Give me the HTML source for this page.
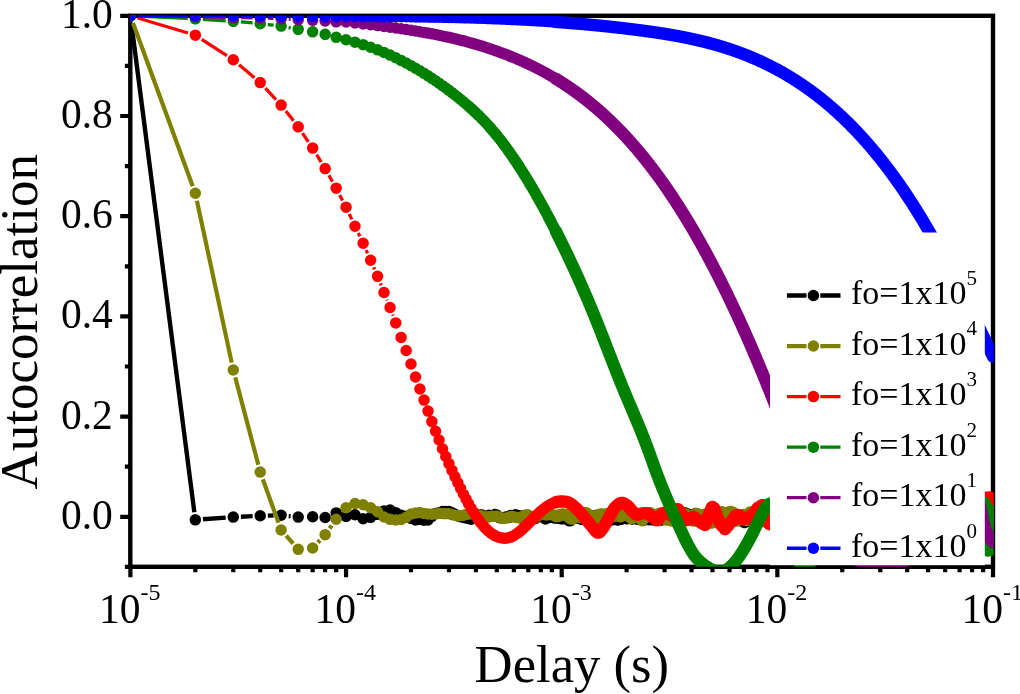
<!DOCTYPE html><html><head><meta charset="utf-8"><style>html,body{margin:0;padding:0;background:#fff;}svg{display:block;}text{font-family:"Liberation Serif","Times New Roman",serif;fill:#000;}</style></head><body>
<svg width="1020" height="694" viewBox="0 0 1020 694">
<rect width="1020" height="694" fill="#fff"/>
<defs><clipPath id="pc"><rect x="130.3" y="15.8" width="863.5" height="551"/></clipPath></defs>
<rect x="130.3" y="15.8" width="862.7" height="551" fill="none" stroke="#000" stroke-width="4.4"/>
<path d="M124.9 566.9H130.3M120.2 516.8H130.3M124.9 466.7H130.3M120.2 416.6H130.3M124.9 366.5H130.3M120.2 316.4H130.3M124.9 266.3H130.3M120.2 216.2H130.3M124.9 166.1H130.3M120.2 116H130.3M124.9 65.9H130.3M120.2 15.8H130.3M130.4 566.8V577.3M195.32 566.8V572.2M233.29 566.8V572.2M260.23 566.8V572.2M281.13 566.8V572.2M298.21 566.8V572.2M312.65 566.8V572.2M325.15 566.8V572.2M336.18 566.8V572.2M346.05 566.8V577.3M410.97 566.8V572.2M448.94 566.8V572.2M475.88 566.8V572.2M496.78 566.8V572.2M513.86 566.8V572.2M528.3 566.8V572.2M540.8 566.8V572.2M551.83 566.8V572.2M561.7 566.8V577.3M626.62 566.8V572.2M664.59 566.8V572.2M691.53 566.8V572.2M712.43 566.8V572.2M729.51 566.8V572.2M743.95 566.8V572.2M756.45 566.8V572.2M767.48 566.8V572.2M777.35 566.8V577.3M842.27 566.8V572.2M880.24 566.8V572.2M907.18 566.8V572.2M928.08 566.8V572.2M945.16 566.8V572.2M959.6 566.8V572.2M972.1 566.8V572.2M983.13 566.8V572.2M993 566.8V577.3" stroke="#000" stroke-width="4.2" fill="none"/>
<g clip-path="url(#pc)">
<path d="M131.37 23.34L194.35 512.27M202.9 519.27L225.71 517.64M240.88 516.73L252.64 516.17M267.83 515.62L273.54 515.48M288.69 516.1L290.65 516.3" stroke="#000000" stroke-width="4.4" fill="none"/>
<path d="M124.65 15.8a5.75 5.75 0 1 0 11.5 0a5.75 5.75 0 1 0 -11.5 0M189.57 519.81a5.75 5.75 0 1 0 11.5 0a5.75 5.75 0 1 0 -11.5 0M227.54 517.1a5.75 5.75 0 1 0 11.5 0a5.75 5.75 0 1 0 -11.5 0M254.48 515.8a5.75 5.75 0 1 0 11.5 0a5.75 5.75 0 1 0 -11.5 0M275.38 515.3a5.75 5.75 0 1 0 11.5 0a5.75 5.75 0 1 0 -11.5 0M292.46 517.1a5.75 5.75 0 1 0 11.5 0a5.75 5.75 0 1 0 -11.5 0M306.9 516.8a5.75 5.75 0 1 0 11.5 0a5.75 5.75 0 1 0 -11.5 0M319.4 517.5a5.75 5.75 0 1 0 11.5 0a5.75 5.75 0 1 0 -11.5 0M330.43 512.89a5.75 5.75 0 1 0 11.5 0a5.75 5.75 0 1 0 -11.5 0M340.3 516.5a5.75 5.75 0 1 0 11.5 0a5.75 5.75 0 1 0 -11.5 0M349.23 514.8a5.75 5.75 0 1 0 11.5 0a5.75 5.75 0 1 0 -11.5 0M357.38 518.8a5.75 5.75 0 1 0 11.5 0a5.75 5.75 0 1 0 -11.5 0M364.87 517.33a5.75 5.75 0 1 0 11.5 0a5.75 5.75 0 1 0 -11.5 0M371.81 514.33a5.75 5.75 0 1 0 11.5 0a5.75 5.75 0 1 0 -11.5 0M378.27 510.89a5.75 5.75 0 1 0 11.5 0a5.75 5.75 0 1 0 -11.5 0M384.32 510.08a5.75 5.75 0 1 0 11.5 0a5.75 5.75 0 1 0 -11.5 0M390 512.64a5.75 5.75 0 1 0 11.5 0a5.75 5.75 0 1 0 -11.5 0M395.35 515.13a5.75 5.75 0 1 0 11.5 0a5.75 5.75 0 1 0 -11.5 0M400.41 516.36a5.75 5.75 0 1 0 11.5 0a5.75 5.75 0 1 0 -11.5 0M405.22 518.33a5.75 5.75 0 1 0 11.5 0a5.75 5.75 0 1 0 -11.5 0M409.79 519.97a5.75 5.75 0 1 0 11.5 0a5.75 5.75 0 1 0 -11.5 0M414.14 519.17a5.75 5.75 0 1 0 11.5 0a5.75 5.75 0 1 0 -11.5 0M418.31 520.18a5.75 5.75 0 1 0 11.5 0a5.75 5.75 0 1 0 -11.5 0M422.29 519.88a5.75 5.75 0 1 0 11.5 0a5.75 5.75 0 1 0 -11.5 0M426.12 516.34a5.75 5.75 0 1 0 11.5 0a5.75 5.75 0 1 0 -11.5 0M429.79 513.38a5.75 5.75 0 1 0 11.5 0a5.75 5.75 0 1 0 -11.5 0M433.32 512.84a5.75 5.75 0 1 0 11.5 0a5.75 5.75 0 1 0 -11.5 0M436.73 511.49a5.75 5.75 0 1 0 11.5 0a5.75 5.75 0 1 0 -11.5 0M440.02 511.46a5.75 5.75 0 1 0 11.5 0a5.75 5.75 0 1 0 -11.5 0M443.19 511.38a5.75 5.75 0 1 0 11.5 0a5.75 5.75 0 1 0 -11.5 0M446.26 512.8a5.75 5.75 0 1 0 11.5 0a5.75 5.75 0 1 0 -11.5 0M449.24 514.35a5.75 5.75 0 1 0 11.5 0a5.75 5.75 0 1 0 -11.5 0M452.12 516.01a5.75 5.75 0 1 0 11.5 0a5.75 5.75 0 1 0 -11.5 0M454.91 516.67a5.75 5.75 0 1 0 11.5 0a5.75 5.75 0 1 0 -11.5 0M457.63 517.46a5.75 5.75 0 1 0 11.5 0a5.75 5.75 0 1 0 -11.5 0M460.27 517.88a5.75 5.75 0 1 0 11.5 0a5.75 5.75 0 1 0 -11.5 0M462.83 518.62a5.75 5.75 0 1 0 11.5 0a5.75 5.75 0 1 0 -11.5 0M465.33 519.2a5.75 5.75 0 1 0 11.5 0a5.75 5.75 0 1 0 -11.5 0M467.76 516.87a5.75 5.75 0 1 0 11.5 0a5.75 5.75 0 1 0 -11.5 0M470.13 518.4a5.75 5.75 0 1 0 11.5 0a5.75 5.75 0 1 0 -11.5 0M472.45 516.57a5.75 5.75 0 1 0 11.5 0a5.75 5.75 0 1 0 -11.5 0M474.7 514.74a5.75 5.75 0 1 0 11.5 0a5.75 5.75 0 1 0 -11.5 0M476.91 515.36a5.75 5.75 0 1 0 11.5 0a5.75 5.75 0 1 0 -11.5 0M479.06 516.16a5.75 5.75 0 1 0 11.5 0a5.75 5.75 0 1 0 -11.5 0M481.17 516.87a5.75 5.75 0 1 0 11.5 0a5.75 5.75 0 1 0 -11.5 0M483.22 515.3a5.75 5.75 0 1 0 11.5 0a5.75 5.75 0 1 0 -11.5 0M485.24 516.34a5.75 5.75 0 1 0 11.5 0a5.75 5.75 0 1 0 -11.5 0M487.21 516.27a5.75 5.75 0 1 0 11.5 0a5.75 5.75 0 1 0 -11.5 0M489.14 514.47a5.75 5.75 0 1 0 11.5 0a5.75 5.75 0 1 0 -11.5 0M491.03 515.05a5.75 5.75 0 1 0 11.5 0a5.75 5.75 0 1 0 -11.5 0M492.89 517.2a5.75 5.75 0 1 0 11.5 0a5.75 5.75 0 1 0 -11.5 0M494.71 517.85a5.75 5.75 0 1 0 11.5 0a5.75 5.75 0 1 0 -11.5 0M496.49 518.08a5.75 5.75 0 1 0 11.5 0a5.75 5.75 0 1 0 -11.5 0M498.24 517.43a5.75 5.75 0 1 0 11.5 0a5.75 5.75 0 1 0 -11.5 0M499.96 516.96a5.75 5.75 0 1 0 11.5 0a5.75 5.75 0 1 0 -11.5 0M501.65 516.85a5.75 5.75 0 1 0 11.5 0a5.75 5.75 0 1 0 -11.5 0M503.3 517.39a5.75 5.75 0 1 0 11.5 0a5.75 5.75 0 1 0 -11.5 0M504.93 515.53a5.75 5.75 0 1 0 11.5 0a5.75 5.75 0 1 0 -11.5 0M506.53 515.86a5.75 5.75 0 1 0 11.5 0a5.75 5.75 0 1 0 -11.5 0M508.11 516.08a5.75 5.75 0 1 0 11.5 0a5.75 5.75 0 1 0 -11.5 0M509.66 514.79a5.75 5.75 0 1 0 11.5 0a5.75 5.75 0 1 0 -11.5 0M511.18 516.91a5.75 5.75 0 1 0 11.5 0a5.75 5.75 0 1 0 -11.5 0M512.68 515.53a5.75 5.75 0 1 0 11.5 0a5.75 5.75 0 1 0 -11.5 0M514.15 516.38a5.75 5.75 0 1 0 11.5 0a5.75 5.75 0 1 0 -11.5 0M515.6 518.27a5.75 5.75 0 1 0 11.5 0a5.75 5.75 0 1 0 -11.5 0M517.03 515.63a5.75 5.75 0 1 0 11.5 0a5.75 5.75 0 1 0 -11.5 0M518.44 515.74a5.75 5.75 0 1 0 11.5 0a5.75 5.75 0 1 0 -11.5 0M519.83 517.48a5.75 5.75 0 1 0 11.5 0a5.75 5.75 0 1 0 -11.5 0M521.2 515.29a5.75 5.75 0 1 0 11.5 0a5.75 5.75 0 1 0 -11.5 0M522.55 515.6a5.75 5.75 0 1 0 11.5 0a5.75 5.75 0 1 0 -11.5 0M523.87 516.88a5.75 5.75 0 1 0 11.5 0a5.75 5.75 0 1 0 -11.5 0M525.18 517.16a5.75 5.75 0 1 0 11.5 0a5.75 5.75 0 1 0 -11.5 0M526.48 517.28a5.75 5.75 0 1 0 11.5 0a5.75 5.75 0 1 0 -11.5 0M527.75 517.39a5.75 5.75 0 1 0 11.5 0a5.75 5.75 0 1 0 -11.5 0M529.01 518.39a5.75 5.75 0 1 0 11.5 0a5.75 5.75 0 1 0 -11.5 0M530.25 518.22a5.75 5.75 0 1 0 11.5 0a5.75 5.75 0 1 0 -11.5 0M531.47 517.35a5.75 5.75 0 1 0 11.5 0a5.75 5.75 0 1 0 -11.5 0M532.68 515.82a5.75 5.75 0 1 0 11.5 0a5.75 5.75 0 1 0 -11.5 0M533.87 515.15a5.75 5.75 0 1 0 11.5 0a5.75 5.75 0 1 0 -11.5 0M535.05 514.55a5.75 5.75 0 1 0 11.5 0a5.75 5.75 0 1 0 -11.5 0M536.21 516.51a5.75 5.75 0 1 0 11.5 0a5.75 5.75 0 1 0 -11.5 0M537.36 515.19a5.75 5.75 0 1 0 11.5 0a5.75 5.75 0 1 0 -11.5 0M538.5 517.85a5.75 5.75 0 1 0 11.5 0a5.75 5.75 0 1 0 -11.5 0M539.62 518.9a5.75 5.75 0 1 0 11.5 0a5.75 5.75 0 1 0 -11.5 0M540.73 516a5.75 5.75 0 1 0 11.5 0a5.75 5.75 0 1 0 -11.5 0M541.82 515.69a5.75 5.75 0 1 0 11.5 0a5.75 5.75 0 1 0 -11.5 0M542.91 516.39a5.75 5.75 0 1 0 11.5 0a5.75 5.75 0 1 0 -11.5 0M543.98 517.47a5.75 5.75 0 1 0 11.5 0a5.75 5.75 0 1 0 -11.5 0M545.04 516.13a5.75 5.75 0 1 0 11.5 0a5.75 5.75 0 1 0 -11.5 0M546.08 516.39a5.75 5.75 0 1 0 11.5 0a5.75 5.75 0 1 0 -11.5 0M547.12 516.24a5.75 5.75 0 1 0 11.5 0a5.75 5.75 0 1 0 -11.5 0M548.14 516.88a5.75 5.75 0 1 0 11.5 0a5.75 5.75 0 1 0 -11.5 0M549.15 518.09a5.75 5.75 0 1 0 11.5 0a5.75 5.75 0 1 0 -11.5 0M550.16 516.28a5.75 5.75 0 1 0 11.5 0a5.75 5.75 0 1 0 -11.5 0" fill="#000000"/>
<path d="M549.96 514.54 550.46 513.32 550.96 512.55 551.46 511.96 551.96 511.5 552.46 511.13 552.96 510.83 553.46 510.58 553.96 510.39 554.46 510.25 554.96 510.15 555.46 510.1 555.96 510.08 556.46 510.1 556.96 510.17 557.46 510.28 557.96 510.33 558.46 510.2 558.96 510.11 559.46 510.06 559.96 510.05 560.46 510.08 560.96 510.16 561.46 509.9 561.96 509.65 562.46 509.46 562.96 509.31 563.46 509.21 563.96 509.14 564.46 509.12 564.96 509.14 565.46 509.2 565.96 509.3 566.46 509.45 566.96 509.64 567.46 509.89 567.96 510.2 568.46 510.16 568.96 509.8 569.46 509.51 569.96 509.28 570.46 509.05 570.96 508.83 571.46 508.67 571.96 508.55 572.46 508.47 572.96 508.44 573.46 508.44 573.96 508.49 574.46 508.57 574.96 508.7 575.46 508.88 575.96 509.11 576.46 509.39 576.96 509.74 577.46 509.59 577.96 509.43 578.46 509.32 578.96 509.25 579.46 509.23 579.96 509.24 580.46 509.29 580.96 509.39 581.46 509.52 581.96 509.71 582.46 509.95 582.96 510.2 583.46 510.25 583.96 510.34 584.46 510.48 584.96 510.62 585.46 510.71 585.96 510.85 586.46 511.01 586.96 510.95 587.46 510.78 587.96 510.67 588.46 510.59 588.96 510.56 589.46 510.57 589.96 510.62 590.46 510.71 590.96 510.75 591.46 510.51 591.96 510.33 592.46 510.19 592.96 510.09 593.46 510.03 593.96 510.02 594.46 509.91 594.96 509.76 595.46 509.65 595.96 509.59 596.46 509.56 596.96 509.58 597.46 509.64 597.96 509.74 598.46 509.88 598.96 509.72 599.46 509.45 599.96 509.24 600.46 509.07 600.96 508.95 601.46 508.88 601.96 508.84 602.46 508.85 602.96 508.89 603.46 508.96 603.96 508.85 604.46 508.77 604.96 508.74 605.46 508.74 605.96 508.79 606.46 508.83 606.96 508.91 607.46 509.03 607.96 509.2 608.46 509.42 608.96 509.7 609.46 510.04 609.96 510.46 610.46 510.67 610.96 510.91 611.46 511.21 611.96 511.4 612.46 511.28 612.96 511.21 613.46 511.18 613.96 511.19 614.46 511.24 614.96 511.16 615.46 511.07 615.96 510.76 616.46 510.4 616.96 510.11 617.46 509.87 617.96 509.69 618.46 509.56 618.96 509.46 619.46 509.41 619.96 509.11 620.46 508.82 620.96 508.56 621.46 508.33 621.96 508.16 622.46 508.03 622.96 507.94 623.46 507.89 623.96 507.89 624.46 507.92 624.96 508 625.46 508.12 625.96 508.29 626.46 508.46 626.96 508.35 627.46 508.29 627.96 508.19 628.46 508.01 628.96 507.88 629.46 507.79 629.96 507.74 630.46 507.7 630.96 507.7 631.46 507.74 631.96 507.82 632.46 507.94 632.96 508.11 633.46 508.25 633.96 508.28 634.46 508.34 634.96 508.45 635.46 508.61 635.96 508.77 636.46 508.76 636.96 508.78 637.46 508.85 637.96 508.96 638.46 509.11 638.96 509.31 639.46 509.46 639.96 509.57 640.46 509.71 640.96 509.9 641.46 510.15 641.96 510.42 642.46 510.46 642.96 510.51 643.46 510.3 643.96 510.13 644.46 510.02 644.96 509.91 645.46 509.85 645.96 509.82 646.46 509.84 646.96 509.89 647.46 509.99 647.96 510.14 648.46 510.33 648.96 510.47 649.46 510.39 649.96 510.35 650.46 510.33 650.96 510.35 651.46 510.41 651.96 510.51 652.46 510.48 652.96 510.16 653.46 509.89 653.96 509.68 654.46 509.52 654.96 509.4 655.46 509.33 655.96 509.3 656.46 509.31 656.96 509.22 657.46 509.14 657.96 509.11 658.46 509.11 658.96 509.16 659.46 509.25 659.96 509.38 660.46 509.39 660.96 509.12 661.46 508.91 661.96 508.74 662.46 508.62 662.96 508.54 663.46 508.51 663.96 508.51 664.46 508.56 664.96 508.64 665.46 508.77 665.96 508.95 666.46 508.92 666.96 508.74 667.46 508.6 667.96 508.5 668.46 508.45 668.96 508.44 669.46 508.47 669.96 508.2 670.46 507.84 670.96 507.55 671.46 507.32 671.96 507.14 672.46 507.01 672.96 506.92 673.46 506.87 673.96 506.86 674.46 506.89 674.96 506.97 675.46 507.08 675.96 507.25 676.46 507.46 676.96 507.72 677.46 508.05 677.96 508.37 678.46 508.39 678.96 508.46 679.46 508.56 679.96 508.71 680.46 508.7 680.96 508.62 681.46 508.24 681.96 507.92 682.46 507.67 682.96 507.47 683.46 507.32 683.96 507.22 684.46 507.15 684.96 507.13 685.46 507.15 685.96 507.21 686.46 507.31 686.96 507.45 687.46 507.64 687.96 507.89 688.46 508.19 688.96 508.43 689.46 508.55 689.96 508.72 690.46 508.94 690.96 509.22 691.46 509.44 691.96 509.03 692.46 508.69 692.96 508.42 693.46 508.2 693.96 508.04 694.46 507.92 694.96 507.84 695.46 507.8 695.96 507.81 696.46 507.85 696.96 507.94 697.46 508.07 697.96 508.24 698.46 508.47 698.96 508.7 699.46 508.72 699.96 508.78 700.46 508.88 700.96 509.03 701.46 509.22 701.96 509.45 702.46 509.73 702.96 510.07 703.46 510.03 703.96 510.04 704.46 510.09 704.96 510.18 705.46 510.32 705.96 510.5 706.46 510.7 706.96 510.66 707.46 510.64 707.96 510.67 708.46 510.73 708.96 510.81 709.46 510.87 709.96 510.98 710.46 511.13 710.96 511.23 711.46 510.97 711.96 510.76 712.46 510.6 712.96 510.38 713.46 510.21 713.96 510.09 714.46 510.01 714.96 509.97 715.46 509.97 715.96 509.88 716.46 509.77 716.96 509.7 717.46 509.67 717.96 509.69 718.46 509.73 718.96 509.69 719.46 509.68 719.96 509.71 720.46 509.63 720.96 509.59 721.46 509.52 721.96 509.5 722.46 509.18 722.96 508.89 723.46 508.65 723.96 508.47 724.46 508.33 724.96 508.24 725.46 508.18 725.96 508.17 726.46 508.2 726.96 508.27 727.46 508.38 727.96 508.54 728.46 508.75 728.96 509.01 729.46 509.33 729.96 509.73 730.46 509.68 730.96 509.59 731.46 509.54 731.96 509.47 732.46 509.21 732.96 509 733.46 508.83 733.96 508.72 734.46 508.64 734.96 508.61 735.46 508.62 735.96 508.67 736.46 508.76 736.96 508.89 737.46 509.07 737.96 509.3 738.46 509.59 738.96 509.78 739.46 509.77 739.96 509.79 740.46 509.85 740.96 509.93 741.46 509.8 741.96 509.71 742.46 509.67 742.96 509.67 743.46 509.71 743.96 509.79 744.46 509.8 744.96 509.85 745.46 509.94 745.96 510.08 746.46 510.07 746.96 510.05 747.46 510.07 747.96 510.13 748.46 509.89 748.96 509.48 749.46 509.14 749.96 508.88 750.46 508.66 750.96 508.5 751.46 508.38 751.96 508.31 752.46 508.27 752.96 508.28 753.46 508.33 753.96 508.41 754.46 508.55 754.96 508.72 755.46 508.95 755.96 509.24 756.46 509.59 756.96 509.89 757.46 509.96 757.96 510.06 758.46 510.21 758.96 510.08 759.46 509.96 759.96 509.88 760.46 509.84 760.96 509.84 761.46 509.88 761.96 509.84 762.46 509.54 762.96 509.11 763.46 508.76 763.96 508.47 764.46 508.25 764.96 508.07 765.46 507.95 765.96 507.86 766.46 507.82 766.96 507.81 767.46 507.85 767.96 507.93 768.46 508.05 768.96 508.21 769.46 508.26 769.96 508.12 770.46 508.03 770.96 507.98 771.46 507.96 771.96 507.99 772.46 508.06 772.96 508.17 773.46 508.02 773.96 507.83 774.46 507.68 774.96 507.58 775.46 507.52 775.96 507.5 776.46 507.52 776.96 507.46 777.46 507.27 777.96 507.13 778.46 507.03 778.96 506.97 779.46 506.96 779.96 506.99 780.46 507.05 780.96 507.16 781.46 507.31 781.96 507.52 782.46 507.77 782.96 508.03 783.46 508.04 783.96 507.98 784.46 507.96 784.96 507.98 785.46 507.88 785.96 507.71 786.46 507.6 786.96 507.52 787.46 507.49 787.96 507.49 788.46 507.54 788.96 507.5 789.46 507.36 789.96 507.26 790.46 507.2 790.96 507.18 791.46 507.07 791.96 506.88 792.46 506.74 792.96 506.64 793.46 506.59 793.96 506.57 794.46 506.6 794.96 506.67 795.46 506.78 795.96 506.55 796.46 506.37 796.96 506.23 797.46 506.14 797.96 506.09 798.46 506.08 798.96 506.11 799.46 506.18 799.96 506.3 800.46 506.46 800.96 506.67 801.46 506.93 801.96 507.25 802.46 507.66 802.96 508.16 803.46 508.41 803.96 508.41 804.46 508.45 804.96 508.53 805.46 508.65 805.96 508.82 806.46 509.05 806.96 509.32 807.46 509.63 807.96 509.51 808.46 509.36 808.96 509.25 809.46 509.19 809.96 509.17 810.46 509.16 810.96 509 811.46 508.88 811.96 508.8 812.46 508.76 812.96 508.6 813.46 508.49 813.96 508.42 814.46 508.39 814.96 508.4 815.46 508.45 815.96 508.54 816.46 508.48 816.96 508.25 817.46 508.06 817.96 507.92 818.46 507.83 818.96 507.71 819.46 507.6 819.96 507.53 820.46 507.5 820.96 507.52 821.46 507.34 821.96 507.2 822.46 507.09 822.96 507.03 823.46 507.01 823.96 507.03 824.46 507.1 824.96 506.94 825.46 506.69 825.96 506.5 826.46 506.36 826.96 506.26 827.46 506.2 827.96 506.18 828.46 506.2 828.96 506.27 829.46 506.37 829.96 506.52 830.46 506.72 830.96 506.97 831.46 507.28 831.96 507.67 832.46 507.76 832.96 507.79 833.46 507.86 833.96 507.97 834.46 508.13 834.96 508.33 835.46 508.59 835.96 508.88 836.46 508.99 836.96 509.13 837.46 509.19 837.96 509.2 838.46 509.12 838.96 509.04 839.46 508.99 839.96 508.99 840.46 509.02 840.96 509.1 841.46 509.22 841.96 509.39 842.46 509.61 842.96 509.88 843.46 510.21 843.96 510.4 844.46 510.35 844.96 510.27 845.46 510.23 845.96 510.16 846.46 510.13 846.96 510.09 847.46 509.88 847.96 509.67 848.46 509.49 848.96 509.37 849.46 509.29 849.96 509.25 850.46 509.25 850.96 509.29 851.46 509.33 851.96 509.27 852.46 509.13 852.96 509.04 853.46 508.99 853.96 508.98 854.46 509.01 854.96 508.97 855.46 508.82 855.96 508.71 856.46 508.64 856.96 508.62 857.46 508.63 857.96 508.69 858.46 508.79 858.96 508.93 859.46 509.12 859.96 509.22 860.46 509.11 860.96 509.04 861.46 509.02 861.96 509.03 862.46 509.08 862.96 509.18 863.46 509.14 863.96 509.1 864.46 509.09 864.96 509.02 865.46 508.8 865.96 508.63 866.46 508.5 866.96 508.42 867.46 508.38 867.96 508.38 868.46 508.42 868.96 508.51 869.46 508.63 869.96 508.8 870.46 509.02 870.96 509.16 871.46 509.07 871.96 509.02 872.46 509 872.96 509.03 873.46 508.73 873.96 508.48 874.46 508.28 874.96 508.13 875.46 508.02 875.96 507.96 876.46 507.82 876.96 507.61 877.46 507.44 877.96 507.32 878.46 507.25 878.96 507.21 879.46 507.22 879.96 507.26 880.46 507.34 880.96 507.26 881.46 507.22 881.96 507.22 882.46 507.27 882.96 507.35 883.46 507.48 883.96 507.65 884.46 507.64 884.96 507.55 885.46 507.5 885.96 507.5 886.46 507.53 886.96 507.6 887.46 507.71 887.96 507.87 888.46 508.08 888.96 508.35 889.46 508.51 889.96 508.63 890.46 508.8 890.96 509.01 891.46 509.14 891.96 509.18 892.46 509.16 892.96 509.16 893.46 509.09 893.96 508.92 894.46 508.79 894.96 508.71 895.46 508.68 895.96 508.57 896.46 508.44 896.96 508.36 897.46 508.32 897.96 508.32 898.46 508.36 898.96 508.44 899.46 508.57 899.96 508.74 900.46 508.96 900.96 509.01 901.46 509.02 901.96 509.07 902.46 509.16 902.96 509.3 903.46 509.42 903.96 509.44 904.46 509.41 904.96 509.16 905.46 508.96 905.96 508.81 906.46 508.71 906.96 508.64 907.46 508.41 907.96 508.2 908.46 508.03 908.96 507.91 909.46 507.83 909.96 507.59 910.46 507.38 910.96 507.22 911.46 507.11 911.96 507.04 912.46 507.01 912.96 507.02 913.46 507.02 913.96 506.89 914.46 506.8 914.96 506.75 915.46 506.75 915.96 506.68 916.46 506.55 916.96 506.47 917.46 506.43 917.96 506.43 918.46 506.47 918.96 506.56 919.46 506.64 919.96 506.76 920.46 506.92 920.96 507.03 921.46 506.98 921.96 506.96 922.46 506.83 922.96 506.71 923.46 506.63 923.96 506.59 924.46 506.59 924.96 506.63 925.46 506.71 925.96 506.84 926.46 507.01 926.96 507.23 927.46 507.51 927.96 507.85 928.46 508.27 928.96 508.8 929.46 509.02 929.96 509.27 930.46 509.24 930.96 509.19 931.46 509.17 931.96 509.2 932.46 509.26 932.96 509.37 933.46 509.52 933.96 509.72 934.46 509.8 934.96 509.68 935.46 509.47 935.96 509.32 936.46 509.21 936.96 509.14 937.46 509.12 937.96 509.03 938.46 508.91 938.96 508.84 939.46 508.81 939.96 508.81 940.46 508.86 940.96 508.95 941.46 509.08 941.96 509.26 942.46 509.35 942.96 509.45 943.46 509.32 943.96 509.24 944.46 509.14 944.96 508.97 945.46 508.84 945.96 508.76 946.46 508.72 946.96 508.63 947.46 508.58 947.96 508.56 948.46 508.59 948.96 508.66 949.46 508.77 949.96 508.93 950.46 509.04 950.96 508.84 951.46 508.66 951.96 508.52 952.46 508.36 952.96 508.21 953.46 508.1 953.96 508.03 954.46 508.01 954.96 508.02 955.46 508.08 955.96 508.04 956.46 507.77 956.96 507.56 957.46 507.39 957.96 507.27 958.46 507.19 958.96 507.15 959.46 507.15 959.96 507.2 960.46 507.28 960.96 507.41 961.46 507.59 961.96 507.44 962.46 507.31 962.96 507.21 963.46 507.16 963.96 507.15 964.46 507.17 964.96 507.13 965.46 507.12 965.96 507.15 966.46 507.22 966.96 507.34 967.46 507.5 967.96 507.56 968.46 507.55 968.96 507.57 969.46 507.64 969.96 507.75 970.46 507.9 970.96 508.1 971.46 508.22 971.96 508.29 972.46 508.41 972.96 508.52 973.46 508.54 973.96 508.59 974.46 508.69 974.96 508.83 975.46 508.98 975.96 508.88 976.46 508.83 976.96 508.76 977.46 508.53 977.96 508.36 978.46 508.23 978.96 508.14 979.46 508.1 979.96 508.1 980.46 508.13 980.96 508.2 981.46 508.13 981.96 508.11 982.46 508.12 982.96 508.06 983.46 507.91 983.96 507.8 984.46 507.62 984.96 507.39 985.46 507.21 985.96 507.07 986.46 506.99 986.96 506.94 987.46 506.93 987.96 506.96 988.46 506.82 988.96 506.64 989.46 506.26 989.96 505.95 990.46 505.71 990.96 505.51 991.46 505.37 991.96 505.27 992.46 505.21 992.96 505.19 993.46 505.21 993.96 505.27 994.46 505.38 L994.46 523.8 993.96 523.94 993.46 524.04 992.96 524.1 992.46 524.13 991.96 524.39 991.46 524.59 990.96 524.75 990.46 524.86 989.96 524.92 989.46 525.04 988.96 525.28 988.46 525.47 987.96 525.68 987.46 525.89 986.96 526.06 986.46 526.27 985.96 526.48 985.46 526.64 984.96 526.75 984.46 526.82 983.96 526.85 983.46 526.84 982.96 526.79 982.46 526.87 981.96 526.97 981.46 527.1 980.96 527.31 980.46 527.48 979.96 527.6 979.46 527.68 978.96 527.71 978.46 527.71 977.96 527.67 977.46 527.62 976.96 527.55 976.46 527.55 975.96 527.66 975.46 527.73 974.96 527.75 974.46 527.74 973.96 527.68 973.46 527.59 972.96 527.45 972.46 527.34 971.96 527.27 971.46 527.31 970.96 527.37 970.46 527.38 969.96 527.36 969.46 527.29 968.96 527.18 968.46 527.03 967.96 526.83 967.46 526.58 966.96 526.41 966.46 526.32 965.96 526.21 965.46 526.23 964.96 526.2 964.46 526.13 963.96 526.03 963.46 525.97 962.96 526.01 962.46 526 961.96 525.95 961.46 525.94 960.96 526 960.46 526.01 959.96 525.99 959.46 525.95 958.96 526.07 958.46 526.33 957.96 526.54 957.46 526.69 956.96 526.81 956.46 526.87 955.96 526.9 955.46 526.97 954.96 527.09 954.46 527.16 953.96 527.19 953.46 527.42 952.96 527.81 952.46 528.13 951.96 528.39 951.46 528.59 950.96 528.75 950.46 528.86 949.96 528.93 949.46 528.95 948.96 528.94 948.46 528.89 947.96 528.79 947.46 528.65 946.96 528.46 946.46 528.23 945.96 527.93 945.46 527.77 944.96 527.81 944.46 527.81 943.96 527.82 943.46 527.82 942.96 527.77 942.46 527.68 941.96 527.58 941.46 527.6 940.96 527.85 940.46 528.1 939.96 528.3 939.46 528.44 938.96 528.55 938.46 528.61 937.96 528.63 937.46 528.61 936.96 528.54 936.46 528.44 935.96 528.29 935.46 528.14 934.96 528.14 934.46 528.2 933.96 528.21 933.46 528.19 932.96 528.12 932.46 528.12 931.96 528.13 931.46 528.11 930.96 528.05 930.46 527.94 929.96 527.79 929.46 527.59 928.96 527.34 928.46 527.22 927.96 527.26 927.46 527.26 926.96 527.37 926.46 527.5 925.96 527.58 925.46 527.62 924.96 527.63 924.46 527.59 923.96 527.51 923.46 527.39 922.96 527.22 922.46 527 921.96 526.73 921.46 526.39 920.96 526.15 920.46 526.01 919.96 525.82 919.46 525.59 918.96 525.29 918.46 525.15 917.96 525.12 917.46 525.04 916.96 525.15 916.46 525.23 915.96 525.26 915.46 525.25 914.96 525.2 914.46 525.11 913.96 525.04 913.46 525.3 912.96 525.52 912.46 525.95 911.96 526.31 911.46 526.6 910.96 526.83 910.46 527.01 909.96 527.14 909.46 527.24 908.96 527.42 908.46 527.55 907.96 527.65 907.46 527.7 906.96 527.71 906.46 527.67 905.96 527.6 905.46 527.6 904.96 527.65 904.46 527.65 903.96 527.62 903.46 527.66 902.96 527.75 902.46 527.81 901.96 527.88 901.46 527.96 900.96 528 900.46 528 899.96 527.97 899.46 527.88 898.96 527.76 898.46 527.59 897.96 527.37 897.46 527.1 896.96 527.16 896.46 527.39 895.96 527.56 895.46 527.69 894.96 527.78 894.46 527.83 893.96 527.83 893.46 527.8 892.96 527.72 892.46 527.6 891.96 527.43 891.46 527.22 890.96 526.95 890.46 526.89 889.96 526.86 889.46 526.77 888.96 526.7 888.46 526.63 887.96 526.51 887.46 526.35 886.96 526.16 886.46 526.05 885.96 525.95 885.46 525.81 884.96 525.76 884.46 525.92 883.96 526.07 883.46 526.18 882.96 526.25 882.46 526.28 881.96 526.27 881.46 526.21 880.96 526.12 880.46 525.98 879.96 525.79 879.46 525.55 878.96 525.71 878.46 525.88 877.96 526.01 877.46 526.09 876.96 526.13 876.46 526.14 875.96 526.1 875.46 526.02 874.96 526.04 874.46 526.06 873.96 526.08 873.46 526.2 872.96 526.42 872.46 526.73 871.96 527.18 871.46 527.54 870.96 527.84 870.46 528.08 869.96 528.26 869.46 528.4 868.96 528.49 868.46 528.55 867.96 528.56 867.46 528.53 866.96 528.46 866.46 528.35 865.96 528.19 865.46 527.99 864.96 527.98 864.46 527.99 863.96 527.97 863.46 527.9 862.96 527.8 862.46 527.65 861.96 527.45 861.46 527.19 860.96 526.88 860.46 526.49 859.96 526.45 859.46 526.42 858.96 526.55 858.46 526.64 857.96 526.68 857.46 526.69 856.96 526.65 856.46 526.58 855.96 526.58 855.46 526.7 854.96 526.79 854.46 526.83 853.96 526.84 853.46 526.8 852.96 526.72 852.46 526.74 851.96 526.83 851.46 526.87 850.96 526.88 850.46 526.84 849.96 526.77 849.46 526.98 848.96 527.3 848.46 527.56 847.96 527.77 847.46 527.92 846.96 528.04 846.46 528.11 845.96 528.13 845.46 528.12 844.96 528.07 844.46 527.98 843.96 527.84 843.46 527.65 842.96 527.42 842.46 527.25 841.96 527.1 841.46 526.89 840.96 526.64 840.46 526.49 839.96 526.57 839.46 526.73 838.96 526.84 838.46 526.91 837.96 526.94 837.46 526.93 836.96 526.87 836.46 526.84 835.96 526.9 835.46 526.91 834.96 526.89 834.46 526.82 833.96 526.71 833.46 526.56 832.96 526.51 832.46 526.43 831.96 526.31 831.46 526.14 830.96 525.92 830.46 525.64 829.96 525.59 829.46 525.66 828.96 525.68 828.46 525.67 827.96 525.62 827.46 525.53 826.96 525.42 826.46 525.27 825.96 525.08 825.46 524.84 824.96 524.58 824.46 524.55 823.96 524.65 823.46 524.71 822.96 524.74 822.46 524.84 821.96 524.95 821.46 525.01 820.96 525.03 820.46 525.01 819.96 524.94 819.46 524.84 818.96 525 818.46 525.21 817.96 525.37 817.46 525.48 816.96 525.55 816.46 525.59 815.96 525.64 815.46 525.8 814.96 526.09 814.46 526.31 813.96 526.49 813.46 526.62 812.96 526.71 812.46 526.75 811.96 526.76 811.46 526.72 810.96 526.73 810.46 526.71 809.96 526.84 809.46 527.16 808.96 527.42 808.46 527.62 807.96 527.78 807.46 527.89 806.96 527.96 806.46 527.99 805.96 527.98 805.46 527.92 804.96 527.83 804.46 527.69 803.96 527.51 803.46 527.27 802.96 526.97 802.46 526.61 801.96 526.33 801.46 526.25 800.96 526.37 800.46 526.45 799.96 526.49 799.46 526.48 798.96 526.44 798.46 526.36 797.96 526.23 797.46 526.06 796.96 525.83 796.46 525.55 795.96 525.2 795.46 524.78 794.96 524.53 794.46 524.39 793.96 524.61 793.46 524.78 792.96 524.9 792.46 524.98 791.96 525.02 791.46 525.02 790.96 524.97 790.46 524.89 789.96 524.76 789.46 524.59 788.96 524.36 788.46 524.1 787.96 524.21 787.46 524.27 786.96 524.31 786.46 524.38 785.96 524.41 785.46 524.4 784.96 524.34 784.46 524.25 783.96 524.11 783.46 524.1 782.96 524.11 782.46 524.11 781.96 524.11 781.46 524.06 780.96 524.2 780.46 524.33 779.96 524.48 779.46 524.59 778.96 524.66 778.46 524.69 777.96 524.67 777.46 524.62 776.96 524.52 776.46 524.38 775.96 524.21 775.46 524.17 774.96 524.31 774.46 524.41 773.96 524.47 773.46 524.48 772.96 524.46 772.46 524.52 771.96 524.67 771.46 524.79 770.96 524.86 770.46 524.88 769.96 524.87 769.46 524.89 768.96 524.95 768.46 524.98 767.96 524.98 767.46 525.1 766.96 525.17 766.46 525.2 765.96 525.22 765.46 525.52 764.96 525.75 764.46 525.94 763.96 526.07 763.46 526.41 762.96 526.81 762.46 527.14 761.96 527.4 761.46 527.61 760.96 527.77 760.46 527.88 759.96 527.95 759.46 527.98 758.96 527.97 758.46 527.92 757.96 527.83 757.46 527.69 756.96 527.51 756.46 527.43 755.96 527.31 755.46 527.16 754.96 527.28 754.46 527.35 753.96 527.38 753.46 527.37 752.96 527.36 752.46 527.46 751.96 527.53 751.46 527.55 750.96 527.54 750.46 527.48 749.96 527.38 749.46 527.24 748.96 527.05 748.46 526.81 747.96 527.15 747.46 527.45 746.96 527.7 746.46 527.89 745.96 528.03 745.46 528.14 744.96 528.19 744.46 528.21 743.96 528.19 743.46 528.13 742.96 528.02 742.46 527.87 741.96 527.68 741.46 527.43 740.96 527.11 740.46 526.73 739.96 526.26 739.46 526.31 738.96 526.32 738.46 526.28 737.96 526.2 737.46 526.08 736.96 526.08 736.46 526.25 735.96 526.38 735.46 526.47 734.96 526.51 734.46 526.51 733.96 526.47 733.46 526.4 732.96 526.27 732.46 526.11 731.96 525.89 731.46 525.62 730.96 525.58 730.46 525.74 729.96 525.85 729.46 525.91 728.96 525.94 728.46 525.92 727.96 525.87 727.46 525.77 726.96 525.63 726.46 525.44 725.96 525.33 725.46 525.39 724.96 525.41 724.46 525.51 723.96 525.56 723.46 525.58 722.96 525.59 722.46 525.78 721.96 525.92 721.46 526.02 720.96 526.08 720.46 526.1 719.96 526.07 719.46 526.01 718.96 525.9 718.46 525.75 717.96 525.58 717.46 525.37 716.96 525.46 716.46 525.54 715.96 525.58 715.46 525.64 714.96 525.78 714.46 525.87 713.96 525.92 713.46 525.97 712.96 526.15 712.46 526.28 711.96 526.37 711.46 526.42 710.96 526.42 710.46 526.39 709.96 526.32 709.46 526.42 708.96 526.7 708.46 526.91 707.96 527.08 707.46 527.2 706.96 527.28 706.46 527.32 705.96 527.32 705.46 527.27 704.96 527.19 704.46 527.06 703.96 526.89 703.46 526.69 702.96 526.62 702.46 526.51 701.96 526.36 701.46 526.33 700.96 526.28 700.46 526.2 699.96 526.07 699.46 525.9 698.96 525.74 698.46 525.83 697.96 525.87 697.46 525.87 696.96 525.84 696.46 525.76 695.96 525.64 695.46 525.48 694.96 525.26 694.46 524.99 693.96 524.65 693.46 524.39 692.96 524.49 692.46 524.57 691.96 524.6 691.46 524.6 690.96 524.55 690.46 524.47 689.96 524.39 689.46 524.3 688.96 524.22 688.46 524.22 687.96 524.32 687.46 524.38 686.96 524.44 686.46 524.49 685.96 524.51 685.46 524.49 684.96 524.42 684.46 524.32 683.96 524.26 683.46 524.34 682.96 524.39 682.46 524.39 681.96 524.35 681.46 524.26 680.96 524.14 680.46 523.99 679.96 524.02 679.46 524.01 678.96 523.96 678.46 523.86 677.96 523.88 677.46 523.88 676.96 523.84 676.46 523.87 675.96 523.92 675.46 523.96 674.96 523.96 674.46 523.92 673.96 524.13 673.46 524.41 672.96 524.64 672.46 524.82 671.96 524.95 671.46 525.04 670.96 525.08 670.46 525.09 669.96 525.05 669.46 524.98 668.96 524.86 668.46 524.79 667.96 524.83 667.46 524.84 666.96 524.8 666.46 524.72 665.96 524.6 665.46 524.44 664.96 524.61 664.46 524.92 663.96 525.17 663.46 525.37 662.96 525.52 662.46 525.63 661.96 525.69 661.46 525.71 660.96 525.7 660.46 525.64 659.96 525.54 659.46 525.4 658.96 525.21 658.46 524.96 657.96 524.66 657.46 524.62 656.96 524.81 656.46 524.94 655.96 525.04 655.46 525.11 654.96 525.15 654.46 525.14 653.96 525.27 653.46 525.39 652.96 525.47 652.46 525.5 651.96 525.5 651.46 525.45 650.96 525.37 650.46 525.27 649.96 525.34 649.46 525.4 648.96 525.41 648.46 525.39 647.96 525.32 647.46 525.22 646.96 525.06 646.46 525.22 645.96 525.4 645.46 525.54 644.96 525.63 644.46 525.68 643.96 525.69 643.46 525.66 642.96 525.59 642.46 525.47 641.96 525.31 641.46 525.11 640.96 524.84 640.46 524.66 639.96 524.8 639.46 524.94 638.96 525.03 638.46 525.08 637.96 525.1 637.46 525.07 636.96 525 636.46 524.88 635.96 524.73 635.46 524.52 634.96 524.29 634.46 524.48 633.96 524.62 633.46 524.72 632.96 524.77 632.46 524.79 631.96 524.76 631.46 524.7 630.96 524.59 630.46 524.44 629.96 524.24 629.46 524.05 628.96 524.23 628.46 524.37 627.96 524.46 627.46 524.51 626.96 524.52 626.46 524.49 625.96 524.42 625.46 524.3 624.96 524.14 624.46 524.09 623.96 524.35 623.46 524.56 622.96 524.72 622.46 524.83 621.96 524.91 621.46 524.94 620.96 524.93 620.46 525.11 619.96 525.32 619.46 525.49 618.96 525.6 618.46 525.68 617.96 525.71 617.46 525.71 616.96 525.66 616.46 525.57 615.96 525.44 615.46 525.26 614.96 525.24 614.46 525.25 613.96 525.21 613.46 525.14 612.96 525.39 612.46 525.65 611.96 525.87 611.46 526.04 610.96 526.16 610.46 526.24 609.96 526.28 609.46 526.28 608.96 526.24 608.46 526.15 607.96 526.02 607.46 525.85 606.96 525.68 606.46 525.46 605.96 525.19 605.46 524.86 604.96 524.44 604.46 523.92 603.96 523.51 603.46 523.49 602.96 523.43 602.46 523.57 601.96 523.73 601.46 523.85 600.96 523.92 600.46 523.95 599.96 523.95 599.46 523.9 598.96 523.81 598.46 523.78 597.96 523.84 597.46 524.06 596.96 524.23 596.46 524.36 595.96 524.45 595.46 524.55 594.96 524.6 594.46 524.62 593.96 524.88 593.46 525.19 592.96 525.43 592.46 525.62 591.96 525.76 591.46 525.86 590.96 525.92 590.46 525.94 589.96 525.91 589.46 525.85 588.96 525.74 588.46 525.59 587.96 525.39 587.46 525.26 586.96 525.4 586.46 525.5 585.96 525.55 585.46 525.56 584.96 525.54 584.46 525.47 583.96 525.36 583.46 525.2 582.96 525.03 582.46 525.1 581.96 525.13 581.46 525.11 580.96 525.06 580.46 524.97 579.96 524.83 579.46 524.65 578.96 524.41 578.46 524.12 577.96 524.07 577.46 524.05 576.96 524.04 576.46 524.06 575.96 524.09 575.46 524.1 574.96 524.1 574.46 524.47 573.96 524.98 573.46 525.39 572.96 525.72 572.46 525.99 571.96 526.21 571.46 526.37 570.96 526.49 570.46 526.57 569.96 526.6 569.46 526.6 568.96 526.55 568.46 526.46 567.96 526.33 567.46 526.16 566.96 525.94 566.46 525.75 565.96 525.51 565.46 525.21 564.96 524.83 564.46 524.37 563.96 524.45 563.46 524.54 562.96 524.59 562.46 524.59 561.96 524.56 561.46 524.48 560.96 524.43 560.46 524.4 559.96 524.36 559.46 524.27 558.96 524.14 558.46 523.97 557.96 523.92 557.46 523.82 556.96 523.74 556.46 523.64 555.96 523.5 555.46 523.31 554.96 523.07 554.46 522.78 553.96 522.41 553.46 522.06 552.96 521.73 552.46 521.43 551.96 521.06 551.46 520.6 550.96 520.01 550.46 519.23 549.96 518.02Z" fill="#000000"/>
<path d="M133.01 22.94L192.71 186.17M196.91 200.73L231.69 362.58M235.23 377.36L258.3 464.76M262.82 479.26L278.55 522.83M286.16 535.67L293.18 543.62M317.85 542.47L319.95 540.23M329.58 528.51L331.75 525.48" stroke="#808000" stroke-width="4.2" fill="none"/>
<path d="M124.65 15.8a5.75 5.75 0 1 0 11.5 0a5.75 5.75 0 1 0 -11.5 0M189.57 193.3a5.75 5.75 0 1 0 11.5 0a5.75 5.75 0 1 0 -11.5 0M227.54 370.01a5.75 5.75 0 1 0 11.5 0a5.75 5.75 0 1 0 -11.5 0M254.48 472.11a5.75 5.75 0 1 0 11.5 0a5.75 5.75 0 1 0 -11.5 0M275.38 529.98a5.75 5.75 0 1 0 11.5 0a5.75 5.75 0 1 0 -11.5 0M292.46 549.31a5.75 5.75 0 1 0 11.5 0a5.75 5.75 0 1 0 -11.5 0M306.9 548.01a5.75 5.75 0 1 0 11.5 0a5.75 5.75 0 1 0 -11.5 0M319.4 534.69a5.75 5.75 0 1 0 11.5 0a5.75 5.75 0 1 0 -11.5 0M330.43 519.3a5.75 5.75 0 1 0 11.5 0a5.75 5.75 0 1 0 -11.5 0M340.3 507.78a5.75 5.75 0 1 0 11.5 0a5.75 5.75 0 1 0 -11.5 0M349.23 503.52a5.75 5.75 0 1 0 11.5 0a5.75 5.75 0 1 0 -11.5 0M357.38 504.78a5.75 5.75 0 1 0 11.5 0a5.75 5.75 0 1 0 -11.5 0M364.87 507.78a5.75 5.75 0 1 0 11.5 0a5.75 5.75 0 1 0 -11.5 0M371.81 511.79a5.75 5.75 0 1 0 11.5 0a5.75 5.75 0 1 0 -11.5 0M378.27 517.01a5.75 5.75 0 1 0 11.5 0a5.75 5.75 0 1 0 -11.5 0M384.32 519.31a5.75 5.75 0 1 0 11.5 0a5.75 5.75 0 1 0 -11.5 0M390 520.02a5.75 5.75 0 1 0 11.5 0a5.75 5.75 0 1 0 -11.5 0M395.35 519.52a5.75 5.75 0 1 0 11.5 0a5.75 5.75 0 1 0 -11.5 0M400.41 517.31a5.75 5.75 0 1 0 11.5 0a5.75 5.75 0 1 0 -11.5 0M405.22 514.08a5.75 5.75 0 1 0 11.5 0a5.75 5.75 0 1 0 -11.5 0M409.79 513a5.75 5.75 0 1 0 11.5 0a5.75 5.75 0 1 0 -11.5 0M414.14 512.58a5.75 5.75 0 1 0 11.5 0a5.75 5.75 0 1 0 -11.5 0M418.31 513.42a5.75 5.75 0 1 0 11.5 0a5.75 5.75 0 1 0 -11.5 0M422.29 514.05a5.75 5.75 0 1 0 11.5 0a5.75 5.75 0 1 0 -11.5 0M426.12 514.17a5.75 5.75 0 1 0 11.5 0a5.75 5.75 0 1 0 -11.5 0M429.79 513.89a5.75 5.75 0 1 0 11.5 0a5.75 5.75 0 1 0 -11.5 0M433.32 513.36a5.75 5.75 0 1 0 11.5 0a5.75 5.75 0 1 0 -11.5 0M436.73 513.46a5.75 5.75 0 1 0 11.5 0a5.75 5.75 0 1 0 -11.5 0M440.02 513.62a5.75 5.75 0 1 0 11.5 0a5.75 5.75 0 1 0 -11.5 0M443.19 513.77a5.75 5.75 0 1 0 11.5 0a5.75 5.75 0 1 0 -11.5 0M446.26 514.58a5.75 5.75 0 1 0 11.5 0a5.75 5.75 0 1 0 -11.5 0M449.24 515.31a5.75 5.75 0 1 0 11.5 0a5.75 5.75 0 1 0 -11.5 0M452.12 515.65a5.75 5.75 0 1 0 11.5 0a5.75 5.75 0 1 0 -11.5 0M454.91 515.56a5.75 5.75 0 1 0 11.5 0a5.75 5.75 0 1 0 -11.5 0M457.63 515.14a5.75 5.75 0 1 0 11.5 0a5.75 5.75 0 1 0 -11.5 0M460.27 514.55a5.75 5.75 0 1 0 11.5 0a5.75 5.75 0 1 0 -11.5 0M462.83 514a5.75 5.75 0 1 0 11.5 0a5.75 5.75 0 1 0 -11.5 0M465.33 513.66a5.75 5.75 0 1 0 11.5 0a5.75 5.75 0 1 0 -11.5 0M467.76 513.63a5.75 5.75 0 1 0 11.5 0a5.75 5.75 0 1 0 -11.5 0M470.13 513.96a5.75 5.75 0 1 0 11.5 0a5.75 5.75 0 1 0 -11.5 0M472.45 514.67a5.75 5.75 0 1 0 11.5 0a5.75 5.75 0 1 0 -11.5 0M474.7 515.59a5.75 5.75 0 1 0 11.5 0a5.75 5.75 0 1 0 -11.5 0M476.91 516.37a5.75 5.75 0 1 0 11.5 0a5.75 5.75 0 1 0 -11.5 0M479.06 516.77a5.75 5.75 0 1 0 11.5 0a5.75 5.75 0 1 0 -11.5 0M481.17 516.84a5.75 5.75 0 1 0 11.5 0a5.75 5.75 0 1 0 -11.5 0M483.22 516.74a5.75 5.75 0 1 0 11.5 0a5.75 5.75 0 1 0 -11.5 0M485.24 516.54a5.75 5.75 0 1 0 11.5 0a5.75 5.75 0 1 0 -11.5 0M487.21 516.3a5.75 5.75 0 1 0 11.5 0a5.75 5.75 0 1 0 -11.5 0M489.14 516.18a5.75 5.75 0 1 0 11.5 0a5.75 5.75 0 1 0 -11.5 0M491.03 516.34a5.75 5.75 0 1 0 11.5 0a5.75 5.75 0 1 0 -11.5 0M492.89 516.83a5.75 5.75 0 1 0 11.5 0a5.75 5.75 0 1 0 -11.5 0M494.71 517.48a5.75 5.75 0 1 0 11.5 0a5.75 5.75 0 1 0 -11.5 0M496.49 518.07a5.75 5.75 0 1 0 11.5 0a5.75 5.75 0 1 0 -11.5 0M498.24 518.39a5.75 5.75 0 1 0 11.5 0a5.75 5.75 0 1 0 -11.5 0M499.96 518.25a5.75 5.75 0 1 0 11.5 0a5.75 5.75 0 1 0 -11.5 0M501.65 517.69a5.75 5.75 0 1 0 11.5 0a5.75 5.75 0 1 0 -11.5 0M503.3 517.02a5.75 5.75 0 1 0 11.5 0a5.75 5.75 0 1 0 -11.5 0M504.93 516.61a5.75 5.75 0 1 0 11.5 0a5.75 5.75 0 1 0 -11.5 0M506.53 516.62a5.75 5.75 0 1 0 11.5 0a5.75 5.75 0 1 0 -11.5 0M508.11 516.95a5.75 5.75 0 1 0 11.5 0a5.75 5.75 0 1 0 -11.5 0M509.66 517.34a5.75 5.75 0 1 0 11.5 0a5.75 5.75 0 1 0 -11.5 0M511.18 517.59a5.75 5.75 0 1 0 11.5 0a5.75 5.75 0 1 0 -11.5 0M512.68 517.61a5.75 5.75 0 1 0 11.5 0a5.75 5.75 0 1 0 -11.5 0M514.15 517.39a5.75 5.75 0 1 0 11.5 0a5.75 5.75 0 1 0 -11.5 0M515.6 516.92a5.75 5.75 0 1 0 11.5 0a5.75 5.75 0 1 0 -11.5 0M517.03 516.26a5.75 5.75 0 1 0 11.5 0a5.75 5.75 0 1 0 -11.5 0M518.44 515.58a5.75 5.75 0 1 0 11.5 0a5.75 5.75 0 1 0 -11.5 0M519.83 515.07a5.75 5.75 0 1 0 11.5 0a5.75 5.75 0 1 0 -11.5 0M521.2 514.88a5.75 5.75 0 1 0 11.5 0a5.75 5.75 0 1 0 -11.5 0M522.55 515.12a5.75 5.75 0 1 0 11.5 0a5.75 5.75 0 1 0 -11.5 0M523.87 515.72a5.75 5.75 0 1 0 11.5 0a5.75 5.75 0 1 0 -11.5 0M525.18 516.43a5.75 5.75 0 1 0 11.5 0a5.75 5.75 0 1 0 -11.5 0M526.48 517.04a5.75 5.75 0 1 0 11.5 0a5.75 5.75 0 1 0 -11.5 0M527.75 517.44a5.75 5.75 0 1 0 11.5 0a5.75 5.75 0 1 0 -11.5 0M529.01 517.54a5.75 5.75 0 1 0 11.5 0a5.75 5.75 0 1 0 -11.5 0M530.25 517.21a5.75 5.75 0 1 0 11.5 0a5.75 5.75 0 1 0 -11.5 0M531.47 516.37a5.75 5.75 0 1 0 11.5 0a5.75 5.75 0 1 0 -11.5 0M532.68 515.21a5.75 5.75 0 1 0 11.5 0a5.75 5.75 0 1 0 -11.5 0M533.87 514.04a5.75 5.75 0 1 0 11.5 0a5.75 5.75 0 1 0 -11.5 0M535.05 513.18a5.75 5.75 0 1 0 11.5 0a5.75 5.75 0 1 0 -11.5 0M536.21 512.88a5.75 5.75 0 1 0 11.5 0a5.75 5.75 0 1 0 -11.5 0M537.36 513.26a5.75 5.75 0 1 0 11.5 0a5.75 5.75 0 1 0 -11.5 0M538.5 514.08a5.75 5.75 0 1 0 11.5 0a5.75 5.75 0 1 0 -11.5 0M539.62 514.79a5.75 5.75 0 1 0 11.5 0a5.75 5.75 0 1 0 -11.5 0M540.73 514.93a5.75 5.75 0 1 0 11.5 0a5.75 5.75 0 1 0 -11.5 0M541.82 514.57a5.75 5.75 0 1 0 11.5 0a5.75 5.75 0 1 0 -11.5 0M542.91 514.19a5.75 5.75 0 1 0 11.5 0a5.75 5.75 0 1 0 -11.5 0M543.98 514.15a5.75 5.75 0 1 0 11.5 0a5.75 5.75 0 1 0 -11.5 0M545.04 514.39a5.75 5.75 0 1 0 11.5 0a5.75 5.75 0 1 0 -11.5 0M546.08 514.64a5.75 5.75 0 1 0 11.5 0a5.75 5.75 0 1 0 -11.5 0M547.12 514.8a5.75 5.75 0 1 0 11.5 0a5.75 5.75 0 1 0 -11.5 0M548.14 515.04a5.75 5.75 0 1 0 11.5 0a5.75 5.75 0 1 0 -11.5 0M549.15 515.46a5.75 5.75 0 1 0 11.5 0a5.75 5.75 0 1 0 -11.5 0M550.16 515.93a5.75 5.75 0 1 0 11.5 0a5.75 5.75 0 1 0 -11.5 0" fill="#808000"/>
<path d="M549.96 514.19 550.46 512.98 550.96 512.2 551.46 511.62 551.96 511.15 552.46 510.78 552.96 510.48 553.46 510.24 553.96 510.05 554.46 509.9 554.96 509.81 555.46 509.75 555.96 509.73 556.46 509.76 556.96 509.79 557.46 509.56 557.96 509.35 558.46 509.12 558.96 508.95 559.46 508.79 559.96 508.62 560.46 508.49 560.96 508.41 561.46 508.34 561.96 508.27 562.46 508.23 562.96 508.24 563.46 508.29 563.96 508.33 564.46 508.38 564.96 508.48 565.46 508.62 565.96 508.73 566.46 508.84 566.96 508.88 567.46 508.96 567.96 509.08 568.46 509.19 568.96 509.32 569.46 509.5 569.96 509.72 570.46 510.01 570.96 510.36 571.46 510.67 571.96 510.72 572.46 510.26 572.96 509.88 573.46 509.58 573.96 509.34 574.46 509.15 574.96 508.99 575.46 508.82 575.96 508.7 576.46 508.62 576.96 508.58 577.46 508.58 577.96 508.62 578.46 508.7 578.96 508.82 579.46 509 579.96 509.2 580.46 508.84 580.96 508.52 581.46 508.21 581.96 507.92 582.46 507.69 582.96 507.51 583.46 507.37 583.96 507.23 584.46 507.12 584.96 507.05 585.46 507.03 585.96 507.04 586.46 507.09 586.96 507.18 587.46 507.25 587.96 507.37 588.46 507.54 588.96 507.75 589.46 508.02 589.96 508.35 590.46 508.69 590.96 509.07 591.46 509.53 591.96 510.12 592.46 510.56 592.96 510.41 593.46 510.3 593.96 510.23 594.46 510.15 594.96 510.11 595.46 510.11 595.96 510.15 596.46 509.84 596.96 509.48 597.46 509.19 597.96 508.96 598.46 508.73 598.96 508.54 599.46 508.39 599.96 508.29 600.46 508.23 600.96 508.22 601.46 508.24 601.96 508.31 602.46 508.41 602.96 508.53 603.46 508.67 603.96 508.86 604.46 508.81 604.96 508.57 605.46 508.37 605.96 508.22 606.46 508.12 606.96 508.06 607.46 508.04 607.96 508.06 608.46 508.12 608.96 508.22 609.46 508.37 609.96 508.51 610.46 508.7 610.96 508.94 611.46 509.11 611.96 509.13 612.46 508.97 612.96 508.62 613.46 508.34 613.96 508.12 614.46 507.95 614.96 507.82 615.46 507.74 615.96 507.7 616.46 507.69 616.96 507.73 617.46 507.79 617.96 507.87 618.46 507.99 618.96 507.83 619.46 507.47 619.96 507.19 620.46 506.93 620.96 506.7 621.46 506.53 621.96 506.39 622.46 506.31 622.96 506.26 623.46 506.25 623.96 506.29 624.46 506.36 624.96 506.48 625.46 506.65 625.96 506.86 626.46 507.13 626.96 507.4 627.46 507.66 627.96 507.79 628.46 507.94 628.96 508.12 629.46 508.35 629.96 507.92 630.46 507.56 630.96 507.27 631.46 507.04 631.96 506.85 632.46 506.72 632.96 506.63 633.46 506.58 633.96 506.57 634.46 506.6 634.96 506.67 635.46 506.78 635.96 506.94 636.46 507.15 636.96 507.41 637.46 507.74 637.96 508.1 638.46 508.04 638.96 507.99 639.46 507.99 639.96 508.02 640.46 508.09 640.96 508.21 641.46 508.14 641.96 507.89 642.46 507.69 642.96 507.54 643.46 507.44 643.96 507.38 644.46 507.35 644.96 507.37 645.46 507.43 645.96 507.54 646.46 507.65 646.96 507.54 647.46 507.32 647.96 507.14 648.46 507.02 648.96 506.93 649.46 506.89 649.96 506.89 650.46 506.92 650.96 507 651.46 507.13 651.96 507.29 652.46 507.51 652.96 507.78 653.46 508.08 653.96 508.44 654.46 508.77 654.96 508.77 655.46 508.8 655.96 508.85 656.46 508.67 656.96 508.34 657.46 508.07 657.96 507.86 658.46 507.66 658.96 507.52 659.46 507.42 659.96 507.36 660.46 507.34 660.96 507.36 661.46 507.42 661.96 507.52 662.46 507.67 662.96 507.87 663.46 508.11 663.96 508.37 664.46 508.71 664.96 509.11 665.46 509.56 665.96 510.1 666.46 510.61 666.96 510.82 667.46 510.86 667.96 510.79 668.46 510.76 668.96 510.77 669.46 510.73 669.96 510.65 670.46 510.6 670.96 510.58 671.46 510.6 671.96 510.66 672.46 510.77 672.96 510.92 673.46 510.97 673.96 510.96 674.46 511 674.96 511.07 675.46 511.17 675.96 511.31 676.46 511.49 676.96 511.73 677.46 512.02 677.96 512.18 678.46 512.09 678.96 511.86 679.46 511.64 679.96 511.47 680.46 511.18 680.96 510.63 681.46 510.09 681.96 509.66 682.46 509.31 682.96 509.03 683.46 508.78 683.96 508.58 684.46 508.43 684.96 508.33 685.46 508.26 685.96 508.24 686.46 508.26 686.96 508.31 687.46 508.41 687.96 508.56 688.46 508.75 688.96 508.99 689.46 509.3 689.96 509.67 690.46 510.14 690.96 510.46 691.46 509.88 691.96 509.42 692.46 509.06 692.96 508.76 693.46 508.52 693.96 508.33 694.46 508.19 694.96 508.09 695.46 508.04 695.96 508.02 696.46 508.05 696.96 508.12 697.46 508.23 697.96 508.38 698.46 508.49 698.96 508.57 699.46 508.7 699.96 508.88 700.46 509.06 700.96 509.06 701.46 509.11 701.96 509.11 702.46 508.88 702.96 508.7 703.46 508.56 703.96 508.47 704.46 508.42 704.96 508.39 705.46 508.41 705.96 508.46 706.46 508.56 706.96 508.7 707.46 508.89 707.96 509.13 708.46 509.42 708.96 509.79 709.46 510.05 709.96 510.06 710.46 510.09 710.96 510.15 711.46 510.25 711.96 510.4 712.46 510.57 712.96 510.56 713.46 510.59 713.96 510.67 714.46 510.76 714.96 510.72 715.46 510.71 715.96 509.9 716.46 508.95 716.96 508.26 717.46 507.74 717.96 507.31 718.46 506.97 718.96 506.7 719.46 506.48 719.96 506.31 720.46 506.18 720.96 506.1 721.46 506.06 721.96 506.06 722.46 506.1 722.96 506.18 723.46 506.31 723.96 506.48 724.46 506.7 724.96 506.98 725.46 507.32 725.96 507.06 726.46 506.75 726.96 506.49 727.46 506.29 727.96 506.14 728.46 506.03 728.96 505.96 729.46 505.85 729.96 505.77 730.46 505.74 730.96 505.75 731.46 505.8 731.96 505.89 732.46 506.03 732.96 506.21 733.46 506.44 733.96 506.61 734.46 506.72 734.96 506.87 735.46 507.08 735.96 507.33 736.46 507.65 736.96 508.03 737.46 508.49 737.96 508.87 738.46 509.01 738.96 509.19 739.46 509.34 739.96 509.37 740.46 509.43 740.96 509.39 741.46 509.18 741.96 509.03 742.46 508.92 742.96 508.85 743.46 508.82 743.96 508.84 744.46 508.89 744.96 508.98 745.46 508.48 745.96 507.96 746.46 507.54 746.96 507.21 747.46 506.94 747.96 506.72 748.46 506.56 748.96 506.43 749.46 506.34 749.96 506.29 750.46 506.29 750.96 506.32 751.46 506.4 751.96 506.51 752.46 506.68 752.96 506.89 753.46 507.16 753.96 507.49 754.46 507.9 754.96 508.41 755.46 508.82 755.96 508.69 756.46 508.58 756.96 508.42 757.46 508.3 757.96 508.22 758.46 508.18 758.96 508.19 759.46 508.23 759.96 508.16 760.46 508.02 760.96 507.93 761.46 507.89 761.96 507.88 762.46 507.91 762.96 507.99 763.46 508.1 763.96 508.26 764.46 508.37 764.96 507.98 765.46 507.66 765.96 507.4 766.46 507.2 766.96 507.05 767.46 506.94 767.96 506.88 768.46 506.85 768.96 506.87 769.46 506.92 769.96 507.02 770.46 507.16 770.96 507.35 771.46 507.52 771.96 507.32 772.46 507.17 772.96 507.06 773.46 507 773.96 506.88 774.46 506.72 774.96 506.61 775.46 506.54 775.96 506.52 776.46 506.31 776.96 506.03 777.46 505.82 777.96 505.65 778.46 505.53 778.96 505.45 779.46 505.42 779.96 505.42 780.46 505.46 780.96 505.55 781.46 505.68 781.96 505.85 782.46 506.08 782.96 506.36 783.46 506.71 783.96 507.14 784.46 507.45 784.96 507.11 785.46 506.85 785.96 506.63 786.46 506.47 786.96 506.35 787.46 506.28 787.96 506.24 788.46 506.25 788.96 506.28 789.46 506.04 789.96 505.85 790.46 505.71 790.96 505.61 791.46 505.56 791.96 505.54 792.46 505.57 792.96 505.63 793.46 505.36 793.96 505.13 794.46 504.95 794.96 504.82 795.46 504.73 795.96 504.69 796.46 504.68 796.96 504.72 797.46 504.79 797.96 504.91 798.46 505.07 798.96 505.29 799.46 505.55 799.96 505.89 800.46 506.3 800.96 506.81 801.46 507.09 801.96 507.27 802.46 507.5 802.96 507.79 803.46 507.99 803.96 507.83 804.46 507.72 804.96 507.64 805.46 507.61 805.96 507.62 806.46 507.67 806.96 507.76 807.46 507.9 807.96 508.08 808.46 508.31 808.96 508.6 809.46 508.6 809.96 508.46 810.46 508.37 810.96 508.32 811.46 508.32 811.96 508.35 812.46 508.32 812.96 508.24 813.46 508.19 813.96 508.19 814.46 508.23 814.96 508.31 815.46 508.43 815.96 508.59 816.46 508.67 816.96 508.62 817.46 508.32 817.96 508.07 818.46 507.88 818.96 507.73 819.46 507.63 819.96 507.57 820.46 507.56 820.96 507.58 821.46 507.39 821.96 507.12 822.46 506.91 822.96 506.74 823.46 506.62 823.96 506.52 824.46 506.39 824.96 506.3 825.46 506.25 825.96 506.24 826.46 506.27 826.96 506.34 827.46 506.46 827.96 506.61 828.46 506.7 828.96 506.73 829.46 506.69 829.96 506.59 830.46 506.54 830.96 506.52 831.46 506.55 831.96 506.62 832.46 506.73 832.96 506.75 833.46 506.69 833.96 506.67 834.46 506.69 834.96 506.54 835.46 506.41 835.96 506.32 836.46 506.28 836.96 506.27 837.46 506.31 837.96 506.38 838.46 506.5 838.96 506.67 839.46 506.88 839.96 507.15 840.46 507.2 840.96 507.08 841.46 506.8 841.96 506.48 842.46 506.23 842.96 506.03 843.46 505.88 843.96 505.78 844.46 505.71 844.96 505.69 845.46 505.71 845.96 505.77 846.46 505.87 846.96 506.01 847.46 506.2 847.96 506.45 848.46 506.75 848.96 507.12 849.46 507.19 849.96 507.17 850.46 507.19 850.96 507.26 851.46 507.37 851.96 507.52 852.46 507.72 852.96 507.53 853.46 507.29 853.96 507.11 854.46 506.94 854.96 506.67 855.46 506.46 855.96 506.29 856.46 506.17 856.96 506.1 857.46 506.06 857.96 506.06 858.46 506.11 858.96 506.2 859.46 506.32 859.96 506.34 860.46 506.02 860.96 505.76 861.46 505.56 861.96 505.4 862.46 505.29 862.96 505.23 863.46 505.2 863.96 505.21 864.46 505.26 864.96 505.35 865.46 505.49 865.96 505.67 866.46 505.91 866.96 506.2 867.46 506.56 867.96 506.98 868.46 507.09 868.96 507.14 869.46 507.24 869.96 507.37 870.46 507.56 870.96 507.54 871.46 507.24 871.96 507 872.46 506.81 872.96 506.67 873.46 506.58 873.96 506.52 874.46 506.51 874.96 506.53 875.46 506.6 875.96 506.71 876.46 506.87 876.96 507.07 877.46 507.32 877.96 507.64 878.46 507.71 878.96 507.45 879.46 507.25 879.96 507.1 880.46 506.99 880.96 506.93 881.46 506.88 881.96 506.74 882.46 506.66 882.96 506.61 883.46 506.6 883.96 506.64 884.46 506.71 884.96 506.83 885.46 506.99 885.96 507.03 886.46 507 886.96 507.01 887.46 507.06 887.96 507.15 888.46 507.29 888.96 507.47 889.46 507.45 889.96 507.35 890.46 507.29 890.96 507.27 891.46 507.29 891.96 507.19 892.46 507.13 892.96 507.12 893.46 507.14 893.96 507.18 894.46 507.11 894.96 506.7 895.46 506.24 895.96 505.87 896.46 505.57 896.96 505.33 897.46 505.14 897.96 505 898.46 504.9 898.96 504.84 899.46 504.82 899.96 504.85 900.46 504.91 900.96 505.02 901.46 505.17 901.96 505.38 902.46 505.63 902.96 505.94 903.46 506.33 903.96 506.76 904.46 506.62 904.96 506.52 905.46 506.47 905.96 506.45 906.46 506.48 906.96 506.54 907.46 506.65 907.96 506.78 908.46 506.88 908.96 507.02 909.46 507.22 909.96 507.42 910.46 507.5 910.96 507.62 911.46 507.79 911.96 507.77 912.46 507.73 912.96 507.74 913.46 507.62 913.96 507.52 914.46 507.47 914.96 507.46 915.46 507.49 915.96 507.56 916.46 507.6 916.96 507.4 917.46 507.26 917.96 507.15 918.46 507.09 918.96 507.07 919.46 507.09 919.96 507.15 920.46 507.17 920.96 507.15 921.46 507.18 921.96 507.25 922.46 507.29 922.96 507.23 923.46 507.22 923.96 507.15 924.46 507.11 924.96 507.11 925.46 507.16 925.96 507.24 926.46 507.37 926.96 507.54 927.46 507.77 927.96 507.9 928.46 507.81 928.96 507.5 929.46 507.26 929.96 507.07 930.46 506.92 930.96 506.82 931.46 506.77 931.96 506.75 932.46 506.77 932.96 506.84 933.46 506.94 933.96 507.09 934.46 507.29 934.96 507.31 935.46 507.03 935.96 506.81 936.46 506.64 936.96 506.51 937.46 506.43 937.96 506.39 938.46 506.39 938.96 506.43 939.46 506.51 939.96 506.63 940.46 506.7 940.96 506.4 941.46 506.15 941.96 505.96 942.46 505.82 942.96 505.71 943.46 505.65 943.96 505.64 944.46 505.66 944.96 505.72 945.46 505.83 945.96 505.98 946.46 506.17 946.96 506.42 947.46 506.73 947.96 506.89 948.46 506.89 948.96 506.72 949.46 506.54 949.96 506.4 950.46 506.31 950.96 506.26 951.46 506.25 951.96 506.28 952.46 506.27 952.96 506.26 953.46 506.29 953.96 506.36 954.46 506.47 954.96 506.63 955.46 506.76 955.96 506.84 956.46 506.97 956.96 507.14 957.46 507.15 957.96 507.12 958.46 507.14 958.96 507.2 959.46 507.22 959.96 507.16 960.46 507.1 960.96 507.08 961.46 507.1 961.96 507.16 962.46 507.26 962.96 507.41 963.46 507.43 963.96 507.43 964.46 507.47 964.96 507.55 965.46 507.67 965.96 507.84 966.46 508.06 966.96 508.24 967.46 508.25 967.96 508.3 968.46 508.39 968.96 508.43 969.46 508.45 969.96 508.49 970.46 508.42 970.96 508.36 971.46 508.32 971.96 508.22 972.46 508.11 972.96 508.03 973.46 508 973.96 508.01 974.46 508.06 974.96 507.78 975.46 507.53 975.96 507.34 976.46 507.2 976.96 507.03 977.46 506.78 977.96 506.58 978.46 506.42 978.96 506.32 979.46 506.25 979.96 506.22 980.46 506.24 980.96 506.26 981.46 506.11 981.96 506.01 982.46 505.94 982.96 505.92 983.46 505.94 983.96 506 984.46 506.1 984.96 506.25 985.46 506.44 985.96 506.58 986.46 506.52 986.96 506.37 987.46 506.26 987.96 506.2 988.46 506.17 988.96 506.06 989.46 505.84 989.96 505.67 990.46 505.54 990.96 505.46 991.46 505.42 991.96 505.42 992.46 505.46 992.96 505.52 993.46 505.56 993.96 505.64 994.46 505.77 L994.46 523.89 993.96 524.27 993.46 524.58 992.96 524.83 992.46 525.15 991.96 525.54 991.46 525.85 990.96 526.11 990.46 526.31 989.96 526.46 989.46 526.57 988.96 526.64 988.46 526.66 987.96 526.65 987.46 526.78 986.96 526.99 986.46 527.15 985.96 527.27 985.46 527.34 984.96 527.51 984.46 527.63 983.96 527.71 983.46 527.75 982.96 527.74 982.46 527.7 981.96 527.62 981.46 527.49 980.96 527.31 980.46 527.09 979.96 527.32 979.46 527.59 978.96 527.8 978.46 527.97 977.96 528.08 977.46 528.16 976.96 528.19 976.46 528.19 975.96 528.3 975.46 528.45 974.96 528.55 974.46 528.6 973.96 528.62 973.46 528.6 972.96 528.54 972.46 528.43 971.96 528.28 971.46 528.08 970.96 527.83 970.46 527.52 969.96 527.31 969.46 527.43 968.96 527.5 968.46 527.53 967.96 527.53 967.46 527.48 966.96 527.39 966.46 527.26 965.96 527.08 965.46 527.05 964.96 527.03 964.46 526.97 963.96 526.86 963.46 526.72 962.96 526.7 962.46 526.78 961.96 526.81 961.46 526.81 960.96 526.76 960.46 526.73 959.96 526.76 959.46 526.75 958.96 526.7 958.46 526.61 957.96 526.54 957.46 526.58 956.96 526.61 956.46 526.59 955.96 526.53 955.46 526.43 954.96 526.28 954.46 526.09 953.96 526.07 953.46 526.04 952.96 525.97 952.46 525.85 951.96 525.95 951.46 526.01 950.96 526.04 950.46 526.02 949.96 525.96 949.46 525.86 948.96 525.71 948.46 525.54 947.96 525.55 947.46 525.53 946.96 525.78 946.46 525.99 945.96 526.16 945.46 526.28 944.96 526.36 944.46 526.39 943.96 526.39 943.46 526.34 942.96 526.25 942.46 526.12 941.96 525.95 941.46 525.72 940.96 525.82 940.46 525.9 939.96 525.93 939.46 525.93 938.96 525.9 938.46 525.84 937.96 525.74 937.46 525.68 936.96 525.64 936.46 525.89 935.96 526.15 935.46 526.35 934.96 526.5 934.46 526.61 933.96 526.67 933.46 526.7 932.96 526.7 932.46 526.66 931.96 526.58 931.46 526.46 930.96 526.29 930.46 526.07 929.96 526.06 929.46 526.03 928.96 525.95 928.46 525.83 927.96 525.67 927.46 525.46 926.96 525.19 926.46 524.9 925.96 525.1 925.46 525.26 924.96 525.37 924.46 525.44 923.96 525.46 923.46 525.45 922.96 525.4 922.46 525.31 921.96 525.38 921.46 525.41 920.96 525.4 920.46 525.35 919.96 525.46 919.46 525.64 918.96 526.07 918.46 526.55 917.96 526.93 917.46 527.25 916.96 527.5 916.46 527.69 915.96 527.84 915.46 527.95 914.96 528.01 914.46 528.03 913.96 528.01 913.46 527.95 912.96 527.85 912.46 527.71 911.96 527.51 911.46 527.29 910.96 527.2 910.46 527.07 909.96 526.89 909.46 526.65 908.96 526.36 908.46 526.01 907.96 525.56 907.46 525.33 906.96 525.4 906.46 525.43 905.96 525.42 905.46 525.36 904.96 525.27 904.46 525.14 903.96 525.28 903.46 525.59 902.96 525.83 902.46 526.03 901.96 526.17 901.46 526.28 900.96 526.34 900.46 526.36 899.96 526.33 899.46 526.27 898.96 526.17 898.46 526.03 897.96 525.83 897.46 525.59 896.96 525.28 896.46 524.9 895.96 524.5 895.46 524.39 894.96 524.26 894.46 524.38 893.96 524.56 893.46 524.7 892.96 525.03 892.46 525.37 891.96 525.65 891.46 525.86 890.96 526.03 890.46 526.16 889.96 526.24 889.46 526.27 888.96 526.27 888.46 526.23 887.96 526.15 887.46 526.02 886.96 525.85 886.46 525.63 885.96 525.6 885.46 525.68 884.96 525.71 884.46 525.71 883.96 525.67 883.46 525.58 882.96 525.45 882.46 525.33 881.96 525.34 881.46 525.34 880.96 525.3 880.46 525.42 879.96 525.51 879.46 525.57 878.96 525.58 878.46 525.55 877.96 525.48 877.46 525.37 876.96 525.22 876.46 525.01 875.96 524.94 875.46 524.92 874.96 525.04 874.46 525.33 873.96 525.57 873.46 525.75 872.96 525.89 872.46 525.98 871.96 526.03 871.46 526.04 870.96 526.01 870.46 525.94 869.96 525.82 869.46 525.72 868.96 525.59 868.46 525.42 867.96 525.2 867.46 524.92 866.96 524.63 866.46 524.49 865.96 524.32 865.46 524.25 864.96 524.31 864.46 524.5 863.96 524.65 863.46 524.85 862.96 525.04 862.46 525.19 861.96 525.29 861.46 525.35 860.96 525.37 860.46 525.35 859.96 525.29 859.46 525.18 858.96 525.08 858.46 525.07 857.96 525.03 857.46 524.94 856.96 524.8 856.46 524.63 855.96 524.4 855.46 524.11 854.96 523.87 854.46 523.88 853.96 524.19 853.46 524.44 852.96 524.64 852.46 524.79 851.96 524.89 851.46 524.95 850.96 524.97 850.46 524.96 849.96 524.9 849.46 524.79 848.96 524.65 848.46 524.46 847.96 524.37 847.46 524.38 846.96 524.36 846.46 524.3 845.96 524.19 845.46 524.04 844.96 523.84 844.46 523.75 843.96 523.82 843.46 523.85 842.96 523.83 842.46 523.85 841.96 524.05 841.46 524.19 840.96 524.29 840.46 524.35 839.96 524.36 839.46 524.34 838.96 524.28 838.46 524.17 837.96 524.02 837.46 523.93 836.96 524.26 836.46 524.61 835.96 524.9 835.46 525.13 834.96 525.3 834.46 525.44 833.96 525.52 833.46 525.57 832.96 525.58 832.46 525.54 831.96 525.47 831.46 525.35 830.96 525.19 830.46 524.98 829.96 524.71 829.46 524.54 828.96 524.54 828.46 524.54 827.96 524.5 827.46 524.41 826.96 524.28 826.46 524.11 825.96 524.26 825.46 524.45 824.96 524.58 824.46 524.68 823.96 524.73 823.46 524.74 822.96 524.71 822.46 524.64 821.96 524.85 821.46 525.16 820.96 525.4 820.46 525.6 819.96 525.75 819.46 525.85 818.96 525.91 818.46 525.93 817.96 525.91 817.46 525.85 816.96 525.75 816.46 525.6 815.96 525.4 815.46 525.16 814.96 524.94 814.46 525.13 813.96 525.28 813.46 525.38 812.96 525.44 812.46 525.51 811.96 525.55 811.46 525.54 810.96 525.5 810.46 525.41 809.96 525.28 809.46 525.11 808.96 524.88 808.46 524.6 807.96 524.38 807.46 524.42 806.96 524.41 806.46 524.57 805.96 524.73 805.46 524.85 804.96 524.93 804.46 524.96 803.96 524.96 803.46 524.91 802.96 524.82 802.46 524.69 801.96 524.52 801.46 524.29 800.96 524 800.46 523.65 799.96 523.23 799.46 523.41 798.96 523.55 798.46 523.64 797.96 523.69 797.46 523.7 796.96 523.67 796.46 523.61 795.96 523.77 795.46 523.89 794.96 523.96 794.46 524 793.96 523.99 793.46 523.95 792.96 523.86 792.46 523.73 791.96 523.55 791.46 523.32 790.96 523.04 790.46 522.77 789.96 522.85 789.46 522.89 788.96 522.89 788.46 522.91 787.96 523.15 787.46 523.34 786.96 523.48 786.46 523.58 785.96 523.64 785.46 523.65 784.96 523.8 784.46 524.11 783.96 524.35 783.46 524.55 782.96 524.69 782.46 524.79 781.96 524.85 781.46 524.87 780.96 524.85 780.46 524.79 779.96 524.68 779.46 524.53 778.96 524.63 778.46 524.73 777.96 524.8 777.46 524.82 776.96 524.8 776.46 524.74 775.96 524.64 775.46 524.68 774.96 524.73 774.46 524.75 773.96 524.73 773.46 524.66 772.96 524.56 772.46 524.41 771.96 524.21 771.46 523.95 770.96 523.94 770.46 524.21 769.96 524.42 769.46 524.58 768.96 524.7 768.46 524.92 767.96 525.15 767.46 525.33 766.96 525.47 766.46 525.56 765.96 525.61 765.46 525.62 764.96 525.59 764.46 525.51 763.96 525.4 763.46 525.24 762.96 525.03 762.46 524.84 761.96 524.8 761.46 524.72 760.96 524.7 760.46 524.78 759.96 524.81 759.46 524.81 758.96 524.76 758.46 524.86 757.96 525.04 757.46 525.17 756.96 525.26 756.46 525.31 755.96 525.32 755.46 525.29 754.96 525.22 754.46 525.1 753.96 524.94 753.46 524.73 752.96 524.47 752.46 524.15 751.96 523.76 751.46 524.17 750.96 524.67 750.46 525.06 749.96 525.39 749.46 525.65 748.96 525.85 748.46 526.01 747.96 526.12 747.46 526.19 746.96 526.22 746.46 526.21 745.96 526.16 745.46 526.07 744.96 525.93 744.46 525.75 743.96 525.51 743.46 525.22 742.96 524.85 742.46 524.5 741.96 524.85 741.46 525.27 740.96 525.62 740.46 525.92 739.96 526.15 739.46 526.33 738.96 526.47 738.46 526.56 737.96 526.61 737.46 526.62 736.96 526.59 736.46 526.52 735.96 526.41 735.46 526.25 734.96 526.04 734.46 525.78 733.96 525.45 733.46 525.05 732.96 524.55 732.46 524.03 731.96 523.8 731.46 523.51 730.96 523.2 730.46 523.13 729.96 523.02 729.46 522.87 728.96 522.86 728.46 522.98 727.96 523.18 727.46 523.34 726.96 523.45 726.46 523.52 725.96 523.55 725.46 523.57 724.96 523.55 724.46 523.5 723.96 523.41 723.46 523.27 722.96 523.41 722.46 523.69 721.96 523.97 721.46 524.43 720.96 524.8 720.46 525.1 719.96 525.33 719.46 525.52 718.96 525.66 718.46 525.76 717.96 525.81 717.46 525.82 716.96 526.05 716.46 526.67 715.96 527.16 715.46 527.56 714.96 527.89 714.46 528.17 713.96 528.39 713.46 528.57 712.96 528.69 712.46 528.78 711.96 528.82 711.46 528.82 710.96 528.78 710.46 528.7 709.96 528.58 709.46 528.41 708.96 528.2 708.46 527.92 707.96 527.58 707.46 527.16 706.96 526.64 706.46 525.96 705.96 525.01 705.46 523.91 704.96 523.73 704.46 523.51 703.96 523.62 703.46 523.79 702.96 523.91 702.46 523.99 701.96 524.03 701.46 524.03 700.96 524.03 700.46 524.14 699.96 524.21 699.46 524.23 698.96 524.22 698.46 524.68 697.96 525.17 697.46 525.57 696.96 525.89 696.46 526.18 695.96 526.41 695.46 526.59 694.96 526.72 694.46 526.81 693.96 526.86 693.46 526.86 692.96 526.83 692.46 526.75 691.96 526.64 691.46 526.48 690.96 526.26 690.46 526 689.96 525.67 689.46 525.26 688.96 524.75 688.46 524.57 687.96 524.36 687.46 524.1 686.96 523.77 686.46 523.44 685.96 523.22 685.46 523.25 684.96 523.42 684.46 523.55 683.96 523.9 683.46 524.19 682.96 524.42 682.46 524.61 681.96 525.03 681.46 525.41 680.96 525.72 680.46 525.97 679.96 526.16 679.46 526.31 678.96 526.41 678.46 526.47 677.96 526.49 677.46 526.47 676.96 526.41 676.46 526.31 675.96 526.16 675.46 525.97 674.96 526.05 674.46 526.29 673.96 526.47 673.46 526.6 672.96 526.7 672.46 526.75 671.96 526.76 671.46 526.72 670.96 526.65 670.46 526.54 669.96 526.38 669.46 526.17 668.96 525.91 668.46 525.7 667.96 525.79 667.46 525.84 666.96 525.86 666.46 525.86 665.96 525.82 665.46 525.73 664.96 525.6 664.46 525.43 663.96 525.22 663.46 524.97 662.96 524.69 662.46 524.36 661.96 523.99 661.46 523.54 660.96 522.98 660.46 522.81 659.96 523.1 659.46 523.33 658.96 523.51 658.46 523.64 657.96 523.73 657.46 523.78 656.96 523.81 656.46 523.8 655.96 523.76 655.46 523.67 654.96 523.54 654.46 523.36 653.96 523.13 653.46 522.84 652.96 522.49 652.46 522.05 651.96 521.8 651.46 521.66 650.96 521.48 650.46 521.4 649.96 521.65 649.46 521.9 648.96 522.12 648.46 522.28 647.96 522.73 647.46 523.51 646.96 524.15 646.46 524.7 645.96 525.14 645.46 525.5 644.96 525.78 644.46 526.01 643.96 526.19 643.46 526.33 642.96 526.41 642.46 526.46 641.96 526.47 641.46 526.44 640.96 526.36 640.46 526.24 639.96 526.08 639.46 525.87 638.96 525.6 638.46 525.28 637.96 524.93 637.46 524.5 636.96 523.97 636.46 523.28 635.96 522.67 635.46 523.11 634.96 523.46 634.46 523.75 633.96 523.98 633.46 524.15 632.96 524.29 632.46 524.37 631.96 524.42 631.46 524.43 630.96 524.39 630.46 524.32 629.96 524.2 629.46 524.03 628.96 523.82 628.46 523.58 627.96 523.31 627.46 522.97 626.96 522.55 626.46 522.02 625.96 521.34 625.46 520.77 624.96 520.79 624.46 521.19 623.96 521.52 623.46 521.78 622.96 521.99 622.46 522.15 621.96 522.27 621.46 522.36 620.96 522.43 620.46 522.46 619.96 522.45 619.46 522.4 618.96 522.31 618.46 522.18 617.96 521.99 617.46 521.85 616.96 521.72 616.46 521.71 615.96 521.94 615.46 522.12 614.96 522.26 614.46 522.35 613.96 522.4 613.46 522.41 612.96 522.38 612.46 522.31 611.96 522.22 611.46 522.11 610.96 522.13 610.46 522.21 609.96 522.25 609.46 522.25 608.96 522.21 608.46 522.13 607.96 522.27 607.46 522.5 606.96 522.73 606.46 522.92 605.96 523.06 605.46 523.16 604.96 523.21 604.46 523.22 603.96 523.2 603.46 523.13 602.96 523.02 602.46 522.91 601.96 522.76 601.46 523.13 600.96 523.46 600.46 523.72 599.96 523.94 599.46 524.1 598.96 524.22 598.46 524.29 597.96 524.33 597.46 524.32 596.96 524.27 596.46 524.19 595.96 524.05 595.46 523.92 594.96 523.75 594.46 523.54 593.96 523.27 593.46 523.09 592.96 523.31 592.46 523.5 591.96 523.65 591.46 523.75 590.96 523.8 590.46 523.82 589.96 523.8 589.46 523.75 588.96 523.7 588.46 523.61 587.96 523.48 587.46 523.3 586.96 523.07 586.46 522.78 585.96 522.42 585.46 521.98 584.96 521.61 584.46 521.97 583.96 522.26 583.46 522.49 582.96 522.67 582.46 522.84 581.96 523 581.46 523.12 580.96 523.19 580.46 523.22 579.96 523.21 579.46 523.16 578.96 523.07 578.46 522.93 577.96 522.75 577.46 522.92 576.96 523.25 576.46 523.6 575.96 523.88 575.46 524.11 574.96 524.28 574.46 524.41 573.96 524.55 573.46 524.67 572.96 524.74 572.46 524.77 571.96 524.77 571.46 524.78 570.96 524.76 570.46 524.7 569.96 524.6 569.46 524.45 568.96 524.32 568.46 524.16 567.96 523.95 567.46 523.68 566.96 523.35 566.46 522.97 565.96 522.62 565.46 522.19 564.96 521.64 564.46 521.09 563.96 520.98 563.46 520.86 562.96 520.76 562.46 520.9 561.96 521.11 561.46 521.37 560.96 521.57 560.46 521.73 559.96 521.94 559.46 522.09 558.96 522.2 558.46 522.27 557.96 522.3 557.46 522.36 556.96 522.39 556.46 522.37 555.96 522.31 555.46 522.22 554.96 522.07 554.46 521.96 553.96 521.82 553.46 521.63 552.96 521.39 552.46 521.08 551.96 520.71 551.46 520.25 550.96 519.67 550.46 518.89 549.96 517.68Z" fill="#808000"/>
<path d="M137.68 17.97L188.03 33.01M201.7 39.32L226.91 55.66M239.09 64.7L254.43 77.67M265.41 88.15L275.96 99.51M285.83 111.06L293.51 120.84M302.47 133.11L308.38 141.82M316.6 154.6L321.19 162.12M328.88 175.23L332.45 181.57M339.69 194.94L342.55 200.44M349.28 214.06L351.75 219.34M358.26 233.08L359.85 236.4M366.19 250.21L367.56 253.33M373.64 267.26L374.54 269.35M380.38 283.38L381.21 285.44M386.87 299.55L387.22 300.43M392.69 314.61L393.12 315.78" stroke="#ff0000" stroke-width="3.3" fill="none"/>
<path d="M124.65 15.8a5.75 5.75 0 1 0 11.5 0a5.75 5.75 0 1 0 -11.5 0M189.57 35.19a5.75 5.75 0 1 0 11.5 0a5.75 5.75 0 1 0 -11.5 0M227.54 59.79a5.75 5.75 0 1 0 11.5 0a5.75 5.75 0 1 0 -11.5 0M254.48 82.58a5.75 5.75 0 1 0 11.5 0a5.75 5.75 0 1 0 -11.5 0M275.38 105.08a5.75 5.75 0 1 0 11.5 0a5.75 5.75 0 1 0 -11.5 0M292.46 126.82a5.75 5.75 0 1 0 11.5 0a5.75 5.75 0 1 0 -11.5 0M306.9 148.11a5.75 5.75 0 1 0 11.5 0a5.75 5.75 0 1 0 -11.5 0M319.4 168.6a5.75 5.75 0 1 0 11.5 0a5.75 5.75 0 1 0 -11.5 0M330.43 188.19a5.75 5.75 0 1 0 11.5 0a5.75 5.75 0 1 0 -11.5 0M340.3 207.18a5.75 5.75 0 1 0 11.5 0a5.75 5.75 0 1 0 -11.5 0M349.23 226.22a5.75 5.75 0 1 0 11.5 0a5.75 5.75 0 1 0 -11.5 0M357.38 243.25a5.75 5.75 0 1 0 11.5 0a5.75 5.75 0 1 0 -11.5 0M364.87 260.29a5.75 5.75 0 1 0 11.5 0a5.75 5.75 0 1 0 -11.5 0M371.81 276.32a5.75 5.75 0 1 0 11.5 0a5.75 5.75 0 1 0 -11.5 0M378.27 292.5a5.75 5.75 0 1 0 11.5 0a5.75 5.75 0 1 0 -11.5 0M384.32 307.48a5.75 5.75 0 1 0 11.5 0a5.75 5.75 0 1 0 -11.5 0M390 322.91a5.75 5.75 0 1 0 11.5 0a5.75 5.75 0 1 0 -11.5 0M395.35 337.44a5.75 5.75 0 1 0 11.5 0a5.75 5.75 0 1 0 -11.5 0M400.41 350.47a5.75 5.75 0 1 0 11.5 0a5.75 5.75 0 1 0 -11.5 0M405.22 363.99a5.75 5.75 0 1 0 11.5 0a5.75 5.75 0 1 0 -11.5 0M409.79 377.02a5.75 5.75 0 1 0 11.5 0a5.75 5.75 0 1 0 -11.5 0M414.14 389.04a5.75 5.75 0 1 0 11.5 0a5.75 5.75 0 1 0 -11.5 0M418.31 400.07a5.75 5.75 0 1 0 11.5 0a5.75 5.75 0 1 0 -11.5 0M422.29 411.09a5.75 5.75 0 1 0 11.5 0a5.75 5.75 0 1 0 -11.5 0M426.12 421.61a5.75 5.75 0 1 0 11.5 0a5.75 5.75 0 1 0 -11.5 0M429.79 431.28a5.75 5.75 0 1 0 11.5 0a5.75 5.75 0 1 0 -11.5 0M433.32 440a5.75 5.75 0 1 0 11.5 0a5.75 5.75 0 1 0 -11.5 0M436.73 448.78a5.75 5.75 0 1 0 11.5 0a5.75 5.75 0 1 0 -11.5 0M440.02 456.53a5.75 5.75 0 1 0 11.5 0a5.75 5.75 0 1 0 -11.5 0M443.19 463.69a5.75 5.75 0 1 0 11.5 0a5.75 5.75 0 1 0 -11.5 0M446.26 470.39a5.75 5.75 0 1 0 11.5 0a5.75 5.75 0 1 0 -11.5 0M449.24 476.75a5.75 5.75 0 1 0 11.5 0a5.75 5.75 0 1 0 -11.5 0M452.12 482.8a5.75 5.75 0 1 0 11.5 0a5.75 5.75 0 1 0 -11.5 0M454.91 488.55a5.75 5.75 0 1 0 11.5 0a5.75 5.75 0 1 0 -11.5 0M457.63 493.98a5.75 5.75 0 1 0 11.5 0a5.75 5.75 0 1 0 -11.5 0M460.27 499.07a5.75 5.75 0 1 0 11.5 0a5.75 5.75 0 1 0 -11.5 0M462.83 503.82a5.75 5.75 0 1 0 11.5 0a5.75 5.75 0 1 0 -11.5 0M465.33 508.23a5.75 5.75 0 1 0 11.5 0a5.75 5.75 0 1 0 -11.5 0M467.76 512.29a5.75 5.75 0 1 0 11.5 0a5.75 5.75 0 1 0 -11.5 0M470.13 516.01a5.75 5.75 0 1 0 11.5 0a5.75 5.75 0 1 0 -11.5 0M472.45 519.39a5.75 5.75 0 1 0 11.5 0a5.75 5.75 0 1 0 -11.5 0M474.7 522.42a5.75 5.75 0 1 0 11.5 0a5.75 5.75 0 1 0 -11.5 0M476.91 525.14a5.75 5.75 0 1 0 11.5 0a5.75 5.75 0 1 0 -11.5 0M479.06 527.55a5.75 5.75 0 1 0 11.5 0a5.75 5.75 0 1 0 -11.5 0M481.17 529.68a5.75 5.75 0 1 0 11.5 0a5.75 5.75 0 1 0 -11.5 0M483.22 531.53a5.75 5.75 0 1 0 11.5 0a5.75 5.75 0 1 0 -11.5 0M485.24 533.13a5.75 5.75 0 1 0 11.5 0a5.75 5.75 0 1 0 -11.5 0M487.21 534.49a5.75 5.75 0 1 0 11.5 0a5.75 5.75 0 1 0 -11.5 0M489.14 535.62a5.75 5.75 0 1 0 11.5 0a5.75 5.75 0 1 0 -11.5 0M491.03 536.52a5.75 5.75 0 1 0 11.5 0a5.75 5.75 0 1 0 -11.5 0M492.89 537.23a5.75 5.75 0 1 0 11.5 0a5.75 5.75 0 1 0 -11.5 0M494.71 537.74a5.75 5.75 0 1 0 11.5 0a5.75 5.75 0 1 0 -11.5 0M496.49 538.03a5.75 5.75 0 1 0 11.5 0a5.75 5.75 0 1 0 -11.5 0M498.24 538.15a5.75 5.75 0 1 0 11.5 0a5.75 5.75 0 1 0 -11.5 0M499.96 538.15a5.75 5.75 0 1 0 11.5 0a5.75 5.75 0 1 0 -11.5 0M501.65 537.93a5.75 5.75 0 1 0 11.5 0a5.75 5.75 0 1 0 -11.5 0M503.3 537.59a5.75 5.75 0 1 0 11.5 0a5.75 5.75 0 1 0 -11.5 0M504.93 537.07a5.75 5.75 0 1 0 11.5 0a5.75 5.75 0 1 0 -11.5 0M506.53 536.42a5.75 5.75 0 1 0 11.5 0a5.75 5.75 0 1 0 -11.5 0M508.11 535.63a5.75 5.75 0 1 0 11.5 0a5.75 5.75 0 1 0 -11.5 0M509.66 534.72a5.75 5.75 0 1 0 11.5 0a5.75 5.75 0 1 0 -11.5 0M511.18 533.69a5.75 5.75 0 1 0 11.5 0a5.75 5.75 0 1 0 -11.5 0M512.68 532.58a5.75 5.75 0 1 0 11.5 0a5.75 5.75 0 1 0 -11.5 0M514.15 531.39a5.75 5.75 0 1 0 11.5 0a5.75 5.75 0 1 0 -11.5 0M515.6 530.15a5.75 5.75 0 1 0 11.5 0a5.75 5.75 0 1 0 -11.5 0M517.03 528.86a5.75 5.75 0 1 0 11.5 0a5.75 5.75 0 1 0 -11.5 0M518.44 527.55a5.75 5.75 0 1 0 11.5 0a5.75 5.75 0 1 0 -11.5 0M519.83 526.21a5.75 5.75 0 1 0 11.5 0a5.75 5.75 0 1 0 -11.5 0M521.2 524.86a5.75 5.75 0 1 0 11.5 0a5.75 5.75 0 1 0 -11.5 0M522.55 523.52a5.75 5.75 0 1 0 11.5 0a5.75 5.75 0 1 0 -11.5 0M523.87 522.18a5.75 5.75 0 1 0 11.5 0a5.75 5.75 0 1 0 -11.5 0M525.18 520.87a5.75 5.75 0 1 0 11.5 0a5.75 5.75 0 1 0 -11.5 0M526.48 519.57a5.75 5.75 0 1 0 11.5 0a5.75 5.75 0 1 0 -11.5 0M527.75 518.3a5.75 5.75 0 1 0 11.5 0a5.75 5.75 0 1 0 -11.5 0M529.01 517.06a5.75 5.75 0 1 0 11.5 0a5.75 5.75 0 1 0 -11.5 0M530.25 515.86a5.75 5.75 0 1 0 11.5 0a5.75 5.75 0 1 0 -11.5 0M531.47 514.68a5.75 5.75 0 1 0 11.5 0a5.75 5.75 0 1 0 -11.5 0M532.68 513.55a5.75 5.75 0 1 0 11.5 0a5.75 5.75 0 1 0 -11.5 0M533.87 512.46a5.75 5.75 0 1 0 11.5 0a5.75 5.75 0 1 0 -11.5 0M535.05 511.41a5.75 5.75 0 1 0 11.5 0a5.75 5.75 0 1 0 -11.5 0M536.21 510.42a5.75 5.75 0 1 0 11.5 0a5.75 5.75 0 1 0 -11.5 0M537.36 509.46a5.75 5.75 0 1 0 11.5 0a5.75 5.75 0 1 0 -11.5 0M538.5 508.56a5.75 5.75 0 1 0 11.5 0a5.75 5.75 0 1 0 -11.5 0M539.62 507.7a5.75 5.75 0 1 0 11.5 0a5.75 5.75 0 1 0 -11.5 0M540.73 506.9a5.75 5.75 0 1 0 11.5 0a5.75 5.75 0 1 0 -11.5 0M541.82 506.16a5.75 5.75 0 1 0 11.5 0a5.75 5.75 0 1 0 -11.5 0M542.91 505.46a5.75 5.75 0 1 0 11.5 0a5.75 5.75 0 1 0 -11.5 0M543.98 504.83a5.75 5.75 0 1 0 11.5 0a5.75 5.75 0 1 0 -11.5 0M545.04 504.25a5.75 5.75 0 1 0 11.5 0a5.75 5.75 0 1 0 -11.5 0M546.08 503.73a5.75 5.75 0 1 0 11.5 0a5.75 5.75 0 1 0 -11.5 0M547.12 503.26a5.75 5.75 0 1 0 11.5 0a5.75 5.75 0 1 0 -11.5 0M548.14 502.86a5.75 5.75 0 1 0 11.5 0a5.75 5.75 0 1 0 -11.5 0M549.15 502.51a5.75 5.75 0 1 0 11.5 0a5.75 5.75 0 1 0 -11.5 0M550.16 502.21a5.75 5.75 0 1 0 11.5 0a5.75 5.75 0 1 0 -11.5 0" fill="#ff0000"/>
<path d="M549.96 500.47 550.46 499.26 550.96 498.48 551.46 497.9 551.96 497.43 552.46 497.06 552.96 496.76 553.46 496.52 553.96 496.33 554.46 496.18 554.96 496.08 555.46 495.94 555.96 495.84 556.46 495.73 556.96 495.63 557.46 495.58 557.96 495.48 558.46 495.43 558.96 495.4 559.46 495.35 559.96 495.33 560.46 495.28 560.96 495.28 561.46 495.25 561.96 495.25 562.46 495.26 562.96 495.26 563.46 495.31 563.96 495.33 564.46 495.39 564.96 495.44 565.46 495.5 565.96 495.55 566.46 495.62 566.96 495.72 567.46 495.79 567.96 495.91 568.46 496.01 568.96 496.14 569.46 496.29 569.96 496.43 570.46 496.62 570.96 496.82 571.46 497.02 571.96 497.27 572.46 497.53 572.96 497.8 573.46 498.13 573.96 498.42 574.46 498.78 574.96 499.12 575.46 499.5 575.96 499.89 576.46 500.3 576.96 500.71 577.46 501.15 577.96 501.57 578.46 502.04 578.96 502.46 579.46 502.92 579.96 503.37 580.46 503.8 580.96 504.28 581.46 504.73 581.96 505.26 582.46 505.73 582.96 506.29 583.46 506.8 583.96 507.37 584.46 507.94 584.96 508.51 585.46 509.13 585.96 509.69 586.46 510.29 586.96 510.92 587.46 511.48 587.96 512.07 588.46 512.68 588.96 513.25 589.46 513.82 589.96 514.45 590.46 515.02 590.96 515.62 591.46 516.26 591.96 516.85 592.46 517.46 592.96 518.09 593.46 518.7 593.96 519.29 594.46 519.89 594.96 520.5 595.46 521.09 595.96 521.64 596.46 522.19 596.96 522.77 597.46 523.34 597.96 523.97 598.46 523.74 598.96 523 599.46 522.17 599.96 521.28 600.46 520.34 600.96 519.37 601.46 518.39 601.96 517.42 602.46 516.48 602.96 515.58 603.46 514.69 603.96 513.8 604.46 512.93 604.96 512.02 605.46 511.09 605.96 510.16 606.46 509.24 606.96 508.35 607.46 507.5 607.96 506.65 608.46 505.84 608.96 505.09 609.46 504.43 609.96 503.77 610.46 503.2 610.96 502.68 611.46 502.2 611.96 501.74 612.46 501.29 612.96 500.84 613.46 500.41 613.96 499.98 614.46 499.58 614.96 499.21 615.46 498.85 615.96 498.52 616.46 498.23 616.96 497.95 617.46 497.72 617.96 497.48 618.46 497.3 618.96 497.13 619.46 496.99 619.96 496.89 620.46 496.8 620.96 496.75 621.46 496.71 621.96 496.7 622.46 496.73 622.96 496.77 623.46 496.84 623.96 496.93 624.46 497.05 624.96 497.19 625.46 497.36 625.96 497.55 626.46 497.76 626.96 498 627.46 498.27 627.96 498.54 628.46 498.84 628.96 499.16 629.46 499.51 629.96 499.86 630.46 500.22 630.96 500.58 631.46 500.95 631.96 501.32 632.46 501.75 632.96 502.22 633.46 502.74 633.96 503.32 634.46 503.95 634.96 504.6 635.46 505.28 635.96 505.96 636.46 506.59 636.96 507.08 637.46 507.51 637.96 507.96 638.46 507.9 638.96 507.79 639.46 507.69 639.96 507.6 640.46 507.51 640.96 507.42 641.46 507.33 641.96 507.26 642.46 507.18 642.96 507.12 643.46 507.06 643.96 507.01 644.46 506.97 644.96 506.94 645.46 506.92 645.96 506.9 646.46 506.9 646.96 506.93 647.46 506.98 647.96 507.06 648.46 507.18 648.96 507.31 649.46 507.49 649.96 507.68 650.46 507.91 650.96 508.17 651.46 508.46 651.96 508.78 652.46 509.14 652.96 509.51 653.46 509.91 653.96 510.33 654.46 510.75 654.96 511.18 655.46 511.59 655.96 511.35 656.46 510.68 656.96 510.09 657.46 509.59 657.96 509.16 658.46 508.82 658.96 508.5 659.46 508.24 659.96 507.99 660.46 507.75 660.96 507.53 661.46 507.32 661.96 507.12 662.46 506.95 662.96 506.79 663.46 506.65 663.96 506.53 664.46 506.43 664.96 506.34 665.46 506.28 665.96 506.23 666.46 506.21 666.96 506.21 667.46 506.24 667.96 506.32 668.46 506.41 668.96 506.55 669.46 506.74 669.96 506.94 670.46 507.2 670.96 506.73 671.46 506.17 671.96 505.65 672.46 505.16 672.96 504.72 673.46 504.34 673.96 504.01 674.46 503.74 674.96 503.5 675.46 503.31 675.96 503.17 676.46 503.07 676.96 503.01 677.46 502.97 677.96 502.97 678.46 503.02 678.96 503.1 679.46 503.23 679.96 503.38 680.46 503.58 680.96 503.83 681.46 504.13 681.96 504.47 682.46 504.86 682.96 505.29 683.46 505.77 683.96 506.31 684.46 506.95 684.96 507.7 685.46 508.61 685.96 509.69 686.46 510.44 686.96 511.12 687.46 511.89 687.96 512.51 688.46 512.61 688.96 512.28 689.46 511.91 689.96 511.6 690.46 511.36 690.96 511.16 691.46 511.02 691.96 510.91 692.46 510.83 692.96 510.79 693.46 510.8 693.96 510.84 694.46 510.93 694.96 511.06 695.46 511.23 695.96 511.37 696.46 511.51 696.96 511.7 697.46 511.93 697.96 512.2 698.46 512.53 698.96 512.94 699.46 513.4 699.96 513.99 700.46 514.39 700.96 514.63 701.46 514.82 701.96 515.07 702.46 513.79 702.96 512.56 703.46 511.19 703.96 510.02 704.46 508.96 704.96 507.89 705.46 506.4 705.96 505.23 706.46 504.3 706.96 503.54 707.46 502.92 707.96 502.43 708.46 502.03 708.96 501.7 709.46 501.42 709.96 501.2 710.46 501.02 710.96 500.89 711.46 500.81 711.96 500.76 712.46 500.76 712.96 500.79 713.46 500.85 713.96 500.95 714.46 501.1 714.96 501.3 715.46 501.55 715.96 501.84 716.46 502.19 716.96 502.52 717.46 502.86 717.96 503.28 718.46 503.76 718.96 504.37 719.46 505.1 719.96 506.03 720.46 507.16 720.96 508.66 721.46 510.25 721.96 511.36 722.46 513.02 722.96 515.01 723.46 515.87 723.96 516.7 724.46 517.83 724.96 519.12 725.46 518.57 725.96 518.05 726.46 517.59 726.96 516.91 727.46 516.26 727.96 515.75 728.46 514.72 728.96 513.93 729.46 513.31 729.96 512.81 730.46 512.2 730.96 511.52 731.46 510.99 731.96 510.57 732.46 510.23 732.96 509.93 733.46 509.7 733.96 509.51 734.46 509.38 734.96 509.28 735.46 509.23 735.96 509.22 736.46 509.24 736.96 509.08 737.46 508.96 737.96 508.89 738.46 508.86 738.96 508.87 739.46 508.92 739.96 509.01 740.46 509.13 740.96 509.3 741.46 509.52 741.96 509.8 742.46 510.14 742.96 510.56 743.46 511.04 743.96 511.28 744.46 511.57 744.96 511.64 745.46 511.66 745.96 511.6 746.46 511.17 746.96 510.75 747.46 510.42 747.96 510.15 748.46 509.93 748.96 509.62 749.46 509.11 749.96 508.36 750.46 507.44 750.96 506.66 751.46 506.01 751.96 505.47 752.46 504.61 752.96 503.91 753.46 503.38 753.96 502.95 754.46 502.6 754.96 502.32 755.46 502.09 755.96 501.9 756.46 501.77 756.96 501.24 757.46 500.79 757.96 500.42 758.46 500.13 758.96 499.89 759.46 499.7 759.96 499.47 760.46 499.27 760.96 499.11 761.46 499 761.96 498.92 762.46 498.9 762.96 498.91 763.46 498.96 763.96 499.05 764.46 499.19 764.96 499.37 765.46 499.59 765.96 499.87 766.46 500.22 766.96 500.65 767.46 501.18 767.96 501.88 768.46 502.83 768.96 504.28 769.46 505.55 769.96 506.45 770.46 507.34 770.96 508.39 771.46 510.09 771.96 510.23 772.46 509.94 772.96 509.63 773.46 509.39 773.96 509.19 774.46 508.99 774.96 508.76 775.46 508.57 775.96 508.42 776.46 508.32 776.96 508.26 777.46 508.24 777.96 508.26 778.46 508.32 778.96 508.42 779.46 508.56 779.96 508.74 780.46 508.98 780.96 509.28 781.46 509.36 781.96 509.45 782.46 509.59 782.96 509.77 783.46 510.01 783.96 509.33 784.46 508.75 784.96 508.29 785.46 507.92 785.96 507.63 786.46 507.39 786.96 507.2 787.46 507.06 787.96 506.96 788.46 506.91 788.96 506.89 789.46 506.65 789.96 506.4 790.46 506.21 790.96 506.06 791.46 505.96 791.96 505.9 792.46 505.88 792.96 505.9 793.46 505.96 793.96 506.03 794.46 506.05 794.96 506.11 795.46 506.21 795.96 506.36 796.46 506.55 796.96 506.8 797.46 507.11 797.96 507.47 798.46 507.49 798.96 507.5 799.46 507.53 799.96 507.6 800.46 507.71 800.96 507.87 801.46 508.07 801.96 508.33 802.46 508.65 802.96 509 803.46 509.16 803.96 509.37 804.46 509.63 804.96 509.94 805.46 510.33 805.96 510.81 806.46 511.42 806.96 511.74 807.46 512 807.96 512.32 808.46 512.72 808.96 512.87 809.46 512.86 809.96 512.88 810.46 512.95 810.96 512.82 811.46 512.69 811.96 512.6 812.46 512.55 812.96 512.55 813.46 512.31 813.96 511.73 814.46 511.27 814.96 510.9 815.46 509.76 815.96 508.92 816.46 508.3 816.96 507.81 817.46 507.41 817.96 506.68 818.46 506.12 818.96 505.68 819.46 505.32 819.96 505.02 820.46 504.77 820.96 504.49 821.46 504.28 821.96 504.11 822.46 503.98 822.96 503.86 823.46 503.7 823.96 503.59 824.46 503.53 824.96 503.5 825.46 503.51 825.96 503.56 826.46 503.66 826.96 503.8 827.46 503.99 827.96 504.08 828.46 504.07 828.96 504.11 829.46 504.19 829.96 504.14 830.46 504.06 830.96 504.03 831.46 504.03 831.96 504.08 832.46 504.17 832.96 504.3 833.46 504.24 833.96 504.01 834.46 503.79 834.96 503.62 835.46 503.49 835.96 503.31 836.46 503.18 836.96 503.09 837.46 503.04 837.96 503.03 838.46 502.92 838.96 502.81 839.46 502.75 839.96 502.73 840.46 502.74 840.96 502.8 841.46 502.81 841.96 502.82 842.46 502.86 842.96 502.95 843.46 503.08 843.96 503.25 844.46 503.48 844.96 503.76 845.46 504.11 845.96 504.54 846.46 505.08 846.96 505.63 847.46 506.04 847.96 506.53 848.46 506.15 848.96 505.83 849.46 505.58 849.96 504.73 850.46 504.01 850.96 503.45 851.46 503 851.96 502.65 852.46 502.35 852.96 502.12 853.46 501.94 853.96 501.81 854.46 501.72 854.96 501.67 855.46 501.66 855.96 501.69 856.46 501.76 856.96 501.88 857.46 502.04 857.96 502.25 858.46 502.51 858.96 502.67 859.46 502.84 859.96 503.07 860.46 503.36 860.96 503.71 861.46 504.15 861.96 504.38 862.46 504.66 862.96 505 863.46 505.36 863.96 505.81 864.46 506.37 864.96 506.96 865.46 507.39 865.96 507.89 866.46 508.22 866.96 508.55 867.46 508.73 867.96 508.88 868.46 508.94 868.96 508.99 869.46 509.08 869.96 509.21 870.46 509.32 870.96 509.42 871.46 509.52 871.96 509.12 872.46 508.79 872.96 508.42 873.46 507.74 873.96 507.15 874.46 506.65 874.96 506.26 875.46 505.93 875.96 505.67 876.46 505.46 876.96 505.31 877.46 505.19 877.96 505.12 878.46 505.09 878.96 505.1 879.46 505.15 879.96 505.25 880.46 505.3 880.96 505.38 881.46 505.51 881.96 505.65 882.46 505.82 882.96 506.03 883.46 506.29 883.96 506.6 884.46 506.8 884.96 507.02 885.46 507.3 885.96 507.58 886.46 507.87 886.96 508.22 887.46 508.66 887.96 509.2 888.46 509.67 888.96 509.88 889.46 509.94 889.96 510.04 890.46 509.98 890.96 509.9 891.46 509.79 891.96 509.67 892.46 509.59 892.96 509.56 893.46 509.52 893.96 508.95 894.46 508.29 894.96 507.78 895.46 507.36 895.96 507.03 896.46 506.13 896.96 505.44 897.46 504.91 897.96 504.49 898.46 504.14 898.96 503.86 899.46 503.64 899.96 503.29 900.46 502.99 900.96 502.75 901.46 502.56 901.96 502.4 902.46 502.24 902.96 502.13 903.46 502.05 903.96 502.02 904.46 502.03 904.96 502.08 905.46 502.17 905.96 502.31 906.46 502.45 906.96 502.56 907.46 502.71 907.96 502.91 908.46 503.17 908.96 503.48 909.46 503.88 909.96 504.36 910.46 504.98 910.96 505.83 911.46 506.45 911.96 506.79 912.46 507.23 912.96 507.61 913.46 507.41 913.96 507.12 914.46 506.82 914.96 506.35 915.46 505.95 915.96 505.63 916.46 505.37 916.96 505.17 917.46 505.01 917.96 504.9 918.46 504.83 918.96 504.81 919.46 504.81 919.96 504.83 920.46 504.88 920.96 504.98 921.46 505.12 921.96 505.3 922.46 505.54 922.96 505.67 923.46 505.81 923.96 505.9 924.46 505.85 924.96 505.83 925.46 505.86 925.96 505.93 926.46 506.04 926.96 506.19 927.46 506.39 927.96 506.65 928.46 506.74 928.96 506.67 929.46 506.63 929.96 506.47 930.46 506.26 930.96 506.11 931.46 505.93 931.96 505.76 932.46 505.58 932.96 505.42 933.46 505.31 933.96 505.23 934.46 505.2 934.96 505.21 935.46 505.26 935.96 505.33 936.46 505.33 936.96 505.37 937.46 505.45 937.96 505.57 938.46 505.74 938.96 505.86 939.46 506.01 939.96 506.2 940.46 506.45 940.96 506.76 941.46 507.14 941.96 507.61 942.46 508.19 942.96 508.38 943.46 508.62 943.96 508.92 944.46 509.29 944.96 509.52 945.46 509.15 945.96 508.83 946.46 508.57 946.96 508.36 947.46 508.2 947.96 508.09 948.46 508.02 948.96 507.99 949.46 507.95 949.96 507.7 950.46 507.39 950.96 507.14 951.46 506.88 951.96 506.55 952.46 506.27 952.96 505.93 953.46 505.62 953.96 505.37 954.46 505 954.96 504.62 955.46 504.31 955.96 504.06 956.46 503.86 956.96 503.71 957.46 503.6 957.96 503.54 958.46 503.52 958.96 503.54 959.46 503.49 959.96 503.46 960.46 503.48 960.96 503.53 961.46 503.63 961.96 503.77 962.46 503.94 962.96 504.01 963.46 504.13 963.96 504.29 964.46 504.5 964.96 504.77 965.46 505.1 965.96 505.51 966.46 505.92 966.96 506.3 967.46 506.7 967.96 506.93 968.46 507.21 968.96 507.57 969.46 508 969.96 508.46 970.46 508.83 970.96 508.97 971.46 509.15 971.96 509.39 972.46 509.68 972.96 510.05 973.46 510.44 973.96 509.05 974.46 507.97 974.96 506.58 975.46 504.75 975.96 503.02 976.46 501.73 976.96 499.96 977.46 498.93 977.96 498.04 978.46 497.02 978.96 495.87 979.46 495.09 979.96 494.45 980.46 493.78 980.96 493.25 981.46 492.83 981.96 492.49 982.46 492.22 982.96 492 983.46 491.83 983.96 491.71 984.46 491.63 984.96 491.58 985.46 491.52 985.96 491.51 986.46 491.54 986.96 491.53 987.46 491.44 987.96 491.4 988.46 491.35 988.96 491.28 989.46 491.25 989.96 491.27 990.46 491.32 990.96 491.42 991.46 491.56 991.96 491.72 992.46 491.86 992.96 492.05 993.46 492.29 993.96 492.57 994.46 492.75 L994.46 507.37 993.96 507.47 993.46 507.53 992.96 507.54 992.46 507.52 991.96 507.45 991.46 507.35 990.96 507.2 990.46 507 989.96 506.74 989.46 506.43 988.96 506.04 988.46 506.7 987.96 508 987.46 509.36 986.96 511.42 986.46 513.43 985.96 514.49 985.46 515.39 984.96 516.83 984.46 518.18 983.96 519 983.46 519.75 982.96 520.5 982.46 521.82 981.96 522.73 981.46 523.39 980.96 523.9 980.46 524.31 979.96 524.64 979.46 524.91 978.96 525.12 978.46 525.28 977.96 525.4 977.46 525.49 976.96 525.55 976.46 525.56 975.96 525.53 975.46 525.49 974.96 525.46 974.46 525.39 973.96 525.28 973.46 525.13 972.96 524.92 972.46 524.78 971.96 524.75 971.46 524.72 970.96 524.65 970.46 524.53 969.96 524.37 969.46 524.16 968.96 523.89 968.46 523.71 967.96 523.53 967.46 523.29 966.96 522.99 966.46 522.78 965.96 522.58 965.46 522.32 964.96 522 964.46 521.65 963.96 521.5 963.46 521.3 962.96 521.05 962.46 520.74 961.96 520.35 961.46 519.88 960.96 519.37 960.46 519.02 959.96 518.83 959.46 519.05 958.96 519.21 958.46 519.34 957.96 519.45 957.46 519.76 956.96 520.01 956.46 520.21 955.96 520.57 955.46 520.94 954.96 521.24 954.46 521.48 953.96 521.66 953.46 521.8 952.96 521.9 952.46 522.04 951.96 522.25 951.46 522.41 950.96 522.69 950.46 523.04 949.96 523.4 949.46 523.69 948.96 523.92 948.46 524.1 947.96 524.23 947.46 524.34 946.96 524.56 946.46 524.72 945.96 524.84 945.46 524.91 944.96 524.95 944.46 524.94 943.96 524.89 943.46 524.8 942.96 524.67 942.46 524.57 941.96 524.47 941.46 524.31 940.96 524.11 940.46 523.86 939.96 523.61 939.46 523.39 938.96 523.11 938.46 522.76 937.96 522.34 937.46 521.84 936.96 521.42 936.46 521.05 935.96 520.68 935.46 520.27 934.96 520.31 934.46 520.3 933.96 520.26 933.46 520.2 932.96 520.33 932.46 520.42 931.96 520.6 931.46 520.73 930.96 520.99 930.46 521.2 929.96 521.36 929.46 521.48 928.96 521.56 928.46 521.59 927.96 521.58 927.46 521.54 926.96 521.45 926.46 521.31 925.96 521.21 925.46 521.14 924.96 521.02 924.46 520.86 923.96 520.65 923.46 520.39 922.96 520.06 922.46 519.83 921.96 519.7 921.46 519.52 920.96 519.55 920.46 519.6 919.96 519.81 919.46 520.08 918.96 520.3 918.46 520.47 917.96 520.72 917.46 521.11 916.96 521.42 916.46 521.67 915.96 521.87 915.46 522.03 914.96 522.24 914.46 522.4 913.96 522.51 913.46 522.58 912.96 522.61 912.46 522.61 911.96 522.57 911.46 522.49 910.96 522.45 910.46 522.41 909.96 522.32 909.46 522.19 908.96 522.01 908.46 521.79 907.96 521.5 907.46 521.2 906.96 520.9 906.46 520.54 905.96 520.09 905.46 519.57 904.96 519.22 904.46 518.78 903.96 518.23 903.46 519.07 902.96 519.76 902.46 520.29 901.96 520.71 901.46 521.06 900.96 521.33 900.46 521.55 899.96 521.73 899.46 521.97 898.96 522.22 898.46 522.48 897.96 522.76 897.46 522.98 896.96 523.16 896.46 523.33 895.96 523.5 895.46 523.64 894.96 523.74 894.46 523.79 893.96 523.96 893.46 524.1 892.96 524.19 892.46 524.24 891.96 524.26 891.46 524.23 890.96 524.16 890.46 524.09 889.96 524.08 889.46 524.25 888.96 524.4 888.46 524.51 887.96 524.58 887.46 524.6 886.96 524.59 886.46 524.53 885.96 524.44 885.46 524.29 884.96 524.11 884.46 523.86 883.96 523.56 883.46 523.19 882.96 522.74 882.46 522.41 881.96 522.1 881.46 521.81 880.96 521.49 880.46 521.09 879.96 520.59 879.46 520.78 878.96 521.11 878.46 521.47 877.96 521.79 877.46 522.04 876.96 522.24 876.46 522.39 875.96 522.52 875.46 522.88 874.96 523.17 874.46 523.39 873.96 523.57 873.46 523.7 872.96 523.79 872.46 523.84 871.96 523.85 871.46 523.82 870.96 523.77 870.46 523.68 869.96 523.55 869.46 523.37 868.96 523.27 868.46 523.26 867.96 523.22 867.46 523.19 866.96 523.14 866.46 523.05 865.96 522.92 865.46 522.75 864.96 522.52 864.46 522.23 863.96 522.15 863.46 522.11 862.96 522.02 862.46 521.89 861.96 521.72 861.46 521.49 860.96 521.21 860.46 520.86 859.96 520.45 859.46 520.21 858.96 519.91 858.46 519.55 857.96 519.09 857.46 518.51 856.96 517.84 856.46 517.53 855.96 517.18 855.46 517.34 854.96 517.76 854.46 518.31 853.96 519 853.46 519.68 852.96 520.2 852.46 520.62 851.96 520.96 851.46 521.23 850.96 521.45 850.46 521.62 849.96 521.74 849.46 521.82 848.96 521.86 848.46 521.85 847.96 521.81 847.46 521.73 846.96 521.6 846.46 521.43 845.96 521.2 845.46 520.94 844.96 520.8 844.46 520.61 843.96 520.37 843.46 520.07 842.96 519.7 842.46 519.25 841.96 519.03 841.46 518.86 840.96 518.65 840.46 518.39 839.96 518.06 839.46 517.65 838.96 517.14 838.46 516.79 837.96 517.02 837.46 517.22 836.96 517.38 836.46 517.61 835.96 517.83 835.46 518 834.96 518.13 834.46 518.21 833.96 518.25 833.46 518.25 832.96 518.21 832.46 518.23 831.96 518.26 831.46 518.25 830.96 518.2 830.46 518.11 829.96 518.09 829.46 518.11 828.96 518.1 828.46 518.05 827.96 517.95 827.46 517.88 826.96 517.88 826.46 517.84 825.96 517.76 825.46 518.45 824.96 519.61 824.46 520.87 823.96 521.68 823.46 522.3 822.96 522.79 822.46 523.33 821.96 523.98 821.46 524.49 820.96 524.89 820.46 525.22 819.96 525.49 819.46 525.7 818.96 525.91 818.46 526.14 817.96 526.33 817.46 526.46 816.96 526.7 816.46 526.9 815.96 527.05 815.46 527.15 814.96 527.21 814.46 527.23 813.96 527.22 813.46 527.16 812.96 527.05 812.46 526.91 811.96 526.72 811.46 526.68 810.96 526.9 810.46 527.07 809.96 527.19 809.46 527.27 808.96 527.31 808.46 527.3 807.96 527.26 807.46 527.18 806.96 527.05 806.46 526.88 805.96 526.66 805.46 526.38 804.96 526.26 804.46 526.1 803.96 525.89 803.46 525.63 802.96 525.31 802.46 524.91 801.96 524.61 801.46 524.33 800.96 523.98 800.46 523.74 799.96 523.5 799.46 523.21 798.96 522.84 798.46 522.39 797.96 521.82 797.46 521.41 796.96 521.23 796.46 521.06 795.96 520.96 795.46 520.82 794.96 520.64 794.46 520.4 793.96 520.11 793.46 519.88 792.96 519.97 792.46 520.29 791.96 520.55 791.46 520.75 790.96 521 790.46 521.28 789.96 521.66 789.46 522.08 788.96 522.41 788.46 522.69 787.96 523.01 787.46 523.35 786.96 523.63 786.46 523.86 785.96 524.04 785.46 524.17 784.96 524.27 784.46 524.36 783.96 524.41 783.46 524.42 782.96 524.39 782.46 524.32 781.96 524.21 781.46 524.08 780.96 524 780.46 523.88 779.96 523.71 779.46 523.49 778.96 523.25 778.46 523.15 777.96 523.2 777.46 523.75 776.96 524.21 776.46 525.16 775.96 525.87 775.46 526.41 774.96 526.84 774.46 527.41 773.96 528.09 773.46 528.61 772.96 529.03 772.46 529.36 771.96 529.64 771.46 529.85 770.96 530.02 770.46 530.14 769.96 530.22 769.46 530.26 768.96 530.26 768.46 530.22 767.96 530.13 767.46 530.01 766.96 529.83 766.46 529.61 765.96 529.33 765.46 528.98 764.96 528.56 764.46 528.04 763.96 527.39 763.46 526.76 762.96 526.08 762.46 525.44 761.96 524.55 761.46 523.07 760.96 519.5 760.46 517.27 759.96 516.51 759.46 517.26 758.96 517.83 758.46 518.29 757.96 518.67 757.46 519.08 756.96 520.01 756.46 520.72 755.96 521.26 755.46 521.7 754.96 522.05 754.46 522.33 753.96 522.71 753.46 523.12 752.96 523.46 752.46 523.73 751.96 523.96 751.46 524.13 750.96 524.3 750.46 524.48 749.96 524.61 749.46 524.69 748.96 524.74 748.46 524.74 747.96 524.71 747.46 524.63 746.96 524.51 746.46 524.53 745.96 524.85 745.46 525.11 744.96 525.31 744.46 525.47 743.96 525.59 743.46 525.67 742.96 525.71 742.46 525.71 741.96 525.67 741.46 525.58 740.96 525.45 740.46 525.28 739.96 525.06 739.46 524.78 738.96 524.44 738.46 524.03 737.96 524.31 737.46 524.93 736.96 525.42 736.46 525.81 735.96 526.13 735.46 526.4 734.96 526.79 734.46 527.5 733.96 528.13 733.46 528.89 732.96 529.7 732.46 530.31 731.96 530.82 731.46 531.23 730.96 531.77 730.46 532.41 729.96 532.98 729.46 533.51 728.96 533.94 728.46 534.29 727.96 534.59 727.46 534.82 726.96 535.01 726.46 535.15 725.96 535.25 725.46 535.3 724.96 535.32 724.46 535.29 723.96 535.22 723.46 535.11 722.96 534.96 722.46 534.76 721.96 534.51 721.46 534.21 720.96 533.84 720.46 533.39 719.96 532.82 719.46 532.25 718.96 531.58 718.46 531.23 717.96 530.81 717.46 530.28 716.96 529.62 716.46 528.84 715.96 528.32 715.46 527.66 714.96 526.83 714.46 525.76 713.96 524.97 713.46 523.94 712.96 522.65 712.46 522.73 711.96 524.36 711.46 525.89 710.96 527.15 710.46 528.1 709.96 528.78 709.46 529.3 708.96 529.75 708.46 530.12 707.96 530.42 707.46 530.66 706.96 530.85 706.46 530.99 705.96 531.08 705.46 531.14 704.96 531.15 704.46 531.13 703.96 531.06 703.46 530.96 702.96 530.82 702.46 530.64 701.96 530.41 701.46 530.12 700.96 529.76 700.46 529.52 699.96 529.24 699.46 528.93 698.96 528.68 698.46 528.4 697.96 528.13 697.46 527.83 696.96 527.48 696.46 527.07 695.96 526.59 695.46 526.34 694.96 526.08 694.46 525.77 693.96 525.4 693.46 524.95 692.96 524.56 692.46 524.75 691.96 524.97 691.46 525.14 690.96 525.32 690.46 525.53 689.96 525.72 689.46 525.87 688.96 526 688.46 526.1 687.96 526.18 687.46 526.22 686.96 526.24 686.46 526.22 685.96 526.15 685.46 526.05 684.96 525.93 684.46 525.75 683.96 525.53 683.46 525.26 682.96 524.95 682.46 524.56 681.96 524.16 681.46 523.81 680.96 523.41 680.46 522.93 679.96 522.39 679.46 521.75 678.96 521.07 678.46 520.48 677.96 519.89 677.46 519.24 676.96 519.34 676.46 519.83 675.96 520.24 675.46 520.6 674.96 520.9 674.46 521.16 673.96 521.37 673.46 521.53 672.96 521.66 672.46 521.76 671.96 521.81 671.46 521.83 670.96 521.8 670.46 521.75 669.96 521.67 669.46 521.55 668.96 521.37 668.46 521.17 667.96 520.93 667.46 520.63 666.96 520.3 666.46 519.93 665.96 519.52 665.46 519.63 664.96 520.58 664.46 521.48 663.96 522.3 663.46 523.02 662.96 523.64 662.46 524.18 661.96 524.63 661.46 525.03 660.96 525.36 660.46 525.63 659.96 525.86 659.46 526.05 658.96 526.2 658.46 526.3 657.96 526.36 657.46 526.38 656.96 526.39 656.46 526.36 655.96 526.28 655.46 526.19 654.96 526.06 654.46 525.89 653.96 525.7 653.46 525.47 652.96 525.2 652.46 524.91 651.96 524.58 651.46 524.21 650.96 523.82 650.46 523.4 649.96 522.98 649.46 522.55 648.96 522.19 648.46 521.83 647.96 521.46 647.46 521.06 646.96 520.65 646.46 520.23 645.96 519.79 645.46 519.38 644.96 519.37 644.46 519.43 643.96 519.49 643.46 519.57 642.96 519.65 642.46 519.74 641.96 519.84 641.46 519.94 640.96 520.16 640.46 520.35 639.96 520.52 639.46 520.66 638.96 520.75 638.46 520.84 637.96 520.89 637.46 520.89 636.96 520.88 636.46 520.83 635.96 520.75 635.46 520.65 634.96 520.51 634.46 520.33 633.96 520.15 633.46 519.9 632.96 519.65 632.46 519.34 631.96 519.02 631.46 518.67 630.96 518.27 630.46 517.86 629.96 517.42 629.46 516.99 628.96 516.55 628.46 516.12 627.96 515.64 627.46 515.13 626.96 514.55 626.46 513.92 625.96 513.26 625.46 512.59 624.96 511.92 624.46 511.27 623.96 510.82 623.46 510.45 622.96 510.09 622.46 509.73 621.96 509.45 621.46 509.87 620.96 510.31 620.46 510.77 619.96 511.23 619.46 511.74 618.96 512.41 618.46 513.22 617.96 514.07 617.46 514.96 616.96 515.88 616.46 516.79 615.96 517.69 615.46 518.61 614.96 519.52 614.46 520.39 613.96 521.27 613.46 522.2 612.96 523.15 612.46 524.11 611.96 525.05 611.46 525.97 610.96 526.93 610.46 527.87 609.96 528.74 609.46 529.52 608.96 530.33 608.46 531.06 607.96 531.7 607.46 532.35 606.96 533.02 606.46 533.7 605.96 534.33 605.46 534.94 604.96 535.53 604.46 536.03 603.96 536.52 603.46 536.95 602.96 537.29 602.46 537.64 601.96 537.94 601.46 538.18 600.96 538.36 600.46 538.54 599.96 538.69 599.46 538.8 598.96 538.86 598.46 538.88 597.96 538.87 597.46 538.84 596.96 538.79 596.46 538.7 595.96 538.57 595.46 538.39 594.96 538.18 594.46 537.97 593.96 537.7 593.46 537.37 592.96 537.01 592.46 536.62 591.96 536.14 591.46 535.68 590.96 535.11 590.46 534.55 589.96 533.9 589.46 533.27 588.96 532.62 588.46 531.94 587.96 531.29 587.46 530.71 586.96 530.14 586.46 529.61 585.96 529.03 585.46 528.42 584.96 527.86 584.46 527.26 583.96 526.62 583.46 526.04 582.96 525.43 582.46 524.79 581.96 524.18 581.46 523.59 580.96 522.97 580.46 522.34 579.96 521.78 579.46 521.21 578.96 520.6 578.46 520.03 577.96 519.44 577.46 518.81 576.96 518.25 576.46 517.65 575.96 517.03 575.46 516.47 574.96 515.9 574.46 515.32 573.96 514.77 573.46 514.26 572.96 513.75 572.46 513.27 571.96 512.81 571.46 512.39 570.96 511.92 570.46 511.48 569.96 511.05 569.46 510.59 568.96 510.17 568.46 509.76 567.96 509.36 567.46 508.98 566.96 508.65 566.46 508.36 565.96 508.16 565.46 508.04 564.96 507.94 564.46 507.86 563.96 507.8 563.46 507.73 562.96 507.69 562.46 507.65 561.96 507.64 561.46 507.64 560.96 507.67 560.46 507.7 559.96 507.74 559.46 507.79 558.96 507.87 558.46 507.97 557.96 508.08 557.46 508.22 556.96 508.32 556.46 508.39 555.96 508.41 555.46 508.4 554.96 508.34 554.46 508.24 553.96 508.1 553.46 507.91 552.96 507.67 552.46 507.36 551.96 506.99 551.46 506.53 550.96 505.95 550.46 505.17 549.96 503.96Z" fill="#ff0000"/>
<path d="M137.99 16.15L187.73 18.45M202.9 19.31L225.71 20.81M240.86 21.96L252.66 22.97M267.78 24.52L273.59 25.22M288.6 27.52L290.74 27.92" stroke="#008000" stroke-width="3.3" fill="none"/>
<path d="M124.65 15.8a5.75 5.75 0 1 0 11.5 0a5.75 5.75 0 1 0 -11.5 0M189.57 18.81a5.75 5.75 0 1 0 11.5 0a5.75 5.75 0 1 0 -11.5 0M227.54 21.31a5.75 5.75 0 1 0 11.5 0a5.75 5.75 0 1 0 -11.5 0M254.48 23.62a5.75 5.75 0 1 0 11.5 0a5.75 5.75 0 1 0 -11.5 0M275.38 26.12a5.75 5.75 0 1 0 11.5 0a5.75 5.75 0 1 0 -11.5 0M292.46 29.33a5.75 5.75 0 1 0 11.5 0a5.75 5.75 0 1 0 -11.5 0M306.9 31.83a5.75 5.75 0 1 0 11.5 0a5.75 5.75 0 1 0 -11.5 0M319.4 34.34a5.75 5.75 0 1 0 11.5 0a5.75 5.75 0 1 0 -11.5 0M330.43 37.34a5.75 5.75 0 1 0 11.5 0a5.75 5.75 0 1 0 -11.5 0M340.3 39.79a5.75 5.75 0 1 0 11.5 0a5.75 5.75 0 1 0 -11.5 0M349.23 42.16a5.75 5.75 0 1 0 11.5 0a5.75 5.75 0 1 0 -11.5 0M357.38 44.66a5.75 5.75 0 1 0 11.5 0a5.75 5.75 0 1 0 -11.5 0M364.87 47.22a5.75 5.75 0 1 0 11.5 0a5.75 5.75 0 1 0 -11.5 0M371.81 49.84a5.75 5.75 0 1 0 11.5 0a5.75 5.75 0 1 0 -11.5 0M378.27 52.47a5.75 5.75 0 1 0 11.5 0a5.75 5.75 0 1 0 -11.5 0M384.32 55.12a5.75 5.75 0 1 0 11.5 0a5.75 5.75 0 1 0 -11.5 0M390 57.77a5.75 5.75 0 1 0 11.5 0a5.75 5.75 0 1 0 -11.5 0M395.35 60.41a5.75 5.75 0 1 0 11.5 0a5.75 5.75 0 1 0 -11.5 0M400.41 63.04a5.75 5.75 0 1 0 11.5 0a5.75 5.75 0 1 0 -11.5 0M405.22 65.65a5.75 5.75 0 1 0 11.5 0a5.75 5.75 0 1 0 -11.5 0M409.79 68.24a5.75 5.75 0 1 0 11.5 0a5.75 5.75 0 1 0 -11.5 0M414.14 70.8a5.75 5.75 0 1 0 11.5 0a5.75 5.75 0 1 0 -11.5 0M418.31 73.34a5.75 5.75 0 1 0 11.5 0a5.75 5.75 0 1 0 -11.5 0M422.29 75.86a5.75 5.75 0 1 0 11.5 0a5.75 5.75 0 1 0 -11.5 0M426.12 78.34a5.75 5.75 0 1 0 11.5 0a5.75 5.75 0 1 0 -11.5 0M429.79 80.8a5.75 5.75 0 1 0 11.5 0a5.75 5.75 0 1 0 -11.5 0M433.32 83.23a5.75 5.75 0 1 0 11.5 0a5.75 5.75 0 1 0 -11.5 0M436.73 85.63a5.75 5.75 0 1 0 11.5 0a5.75 5.75 0 1 0 -11.5 0M440.02 88.01a5.75 5.75 0 1 0 11.5 0a5.75 5.75 0 1 0 -11.5 0M443.19 90.35a5.75 5.75 0 1 0 11.5 0a5.75 5.75 0 1 0 -11.5 0M446.26 92.67a5.75 5.75 0 1 0 11.5 0a5.75 5.75 0 1 0 -11.5 0M449.24 94.97a5.75 5.75 0 1 0 11.5 0a5.75 5.75 0 1 0 -11.5 0M452.12 97.24a5.75 5.75 0 1 0 11.5 0a5.75 5.75 0 1 0 -11.5 0M454.91 99.49a5.75 5.75 0 1 0 11.5 0a5.75 5.75 0 1 0 -11.5 0M457.63 101.73a5.75 5.75 0 1 0 11.5 0a5.75 5.75 0 1 0 -11.5 0M460.27 103.96a5.75 5.75 0 1 0 11.5 0a5.75 5.75 0 1 0 -11.5 0M462.83 106.18a5.75 5.75 0 1 0 11.5 0a5.75 5.75 0 1 0 -11.5 0M465.33 108.4a5.75 5.75 0 1 0 11.5 0a5.75 5.75 0 1 0 -11.5 0M467.76 110.62a5.75 5.75 0 1 0 11.5 0a5.75 5.75 0 1 0 -11.5 0M470.13 112.85a5.75 5.75 0 1 0 11.5 0a5.75 5.75 0 1 0 -11.5 0M472.45 115.07a5.75 5.75 0 1 0 11.5 0a5.75 5.75 0 1 0 -11.5 0M474.7 117.3a5.75 5.75 0 1 0 11.5 0a5.75 5.75 0 1 0 -11.5 0M476.91 119.54a5.75 5.75 0 1 0 11.5 0a5.75 5.75 0 1 0 -11.5 0M479.06 121.78a5.75 5.75 0 1 0 11.5 0a5.75 5.75 0 1 0 -11.5 0M481.17 124.03a5.75 5.75 0 1 0 11.5 0a5.75 5.75 0 1 0 -11.5 0M483.22 126.29a5.75 5.75 0 1 0 11.5 0a5.75 5.75 0 1 0 -11.5 0M485.24 128.56a5.75 5.75 0 1 0 11.5 0a5.75 5.75 0 1 0 -11.5 0M487.21 130.84a5.75 5.75 0 1 0 11.5 0a5.75 5.75 0 1 0 -11.5 0M489.14 133.13a5.75 5.75 0 1 0 11.5 0a5.75 5.75 0 1 0 -11.5 0M491.03 135.42a5.75 5.75 0 1 0 11.5 0a5.75 5.75 0 1 0 -11.5 0M492.89 137.73a5.75 5.75 0 1 0 11.5 0a5.75 5.75 0 1 0 -11.5 0M494.71 140.04a5.75 5.75 0 1 0 11.5 0a5.75 5.75 0 1 0 -11.5 0M496.49 142.36a5.75 5.75 0 1 0 11.5 0a5.75 5.75 0 1 0 -11.5 0M498.24 144.68a5.75 5.75 0 1 0 11.5 0a5.75 5.75 0 1 0 -11.5 0M499.96 147a5.75 5.75 0 1 0 11.5 0a5.75 5.75 0 1 0 -11.5 0M501.65 149.32a5.75 5.75 0 1 0 11.5 0a5.75 5.75 0 1 0 -11.5 0M503.3 151.64a5.75 5.75 0 1 0 11.5 0a5.75 5.75 0 1 0 -11.5 0M504.93 153.95a5.75 5.75 0 1 0 11.5 0a5.75 5.75 0 1 0 -11.5 0M506.53 156.26a5.75 5.75 0 1 0 11.5 0a5.75 5.75 0 1 0 -11.5 0M508.11 158.57a5.75 5.75 0 1 0 11.5 0a5.75 5.75 0 1 0 -11.5 0M509.66 160.87a5.75 5.75 0 1 0 11.5 0a5.75 5.75 0 1 0 -11.5 0M511.18 163.16a5.75 5.75 0 1 0 11.5 0a5.75 5.75 0 1 0 -11.5 0M512.68 165.44a5.75 5.75 0 1 0 11.5 0a5.75 5.75 0 1 0 -11.5 0M514.15 167.72a5.75 5.75 0 1 0 11.5 0a5.75 5.75 0 1 0 -11.5 0M515.6 169.99a5.75 5.75 0 1 0 11.5 0a5.75 5.75 0 1 0 -11.5 0M517.03 172.25a5.75 5.75 0 1 0 11.5 0a5.75 5.75 0 1 0 -11.5 0M518.44 174.5a5.75 5.75 0 1 0 11.5 0a5.75 5.75 0 1 0 -11.5 0M519.83 176.74a5.75 5.75 0 1 0 11.5 0a5.75 5.75 0 1 0 -11.5 0M521.2 178.97a5.75 5.75 0 1 0 11.5 0a5.75 5.75 0 1 0 -11.5 0M522.55 181.19a5.75 5.75 0 1 0 11.5 0a5.75 5.75 0 1 0 -11.5 0M523.87 183.41a5.75 5.75 0 1 0 11.5 0a5.75 5.75 0 1 0 -11.5 0M525.18 185.61a5.75 5.75 0 1 0 11.5 0a5.75 5.75 0 1 0 -11.5 0M526.48 187.8a5.75 5.75 0 1 0 11.5 0a5.75 5.75 0 1 0 -11.5 0M527.75 189.98a5.75 5.75 0 1 0 11.5 0a5.75 5.75 0 1 0 -11.5 0M529.01 192.15a5.75 5.75 0 1 0 11.5 0a5.75 5.75 0 1 0 -11.5 0M530.25 194.31a5.75 5.75 0 1 0 11.5 0a5.75 5.75 0 1 0 -11.5 0M531.47 196.46a5.75 5.75 0 1 0 11.5 0a5.75 5.75 0 1 0 -11.5 0M532.68 198.6a5.75 5.75 0 1 0 11.5 0a5.75 5.75 0 1 0 -11.5 0M533.87 200.73a5.75 5.75 0 1 0 11.5 0a5.75 5.75 0 1 0 -11.5 0M535.05 202.85a5.75 5.75 0 1 0 11.5 0a5.75 5.75 0 1 0 -11.5 0M536.21 204.96a5.75 5.75 0 1 0 11.5 0a5.75 5.75 0 1 0 -11.5 0M537.36 207.06a5.75 5.75 0 1 0 11.5 0a5.75 5.75 0 1 0 -11.5 0M538.5 209.14a5.75 5.75 0 1 0 11.5 0a5.75 5.75 0 1 0 -11.5 0M539.62 211.22a5.75 5.75 0 1 0 11.5 0a5.75 5.75 0 1 0 -11.5 0M540.73 213.28a5.75 5.75 0 1 0 11.5 0a5.75 5.75 0 1 0 -11.5 0M541.82 215.34a5.75 5.75 0 1 0 11.5 0a5.75 5.75 0 1 0 -11.5 0M542.91 217.38a5.75 5.75 0 1 0 11.5 0a5.75 5.75 0 1 0 -11.5 0M543.98 219.41a5.75 5.75 0 1 0 11.5 0a5.75 5.75 0 1 0 -11.5 0M545.04 221.44a5.75 5.75 0 1 0 11.5 0a5.75 5.75 0 1 0 -11.5 0M546.08 223.45a5.75 5.75 0 1 0 11.5 0a5.75 5.75 0 1 0 -11.5 0M547.12 225.45a5.75 5.75 0 1 0 11.5 0a5.75 5.75 0 1 0 -11.5 0M548.14 227.44a5.75 5.75 0 1 0 11.5 0a5.75 5.75 0 1 0 -11.5 0M549.15 229.42a5.75 5.75 0 1 0 11.5 0a5.75 5.75 0 1 0 -11.5 0M550.16 231.39a5.75 5.75 0 1 0 11.5 0a5.75 5.75 0 1 0 -11.5 0" fill="#008000"/>
<path d="M549.96 229.65 550.46 228.43 550.96 227.65 551.46 227.07 551.96 226.61 552.46 226.24 552.96 225.93 553.46 225.69 553.96 225.5 554.46 225.36 554.96 225.26 555.46 225.2 555.96 225.19 556.46 225.21 556.96 225.28 557.46 225.38 557.96 225.54 558.46 225.74 558.96 225.99 559.46 226.3 559.96 226.69 560.46 227.18 560.96 227.79 561.46 228.62 561.96 229.76 562.46 230.6 562.96 231.74 563.46 232.59 563.96 233.72 564.46 234.59 564.96 235.71 565.46 236.6 565.96 237.7 566.46 238.63 566.96 239.7 567.46 240.68 567.96 241.71 568.46 242.76 568.96 243.73 569.46 244.87 569.96 245.77 570.46 246.97 570.96 247.82 571.46 248.98 571.96 249.91 572.46 251.01 572.96 252.04 573.46 253.06 573.96 254.23 574.46 255.14 574.96 256.33 575.46 257.25 575.96 258.38 576.46 259.43 576.96 260.45 577.46 261.69 577.96 262.58 578.46 263.74 578.96 264.77 579.46 265.83 579.96 267.07 580.46 267.98 580.96 269.15 581.46 270.23 581.96 271.27 582.46 272.5 582.96 273.48 583.46 274.61 583.96 275.84 584.46 276.79 584.96 277.97 585.46 279.12 585.96 280.15 586.46 281.36 586.96 282.46 587.46 283.54 587.96 284.77 588.46 285.86 588.96 286.96 589.46 288.19 589.96 289.3 590.46 290.4 590.96 291.64 591.46 292.79 591.96 293.88 592.46 295.1 592.96 296.34 593.46 297.39 593.96 298.6 594.46 299.89 594.96 300.96 595.46 302.13 595.96 303.39 596.46 304.62 596.96 305.72 597.46 306.94 597.96 308.24 598.46 309.4 598.96 310.55 599.46 311.81 599.96 313.12 600.46 314.28 600.96 315.46 601.46 316.72 601.96 318.04 602.46 319.26 602.96 320.43 603.46 321.69 603.96 322.99 604.46 324.34 604.96 325.49 605.46 326.71 605.96 328 606.46 329.32 606.96 330.67 607.46 331.85 607.96 333.08 608.46 334.36 608.96 335.68 609.46 337.01 609.96 338.33 610.46 339.53 610.96 340.78 611.46 342.07 611.96 343.38 612.46 344.7 612.96 346.04 613.46 347.33 613.96 348.55 614.46 349.81 614.96 351.09 615.46 352.38 615.96 353.69 616.46 355 616.96 356.31 617.46 357.62 617.96 358.94 618.46 360.17 618.96 361.42 619.46 362.68 619.96 363.95 620.46 365.22 620.96 366.49 621.46 367.76 621.96 369.03 622.46 370.3 622.96 371.57 623.46 372.83 623.96 374.09 624.46 375.34 624.96 376.59 625.46 377.84 625.96 379.08 626.46 380.32 626.96 381.55 627.46 382.77 627.96 383.99 628.46 385.21 628.96 386.42 629.46 387.63 629.96 388.83 630.46 390.03 630.96 391.23 631.46 392.42 631.96 393.62 632.46 394.82 632.96 396.02 633.46 397.23 633.96 398.4 634.46 399.56 634.96 400.72 635.46 401.88 635.96 403.05 636.46 404.22 636.96 405.4 637.46 406.59 637.96 407.79 638.46 408.97 638.96 410.12 639.46 411.28 639.96 412.45 640.46 413.64 640.96 414.84 641.46 416.07 641.96 417.23 642.46 418.4 642.96 419.59 643.46 420.8 643.96 422.04 644.46 423.24 644.96 424.43 645.46 425.64 645.96 426.88 646.46 428.15 646.96 429.35 647.46 430.57 647.96 431.83 648.46 433.14 648.96 434.36 649.46 435.61 649.96 436.91 650.46 438.23 650.96 439.49 651.46 440.79 651.96 442.15 652.46 443.44 652.96 444.75 653.46 446.13 653.96 447.48 654.46 448.82 654.96 450.23 655.46 451.6 655.96 452.97 656.46 454.42 656.96 455.77 657.46 457.17 657.96 458.62 658.46 459.99 658.96 461.44 659.46 462.79 659.96 464.19 660.46 465.56 660.96 466.93 661.46 468.32 661.96 469.65 662.46 471.02 662.96 472.32 663.46 473.67 663.96 474.95 664.46 476.28 664.96 477.55 665.46 478.85 665.96 480.11 666.46 481.38 666.96 482.64 667.46 483.88 667.96 485.15 668.46 486.35 668.96 487.59 669.46 488.8 669.96 490 670.46 491.24 670.96 492.4 671.46 493.6 671.96 494.79 672.46 495.95 672.96 497.14 673.46 498.3 673.96 499.45 674.46 500.62 674.96 501.78 675.46 502.91 675.96 504.05 676.46 505.21 676.96 506.32 677.46 507.45 677.96 508.58 678.46 509.72 678.96 510.82 679.46 511.94 679.96 513.06 680.46 514.18 680.96 515.29 681.46 516.38 681.96 517.49 682.46 518.59 682.96 519.71 683.46 520.82 683.96 521.91 684.46 523.01 684.96 524.11 685.46 525.2 685.96 526.3 686.46 527.39 686.96 528.49 687.46 529.58 687.96 530.66 688.46 531.74 688.96 532.81 689.46 533.86 689.96 534.91 690.46 535.96 690.96 536.99 691.46 538 691.96 539 692.46 539.98 692.96 540.96 693.46 541.92 693.96 542.87 694.46 543.8 694.96 544.7 695.46 545.58 695.96 546.45 696.46 547.3 696.96 548.12 697.46 548.91 697.96 549.67 698.46 550.4 698.96 551.12 699.46 551.8 699.96 552.46 700.46 553.08 700.96 553.67 701.46 554.24 701.96 554.79 702.46 555.31 702.96 555.81 703.46 556.29 703.96 556.75 704.46 557.19 704.96 557.61 705.46 558.03 705.96 558.43 706.46 558.82 706.96 559.19 707.46 559.56 707.96 559.93 708.46 560.28 708.96 560.64 709.46 560.99 709.96 561.33 710.46 561.66 710.96 561.99 711.46 562.31 711.96 562.62 712.46 562.93 712.96 563.22 713.46 563.5 713.96 563.77 714.46 564.03 714.96 564.27 715.46 564.5 715.96 564.7 716.46 564.89 716.96 565.07 717.46 565.23 717.96 565.31 718.46 565.4 718.96 565.46 719.46 565.5 719.96 565.47 720.46 565.39 720.96 565.3 721.46 565.18 721.96 564.98 722.46 564.75 722.96 564.51 723.46 564.22 723.96 563.9 724.46 563.56 724.96 563.2 725.46 562.82 725.96 562.41 726.46 561.97 726.96 561.51 727.46 561.04 727.96 560.55 728.46 560.03 728.96 559.49 729.46 558.94 729.96 558.37 730.46 557.78 730.96 557.18 731.46 556.55 731.96 555.91 732.46 555.25 732.96 554.59 733.46 553.9 733.96 553.2 734.46 552.48 734.96 551.75 735.46 551.01 735.96 550.25 736.46 549.48 736.96 548.69 737.46 547.89 737.96 547.08 738.46 546.26 738.96 545.43 739.46 544.59 739.96 543.73 740.46 542.86 740.96 541.98 741.46 541.09 741.96 540.19 742.46 539.28 742.96 538.36 743.46 537.43 743.96 536.49 744.46 535.55 744.96 534.59 745.46 533.63 745.96 532.65 746.46 531.67 746.96 530.68 747.46 529.69 747.96 528.68 748.46 527.67 748.96 526.66 749.46 525.63 749.96 524.6 750.46 523.57 750.96 522.52 751.46 521.47 751.96 520.42 752.46 519.38 752.96 518.34 753.46 517.31 753.96 516.28 754.46 515.25 754.96 514.24 755.46 513.25 755.96 512.28 756.46 511.34 756.96 510.4 757.46 509.48 757.96 508.59 758.46 507.73 758.96 506.91 759.46 506.14 759.96 505.38 760.46 504.63 760.96 503.92 761.46 503.25 761.96 502.62 762.46 502.04 762.96 501.51 763.46 501.03 763.96 500.53 764.46 500.05 764.96 499.6 765.46 499.2 765.96 498.84 766.46 498.52 766.96 498.24 767.46 498.01 767.96 497.81 768.46 497.66 768.96 497.53 769.46 497.45 769.96 497.39 770.46 497.37 770.96 497.37 771.46 497.38 771.96 497.4 772.46 497.42 772.96 497.45 773.46 497.49 773.96 497.53 774.46 497.58 774.96 497.67 775.46 497.8 775.96 497.96 776.46 498.16 776.96 498.41 777.46 498.69 777.96 499.02 778.46 499.41 778.96 499.84 779.46 500.33 779.96 500.87 780.46 501.45 780.96 502.05 781.46 502.65 781.96 503.35 782.46 504.16 782.96 505.01 783.46 505.58 783.96 506.06 784.46 506.49 784.96 506.91 785.46 507.35 785.96 507.79 786.46 508.27 786.96 508.77 787.46 509.32 787.96 509.91 788.46 510.55 788.96 511.25 789.46 512.03 789.96 512.95 790.46 514.02 790.96 515.25 791.46 516.64 791.96 518.2 792.46 519.9 792.96 521.71 793.46 523.64 793.96 525.64 794.46 527.7 794.96 529.79 795.46 531.88 795.96 533.94 796.46 535.95 796.96 537.9 797.46 539.72 797.96 541.4 798.46 542.9 798.96 544.19 799.46 545.46 799.96 546.75 800.46 548.05 800.96 549.37 801.46 550.68 801.96 551.98 802.46 553.27 802.96 554.52 803.46 555.74 803.96 556.92 804.46 558.03 804.96 559.08 805.46 558.51 805.96 557.9 806.46 557.28 806.96 556.65 807.46 556.01 807.96 555.38 808.46 554.73 808.96 553.95 809.46 553.07 809.96 552.11 810.46 551.1 810.96 550.03 811.46 548.91 811.96 547.77 812.46 546.6 812.96 545.41 813.46 544.21 813.96 543.01 814.46 541.82 814.96 540.63 815.46 539.47 815.96 538.33 816.46 537.21 816.96 536.04 817.46 534.77 817.96 533.43 818.46 532.02 818.96 530.56 819.46 529.07 819.96 527.55 820.46 526.02 820.96 524.48 821.46 522.95 821.96 521.43 822.46 519.94 822.96 518.49 823.46 517.09 823.96 515.74 824.46 514.46 824.96 513.25 825.46 512.11 825.96 511.06 826.46 510.1 826.96 509.23 827.46 508.44 827.96 507.73 828.46 507.1 828.96 506.55 829.46 506.06 829.96 505.63 830.46 505.26 830.96 504.94 831.46 504.66 831.96 504.43 832.46 504.24 832.96 504.08 833.46 503.96 833.96 503.87 834.46 503.82 834.96 503.8 835.46 503.8 835.96 503.8 836.46 503.81 836.96 503.81 837.46 503.82 837.96 503.83 838.46 503.84 838.96 503.86 839.46 503.87 839.96 503.89 840.46 503.91 840.96 503.93 841.46 503.95 841.96 503.97 842.46 504 842.96 504.02 843.46 504.05 843.96 504.08 844.46 504.11 844.96 504.15 845.46 504.18 845.96 504.22 846.46 504.25 846.96 504.29 847.46 504.33 847.96 504.37 848.46 504.42 848.96 504.46 849.46 504.51 849.96 504.55 850.46 504.6 850.96 504.65 851.46 504.7 851.96 504.75 852.46 504.81 852.96 504.86 853.46 504.92 853.96 504.97 854.46 505.03 854.96 505.09 855.46 505.15 855.96 505.21 856.46 505.27 856.96 505.33 857.46 505.4 857.96 505.46 858.46 505.53 858.96 505.6 859.46 505.66 859.96 505.73 860.46 505.8 860.96 505.87 861.46 505.96 861.96 506.06 862.46 506.17 862.96 506.31 863.46 506.46 863.96 506.62 864.46 506.81 864.96 507.01 865.46 507.22 865.96 507.45 866.46 507.69 866.96 507.95 867.46 508.22 867.96 508.51 868.46 508.8 868.96 509.11 869.46 509.43 869.96 509.75 870.46 510.09 870.96 510.43 871.46 510.78 871.96 511.13 872.46 511.49 872.96 511.84 873.46 512.2 873.96 512.56 874.46 512.91 874.96 513.26 875.46 513.6 875.96 513.94 876.46 514.26 876.96 514.56 877.46 514.85 877.96 515.12 878.46 515.36 878.96 515.56 879.46 515.72 879.96 515.8 880.46 515.71 880.96 515.53 881.46 515.3 881.96 515.04 882.46 514.74 882.96 514.43 883.46 514.1 883.96 513.75 884.46 513.39 884.96 513.03 885.46 512.66 885.96 512.28 886.46 511.91 886.96 511.53 887.46 511.16 887.96 510.79 888.46 510.43 888.96 510.08 889.46 509.73 889.96 509.39 890.46 509.07 890.96 508.75 891.46 508.45 891.96 508.16 892.46 507.89 892.96 507.63 893.46 507.38 893.96 507.16 894.46 506.95 894.96 506.75 895.46 506.58 895.96 506.42 896.46 506.28 896.96 506.15 897.46 506.05 897.96 505.96 898.46 505.89 898.96 505.84 899.46 505.81 899.96 505.8 900.46 505.81 900.96 505.83 901.46 505.86 901.96 505.91 902.46 505.97 902.96 506.04 903.46 506.13 903.96 506.23 904.46 506.34 904.96 506.46 905.46 506.59 905.96 506.74 906.46 506.89 906.96 507.05 907.46 507.23 907.96 507.41 908.46 507.6 908.96 507.79 909.46 508 909.96 508.21 910.46 508.42 910.96 508.64 911.46 508.86 911.96 509.08 912.46 509.31 912.96 509.53 913.46 509.75 913.96 509.98 914.46 510.19 914.96 510.41 915.46 510.61 915.96 510.81 916.46 511 916.96 511.18 917.46 511.34 917.96 511.48 918.46 511.61 918.96 511.71 919.46 511.77 919.96 511.8 920.46 511.76 920.96 511.65 921.46 511.5 921.96 511.31 922.46 511.1 922.96 510.86 923.46 510.61 923.96 510.34 924.46 510.07 924.96 509.78 925.46 509.49 925.96 509.2 926.46 508.9 926.96 508.6 927.46 508.3 927.96 508 928.46 507.71 928.96 507.41 929.46 507.13 929.96 506.85 930.46 506.58 930.96 506.32 931.46 506.07 931.96 505.83 932.46 505.6 932.96 505.38 933.46 505.17 933.96 504.98 934.46 504.8 934.96 504.63 935.46 504.48 935.96 504.34 936.46 504.22 936.96 504.11 937.46 504.02 937.96 503.94 938.46 503.88 938.96 503.84 939.46 503.81 939.96 503.8 940.46 503.81 940.96 503.84 941.46 503.88 941.96 503.95 942.46 504.03 942.96 504.13 943.46 504.25 943.96 504.39 944.46 504.55 944.96 504.72 945.46 504.91 945.96 505.12 946.46 505.34 946.96 505.58 947.46 505.84 947.96 506.11 948.46 506.4 948.96 506.7 949.46 507.01 949.96 507.33 950.46 507.67 950.96 508.01 951.46 508.37 951.96 508.73 952.46 509.1 952.96 509.47 953.46 509.84 953.96 510.22 954.46 510.59 954.96 510.96 955.46 511.33 955.96 511.69 956.46 512.03 956.96 512.37 957.46 512.69 957.96 512.99 958.46 513.26 958.96 513.5 959.46 513.69 959.96 513.53 960.46 513.14 960.96 512.71 961.46 512.25 961.96 511.77 962.46 511.28 962.96 510.78 963.46 510.28 963.96 509.78 964.46 509.29 964.96 508.81 965.46 508.34 965.96 507.89 966.46 507.46 966.96 507.05 967.46 506.66 967.96 506.29 968.46 505.95 968.96 505.63 969.46 505.34 969.96 505.07 970.46 504.83 970.96 504.62 971.46 504.43 971.96 504.26 972.46 504.12 972.96 504.01 973.46 503.92 973.96 503.85 974.46 503.81 974.96 503.8 975.46 503.81 975.96 503.85 976.46 503.92 976.96 504.02 977.46 504.14 977.96 504.3 978.46 501.45 978.96 500.18 979.46 499.37 979.96 498.77 980.46 498.29 980.96 497.91 981.46 497.6 981.96 497.34 982.46 497.15 982.96 496.99 983.46 496.89 983.96 496.82 984.46 496.8 984.96 496.82 985.46 496.87 985.96 496.97 986.46 497.12 986.96 497.31 987.46 497.55 987.96 497.85 988.46 498.23 988.96 498.69 989.46 499.27 989.96 500.05 990.46 501.26 990.96 502.69 991.46 503.27 991.96 504.05 992.46 505.12 992.96 505.31 993.46 505.55 993.96 505.85 994.46 506.12 L994.46 554.95 993.96 555.19 993.46 555.38 992.96 555.53 992.46 555.63 991.96 555.69 991.46 555.88 990.96 556.03 990.46 556.13 989.96 556.19 989.46 556.38 988.96 556.53 988.46 556.63 987.96 556.68 987.46 556.7 986.96 556.67 986.46 556.61 985.96 556.5 985.46 556.35 984.96 556.17 984.46 556.11 983.96 556 983.46 555.85 982.96 555.65 982.46 555.4 981.96 555.09 981.46 554.7 980.96 554.22 980.46 553.61 979.96 552.78 979.46 551.41 978.96 537.01 978.46 524.31 977.96 523.75 977.46 523.05 976.96 522.13 976.46 520.88 975.96 519.26 975.46 517.94 974.96 517.3 974.46 516.93 973.96 517.37 973.46 517.84 972.96 518.32 972.46 518.81 971.96 519.31 971.46 519.81 970.96 520.31 970.46 520.8 969.96 521.27 969.46 521.74 968.96 522.19 968.46 522.61 967.96 523.02 967.46 523.41 966.96 523.77 966.46 524.11 965.96 524.42 965.46 524.71 964.96 524.97 964.46 525.21 963.96 525.42 963.46 525.6 962.96 525.76 962.46 525.9 961.96 526.01 961.46 526.09 960.96 526.15 960.46 526.19 959.96 526.2 959.46 526.19 958.96 526.16 958.46 526.11 957.96 526.04 957.46 525.95 956.96 525.85 956.46 525.72 955.96 525.58 955.46 525.42 954.96 525.25 954.46 525.05 953.96 524.84 953.46 524.62 952.96 524.37 952.46 524.11 951.96 523.84 951.46 523.55 950.96 523.25 950.46 522.93 949.96 522.61 949.46 522.27 948.96 521.92 948.46 521.57 947.96 521.21 947.46 520.84 946.96 520.47 946.46 520.09 945.96 519.72 945.46 519.34 944.96 518.97 944.46 518.61 943.96 518.25 943.46 517.9 942.96 517.57 942.46 517.26 941.96 516.96 941.46 516.7 940.96 516.47 940.46 516.29 939.96 516.2 939.46 516.26 938.96 516.37 938.46 516.53 937.96 516.73 937.46 516.94 936.96 517.18 936.46 517.44 935.96 517.7 935.46 517.98 934.96 518.27 934.46 518.56 933.96 518.86 933.46 519.16 932.96 519.46 932.46 519.76 931.96 520.05 931.46 520.35 930.96 520.64 930.46 520.92 929.96 521.2 929.46 521.47 928.96 521.73 928.46 521.98 927.96 522.22 927.46 522.44 926.96 522.66 926.46 522.87 925.96 523.06 925.46 523.23 924.96 523.4 924.46 523.55 923.96 523.68 923.46 523.8 922.96 523.91 922.46 524 921.96 524.07 921.46 524.13 920.96 524.17 920.46 524.19 919.96 524.2 919.46 524.19 918.96 524.17 918.46 524.13 917.96 524.08 917.46 524.02 916.96 523.94 916.46 523.85 915.96 523.75 915.46 523.64 914.96 523.52 914.46 523.38 913.96 523.24 913.46 523.08 912.96 522.92 912.46 522.74 911.96 522.56 911.46 522.37 910.96 522.17 910.46 521.97 909.96 521.76 909.46 521.54 908.96 521.32 908.46 521.1 907.96 520.88 907.46 520.65 906.96 520.43 906.46 520.21 905.96 519.98 905.46 519.77 904.96 519.55 904.46 519.35 903.96 519.15 903.46 518.97 902.96 518.79 902.46 518.63 901.96 518.49 901.46 518.37 900.96 518.28 900.46 518.22 899.96 518.2 899.46 518.31 898.96 518.5 898.46 518.74 897.96 519.01 897.46 519.31 896.96 519.63 896.46 519.97 895.96 520.31 895.46 520.67 894.96 521.04 894.46 521.41 893.96 521.78 893.46 522.16 892.96 522.53 892.46 522.9 891.96 523.27 891.46 523.63 890.96 523.99 890.46 524.33 889.96 524.67 889.46 524.99 888.96 525.3 888.46 525.6 887.96 525.89 887.46 526.16 886.96 526.42 886.46 526.66 885.96 526.88 885.46 527.09 884.96 527.28 884.46 527.45 883.96 527.61 883.46 527.75 882.96 527.87 882.46 527.97 881.96 528.05 881.46 528.12 880.96 528.16 880.46 528.19 879.96 528.2 879.46 528.19 878.96 528.16 878.46 528.11 877.96 528.05 877.46 527.97 876.96 527.87 876.46 527.75 875.96 527.62 875.46 527.47 874.96 527.3 874.46 527.12 873.96 526.92 873.46 526.7 872.96 526.48 872.46 526.23 871.96 525.97 871.46 525.7 870.96 525.42 870.46 525.12 869.96 524.82 869.46 524.5 868.96 524.17 868.46 523.84 867.96 523.5 867.46 523.15 866.96 522.8 866.46 522.44 865.96 522.08 865.46 521.73 864.96 521.37 864.46 521.01 863.96 520.67 863.46 520.32 862.96 519.99 862.46 519.67 861.96 519.36 861.46 519.07 860.96 518.81 860.46 518.57 859.96 518.36 859.46 518.2 858.96 518.11 858.46 518.04 857.96 517.97 857.46 517.91 856.96 517.84 856.46 517.77 855.96 517.71 855.46 517.64 854.96 517.58 854.46 517.52 853.96 517.46 853.46 517.4 852.96 517.34 852.46 517.28 851.96 517.22 851.46 517.17 850.96 517.12 850.46 517.06 849.96 517.01 849.46 516.96 848.96 516.91 848.46 516.87 847.96 516.82 847.46 516.78 846.96 516.73 846.46 516.69 845.96 516.65 845.46 516.61 844.96 516.58 844.46 516.54 843.96 516.51 843.46 516.48 842.96 516.44 842.46 516.42 841.96 516.39 841.46 516.36 840.96 516.34 840.46 516.32 839.96 516.3 839.46 516.28 838.96 516.26 838.46 516.25 837.96 516.24 837.46 516.22 836.96 516.8 836.46 517.89 835.96 519.1 835.46 520.39 834.96 521.75 834.46 523.17 833.96 524.64 833.46 526.15 832.96 527.67 832.46 529.21 831.96 530.75 831.46 532.27 830.96 533.78 830.46 535.26 829.96 536.7 829.46 538.08 828.96 539.41 828.46 540.68 827.96 541.87 827.46 542.98 826.96 544.12 826.46 545.28 825.96 546.46 825.46 547.65 824.96 548.85 824.46 550.05 823.96 551.24 823.46 552.41 822.96 553.57 822.46 554.69 821.96 555.78 821.46 556.83 820.96 557.84 820.46 558.8 819.96 559.7 819.46 560.54 818.96 561.33 818.46 562.06 817.96 562.73 817.46 563.36 816.96 563.99 816.46 564.63 815.96 565.25 815.46 565.87 814.96 566.48 814.46 567.07 813.96 567.65 813.46 568.19 812.96 568.72 812.46 569.22 811.96 569.69 811.46 570.13 810.96 570.54 810.46 570.92 809.96 571.27 809.46 571.59 808.96 571.87 808.46 572.13 807.96 572.36 807.46 572.56 806.96 572.73 806.46 572.88 805.96 573 805.46 573.09 804.96 573.15 804.46 573.19 803.96 573.2 803.46 573.18 802.96 573.13 802.46 573.05 801.96 572.93 801.46 572.78 800.96 572.6 800.46 572.38 799.96 572.12 799.46 571.81 798.96 571.47 798.46 571.07 797.96 570.63 797.46 570.12 796.96 569.56 796.46 568.94 795.96 568.25 795.46 567.49 794.96 566.66 794.46 565.76 793.96 564.8 793.46 563.78 792.96 562.7 792.46 561.56 791.96 560.38 791.46 559.16 790.96 557.9 790.46 556.62 789.96 555.32 789.46 554.01 788.96 552.7 788.46 551.39 787.96 550.1 787.46 548.83 786.96 547.56 786.46 546.13 785.96 544.56 785.46 542.85 784.96 541.01 784.46 539.08 783.96 537.06 783.46 535 782.96 532.91 782.46 530.83 781.96 528.77 781.46 526.76 780.96 524.84 780.46 523.03 779.96 521.37 779.46 519.89 778.96 518.68 778.46 517.88 777.96 517.3 777.46 516.82 776.96 516.39 776.46 515.97 775.96 515.54 775.46 515.09 774.96 514.62 774.46 514.12 773.96 513.57 773.46 512.99 772.96 512.34 772.46 511.61 771.96 510.77 771.46 510.59 770.96 511.25 770.46 511.98 769.96 512.74 769.46 513.51 768.96 514.33 768.46 515.21 767.96 516.13 767.46 517.06 766.96 518.01 766.46 518.97 765.96 519.96 765.46 520.98 764.96 522.01 764.46 523.05 763.96 524.08 763.46 525.11 762.96 526.16 762.46 527.21 761.96 528.26 761.46 529.31 760.96 530.34 760.46 531.36 759.96 532.38 759.46 533.4 758.96 534.41 758.46 535.41 757.96 536.41 757.46 537.39 756.96 538.38 756.46 539.35 755.96 540.31 755.46 541.27 754.96 542.22 754.46 543.16 753.96 544.09 753.46 545.01 752.96 545.92 752.46 546.82 751.96 547.72 751.46 548.6 750.96 549.47 750.46 550.34 749.96 551.19 749.46 552.03 748.96 552.86 748.46 553.68 747.96 554.49 747.46 555.29 746.96 556.07 746.46 556.85 745.96 557.61 745.46 558.35 744.96 559.09 744.46 559.82 743.96 560.53 743.46 561.23 742.96 561.92 742.46 562.59 741.96 563.24 741.46 563.89 740.96 564.52 740.46 565.14 739.96 565.75 739.46 566.34 738.96 566.91 738.46 567.47 737.96 568.02 737.46 568.56 736.96 569.08 736.46 569.58 735.96 570.07 735.46 570.54 734.96 571 734.46 571.45 733.96 571.88 733.46 572.3 732.96 572.7 732.46 573.08 731.96 573.44 731.46 573.8 730.96 574.14 730.46 574.47 729.96 574.78 729.46 575.08 728.96 575.36 728.46 575.62 727.96 575.86 727.46 576.1 726.96 576.32 726.46 576.54 725.96 576.74 725.46 576.92 724.96 577.08 724.46 577.23 723.96 577.35 723.46 577.45 722.96 577.54 722.46 577.63 721.96 577.71 721.46 577.78 720.96 577.83 720.46 577.87 719.96 577.89 719.46 577.9 718.96 577.89 718.46 577.87 717.96 577.83 717.46 577.77 716.96 577.71 716.46 577.63 715.96 577.55 715.46 577.47 714.96 577.37 714.46 577.26 713.96 577.12 713.46 576.98 712.96 576.81 712.46 576.63 711.96 576.45 711.46 576.25 710.96 576.06 710.46 575.85 709.96 575.63 709.46 575.39 708.96 575.14 708.46 574.88 707.96 574.62 707.46 574.35 706.96 574.08 706.46 573.79 705.96 573.49 705.46 573.18 704.96 572.87 704.46 572.55 703.96 572.23 703.46 571.9 702.96 571.56 702.46 571.22 701.96 570.87 701.46 570.52 700.96 570.16 700.46 569.8 699.96 569.44 699.46 569.07 698.96 568.69 698.46 568.3 697.96 567.91 697.46 567.5 696.96 567.09 696.46 566.66 695.96 566.22 695.46 565.78 694.96 565.32 694.46 564.84 693.96 564.35 693.46 563.84 692.96 563.32 692.46 562.78 691.96 562.22 691.46 561.64 690.96 561.05 690.46 560.43 689.96 559.79 689.46 559.13 688.96 558.45 688.46 557.74 687.96 557.01 687.46 556.27 686.96 555.5 686.46 554.71 685.96 553.89 685.46 553.05 684.96 552.19 684.46 551.32 683.96 550.43 683.46 549.52 682.96 548.59 682.46 547.65 681.96 546.68 681.46 545.71 680.96 544.72 680.46 543.72 679.96 542.71 679.46 541.68 678.96 540.64 678.46 539.59 677.96 538.53 677.46 537.47 676.96 536.39 676.46 535.31 675.96 534.23 675.46 533.15 674.96 532.06 674.46 530.97 673.96 529.87 673.46 528.77 672.96 527.66 672.46 526.55 671.96 525.45 671.46 524.36 670.96 523.26 670.46 522.15 669.96 521.03 669.46 519.92 668.96 518.82 668.46 517.71 667.96 516.59 667.46 515.46 666.96 514.35 666.46 513.23 665.96 512.09 665.46 510.96 664.96 509.84 664.46 508.69 663.96 507.54 663.46 506.41 662.96 505.25 662.46 504.08 661.96 502.94 661.46 501.76 660.96 500.58 660.46 499.42 659.96 498.21 659.46 497.04 658.96 495.83 658.46 494.62 657.96 493.43 657.46 492.18 656.96 490.99 656.46 489.72 655.96 488.51 655.46 487.24 654.96 486 654.46 484.73 653.96 483.46 653.46 482.17 652.96 480.89 652.46 479.57 651.96 478.28 651.46 476.94 650.96 475.64 650.46 474.25 649.96 472.95 649.46 471.54 648.96 470.2 648.46 468.81 647.96 467.42 647.46 466.05 646.96 464.6 646.46 463.25 645.96 461.81 645.46 460.4 644.96 459.02 644.46 457.57 643.96 456.24 643.46 454.84 642.96 453.44 642.46 452.11 641.96 450.71 641.46 449.38 640.96 448.07 640.46 446.7 639.96 445.4 639.46 444.12 638.96 442.8 638.46 441.5 637.96 440.25 637.46 438.97 636.96 437.66 636.46 436.45 635.96 435.21 635.46 433.94 634.96 432.69 634.46 431.49 633.96 430.28 633.46 429.04 632.96 427.79 632.46 426.61 631.96 425.43 631.46 424.22 630.96 423 630.46 421.79 629.96 420.63 629.46 419.46 628.96 418.28 628.46 417.08 627.96 415.87 627.46 414.69 626.96 413.54 626.46 412.38 625.96 411.21 625.46 410.04 624.96 408.85 624.46 407.66 623.96 406.46 623.46 405.28 622.96 404.12 622.46 402.96 621.96 401.79 621.46 400.61 620.96 399.43 620.46 398.25 619.96 397.06 619.46 395.87 618.96 394.67 618.46 393.46 617.96 392.25 617.46 391.04 616.96 389.82 616.46 388.6 615.96 387.37 615.46 386.14 614.96 384.91 614.46 383.68 613.96 382.44 613.46 381.19 612.96 379.95 612.46 378.7 611.96 377.45 611.46 376.19 610.96 374.93 610.46 373.67 609.96 372.4 609.46 371.12 608.96 369.84 608.46 368.56 607.96 367.27 607.46 365.97 606.96 364.66 606.46 363.35 605.96 362.07 605.46 360.83 604.96 359.57 604.46 358.3 603.96 357.02 603.46 355.72 602.96 354.41 602.46 353.09 601.96 351.76 601.46 350.45 600.96 349.24 600.46 347.98 599.96 346.7 599.46 345.4 598.96 344.08 598.46 342.74 597.96 341.46 597.46 340.25 596.96 339 596.46 337.7 595.96 336.39 595.46 335.04 594.96 333.81 594.46 332.61 593.96 331.35 593.46 330.05 592.96 328.72 592.46 327.48 591.96 326.3 591.46 325.05 590.96 323.76 590.46 322.43 589.96 321.29 589.46 320.09 588.96 318.83 588.46 317.52 587.96 316.35 587.46 315.19 586.96 313.95 586.46 312.65 585.96 311.5 585.46 310.35 584.96 309.11 584.46 307.82 583.96 306.73 583.46 305.57 582.96 304.32 582.46 303.1 581.96 302.03 581.46 300.83 580.96 299.54 580.46 298.5 579.96 297.35 579.46 296.09 578.96 295 578.46 293.89 577.96 292.66 577.46 291.53 576.96 290.46 576.46 289.24 575.96 288.11 575.46 287.06 574.96 285.84 574.46 284.74 573.96 283.68 573.46 282.46 572.96 281.42 572.46 280.33 571.96 279.09 571.46 278.12 570.96 276.99 570.46 275.78 569.96 274.84 569.46 273.66 568.96 272.6 568.46 271.56 567.96 270.33 567.46 269.4 566.96 268.27 566.46 267.18 565.96 266.18 565.46 264.96 564.96 264.05 564.46 262.92 563.96 261.88 563.46 260.86 562.96 259.64 562.46 258.77 561.96 257.61 561.46 256.67 560.96 255.58 560.46 254.53 559.96 253.54 559.46 252.37 558.96 251.49 558.46 250.3 557.96 249.44 557.46 248.3 556.96 247.38 556.46 246.3 555.96 245.32 555.46 244.29 554.96 243.26 554.46 242.29 553.96 241.21 553.46 240.29 552.96 239.16 552.46 238.3 551.96 237.13 551.46 236.32 550.96 235.12 550.46 234.34 549.96 233.13Z" fill="#008000"/>
<path d="M138 15.92L187.72 16.68M202.92 16.96L225.69 17.44M240.89 17.69L252.63 17.82M267.83 18.2L273.54 18.41M288.72 19.15L290.62 19.26" stroke="#800080" stroke-width="3.3" fill="none"/>
<path d="M124.65 15.8a5.75 5.75 0 1 0 11.5 0a5.75 5.75 0 1 0 -11.5 0M189.57 16.8a5.75 5.75 0 1 0 11.5 0a5.75 5.75 0 1 0 -11.5 0M227.54 17.6a5.75 5.75 0 1 0 11.5 0a5.75 5.75 0 1 0 -11.5 0M254.48 17.9a5.75 5.75 0 1 0 11.5 0a5.75 5.75 0 1 0 -11.5 0M275.38 18.71a5.75 5.75 0 1 0 11.5 0a5.75 5.75 0 1 0 -11.5 0M292.46 19.71a5.75 5.75 0 1 0 11.5 0a5.75 5.75 0 1 0 -11.5 0M306.9 20.31a5.75 5.75 0 1 0 11.5 0a5.75 5.75 0 1 0 -11.5 0M319.4 21.01a5.75 5.75 0 1 0 11.5 0a5.75 5.75 0 1 0 -11.5 0M330.43 21.81a5.75 5.75 0 1 0 11.5 0a5.75 5.75 0 1 0 -11.5 0M340.3 22.01a5.75 5.75 0 1 0 11.5 0a5.75 5.75 0 1 0 -11.5 0M349.23 23.01a5.75 5.75 0 1 0 11.5 0a5.75 5.75 0 1 0 -11.5 0M357.38 23.93a5.75 5.75 0 1 0 11.5 0a5.75 5.75 0 1 0 -11.5 0M364.87 24.79a5.75 5.75 0 1 0 11.5 0a5.75 5.75 0 1 0 -11.5 0M371.81 25.62a5.75 5.75 0 1 0 11.5 0a5.75 5.75 0 1 0 -11.5 0M378.27 26.43a5.75 5.75 0 1 0 11.5 0a5.75 5.75 0 1 0 -11.5 0M384.32 27.21a5.75 5.75 0 1 0 11.5 0a5.75 5.75 0 1 0 -11.5 0M390 27.97a5.75 5.75 0 1 0 11.5 0a5.75 5.75 0 1 0 -11.5 0M395.35 28.73a5.75 5.75 0 1 0 11.5 0a5.75 5.75 0 1 0 -11.5 0M400.41 29.47a5.75 5.75 0 1 0 11.5 0a5.75 5.75 0 1 0 -11.5 0M405.22 30.21a5.75 5.75 0 1 0 11.5 0a5.75 5.75 0 1 0 -11.5 0M409.79 30.94a5.75 5.75 0 1 0 11.5 0a5.75 5.75 0 1 0 -11.5 0M414.14 31.66a5.75 5.75 0 1 0 11.5 0a5.75 5.75 0 1 0 -11.5 0M418.31 32.39a5.75 5.75 0 1 0 11.5 0a5.75 5.75 0 1 0 -11.5 0M422.29 33.1a5.75 5.75 0 1 0 11.5 0a5.75 5.75 0 1 0 -11.5 0M426.12 33.82a5.75 5.75 0 1 0 11.5 0a5.75 5.75 0 1 0 -11.5 0M429.79 34.53a5.75 5.75 0 1 0 11.5 0a5.75 5.75 0 1 0 -11.5 0M433.32 35.24a5.75 5.75 0 1 0 11.5 0a5.75 5.75 0 1 0 -11.5 0M436.73 35.95a5.75 5.75 0 1 0 11.5 0a5.75 5.75 0 1 0 -11.5 0M440.02 36.66a5.75 5.75 0 1 0 11.5 0a5.75 5.75 0 1 0 -11.5 0M443.19 37.36a5.75 5.75 0 1 0 11.5 0a5.75 5.75 0 1 0 -11.5 0M446.26 38.06a5.75 5.75 0 1 0 11.5 0a5.75 5.75 0 1 0 -11.5 0M449.24 38.76a5.75 5.75 0 1 0 11.5 0a5.75 5.75 0 1 0 -11.5 0M452.12 39.46a5.75 5.75 0 1 0 11.5 0a5.75 5.75 0 1 0 -11.5 0M454.91 40.16a5.75 5.75 0 1 0 11.5 0a5.75 5.75 0 1 0 -11.5 0M457.63 40.86a5.75 5.75 0 1 0 11.5 0a5.75 5.75 0 1 0 -11.5 0M460.27 41.55a5.75 5.75 0 1 0 11.5 0a5.75 5.75 0 1 0 -11.5 0M462.83 42.24a5.75 5.75 0 1 0 11.5 0a5.75 5.75 0 1 0 -11.5 0M465.33 42.93a5.75 5.75 0 1 0 11.5 0a5.75 5.75 0 1 0 -11.5 0M467.76 43.62a5.75 5.75 0 1 0 11.5 0a5.75 5.75 0 1 0 -11.5 0M470.13 44.31a5.75 5.75 0 1 0 11.5 0a5.75 5.75 0 1 0 -11.5 0M472.45 44.99a5.75 5.75 0 1 0 11.5 0a5.75 5.75 0 1 0 -11.5 0M474.7 45.67a5.75 5.75 0 1 0 11.5 0a5.75 5.75 0 1 0 -11.5 0M476.91 46.35a5.75 5.75 0 1 0 11.5 0a5.75 5.75 0 1 0 -11.5 0M479.06 47.03a5.75 5.75 0 1 0 11.5 0a5.75 5.75 0 1 0 -11.5 0M481.17 47.71a5.75 5.75 0 1 0 11.5 0a5.75 5.75 0 1 0 -11.5 0M483.22 48.38a5.75 5.75 0 1 0 11.5 0a5.75 5.75 0 1 0 -11.5 0M485.24 49.06a5.75 5.75 0 1 0 11.5 0a5.75 5.75 0 1 0 -11.5 0M487.21 49.73a5.75 5.75 0 1 0 11.5 0a5.75 5.75 0 1 0 -11.5 0M489.14 50.4a5.75 5.75 0 1 0 11.5 0a5.75 5.75 0 1 0 -11.5 0M491.03 51.07a5.75 5.75 0 1 0 11.5 0a5.75 5.75 0 1 0 -11.5 0M492.89 51.73a5.75 5.75 0 1 0 11.5 0a5.75 5.75 0 1 0 -11.5 0M494.71 52.39a5.75 5.75 0 1 0 11.5 0a5.75 5.75 0 1 0 -11.5 0M496.49 53.06a5.75 5.75 0 1 0 11.5 0a5.75 5.75 0 1 0 -11.5 0M498.24 53.72a5.75 5.75 0 1 0 11.5 0a5.75 5.75 0 1 0 -11.5 0M499.96 54.37a5.75 5.75 0 1 0 11.5 0a5.75 5.75 0 1 0 -11.5 0M501.65 55.03a5.75 5.75 0 1 0 11.5 0a5.75 5.75 0 1 0 -11.5 0M503.3 55.68a5.75 5.75 0 1 0 11.5 0a5.75 5.75 0 1 0 -11.5 0M504.93 56.33a5.75 5.75 0 1 0 11.5 0a5.75 5.75 0 1 0 -11.5 0M506.53 56.98a5.75 5.75 0 1 0 11.5 0a5.75 5.75 0 1 0 -11.5 0M508.11 57.63a5.75 5.75 0 1 0 11.5 0a5.75 5.75 0 1 0 -11.5 0M509.66 58.28a5.75 5.75 0 1 0 11.5 0a5.75 5.75 0 1 0 -11.5 0M511.18 58.92a5.75 5.75 0 1 0 11.5 0a5.75 5.75 0 1 0 -11.5 0M512.68 59.57a5.75 5.75 0 1 0 11.5 0a5.75 5.75 0 1 0 -11.5 0M514.15 60.21a5.75 5.75 0 1 0 11.5 0a5.75 5.75 0 1 0 -11.5 0M515.6 60.85a5.75 5.75 0 1 0 11.5 0a5.75 5.75 0 1 0 -11.5 0M517.03 61.48a5.75 5.75 0 1 0 11.5 0a5.75 5.75 0 1 0 -11.5 0M518.44 62.12a5.75 5.75 0 1 0 11.5 0a5.75 5.75 0 1 0 -11.5 0M519.83 62.76a5.75 5.75 0 1 0 11.5 0a5.75 5.75 0 1 0 -11.5 0M521.2 63.39a5.75 5.75 0 1 0 11.5 0a5.75 5.75 0 1 0 -11.5 0M522.55 64.02a5.75 5.75 0 1 0 11.5 0a5.75 5.75 0 1 0 -11.5 0M523.87 64.65a5.75 5.75 0 1 0 11.5 0a5.75 5.75 0 1 0 -11.5 0M525.18 65.28a5.75 5.75 0 1 0 11.5 0a5.75 5.75 0 1 0 -11.5 0M526.48 65.91a5.75 5.75 0 1 0 11.5 0a5.75 5.75 0 1 0 -11.5 0M527.75 66.54a5.75 5.75 0 1 0 11.5 0a5.75 5.75 0 1 0 -11.5 0M529.01 67.17a5.75 5.75 0 1 0 11.5 0a5.75 5.75 0 1 0 -11.5 0M530.25 67.79a5.75 5.75 0 1 0 11.5 0a5.75 5.75 0 1 0 -11.5 0M531.47 68.41a5.75 5.75 0 1 0 11.5 0a5.75 5.75 0 1 0 -11.5 0M532.68 69.04a5.75 5.75 0 1 0 11.5 0a5.75 5.75 0 1 0 -11.5 0M533.87 69.66a5.75 5.75 0 1 0 11.5 0a5.75 5.75 0 1 0 -11.5 0M535.05 70.28a5.75 5.75 0 1 0 11.5 0a5.75 5.75 0 1 0 -11.5 0M536.21 70.9a5.75 5.75 0 1 0 11.5 0a5.75 5.75 0 1 0 -11.5 0M537.36 71.51a5.75 5.75 0 1 0 11.5 0a5.75 5.75 0 1 0 -11.5 0M538.5 72.13a5.75 5.75 0 1 0 11.5 0a5.75 5.75 0 1 0 -11.5 0M539.62 72.75a5.75 5.75 0 1 0 11.5 0a5.75 5.75 0 1 0 -11.5 0M540.73 73.36a5.75 5.75 0 1 0 11.5 0a5.75 5.75 0 1 0 -11.5 0M541.82 73.97a5.75 5.75 0 1 0 11.5 0a5.75 5.75 0 1 0 -11.5 0M542.91 74.59a5.75 5.75 0 1 0 11.5 0a5.75 5.75 0 1 0 -11.5 0M543.98 75.2a5.75 5.75 0 1 0 11.5 0a5.75 5.75 0 1 0 -11.5 0M545.04 75.81a5.75 5.75 0 1 0 11.5 0a5.75 5.75 0 1 0 -11.5 0M546.08 76.42a5.75 5.75 0 1 0 11.5 0a5.75 5.75 0 1 0 -11.5 0M547.12 77.02a5.75 5.75 0 1 0 11.5 0a5.75 5.75 0 1 0 -11.5 0M548.14 77.63a5.75 5.75 0 1 0 11.5 0a5.75 5.75 0 1 0 -11.5 0M549.15 78.23a5.75 5.75 0 1 0 11.5 0a5.75 5.75 0 1 0 -11.5 0M550.16 78.84a5.75 5.75 0 1 0 11.5 0a5.75 5.75 0 1 0 -11.5 0" fill="#800080"/>
<path d="M549.96 77.1 550.46 75.88 550.96 75.11 551.46 74.52 551.96 74.06 552.46 73.69 552.96 73.39 553.46 73.14 553.96 72.95 554.46 72.81 554.96 72.71 555.46 72.66 555.96 72.64 556.46 72.66 556.96 72.73 557.46 72.84 557.96 72.99 558.46 73.19 558.96 73.44 559.46 73.76 559.96 74.05 560.46 74.37 560.96 74.66 561.46 74.98 561.96 75.28 562.46 75.6 562.96 75.9 563.46 76.23 563.96 76.53 564.46 76.87 564.96 77.17 565.46 77.51 565.96 77.81 566.46 78.16 566.96 78.45 567.46 78.8 567.96 79.1 568.46 79.45 568.96 79.76 569.46 80.1 569.96 80.43 570.46 80.76 570.96 81.11 571.46 81.43 571.96 81.79 572.46 82.11 572.96 82.46 573.46 82.79 573.96 83.14 574.46 83.49 574.96 83.82 575.46 84.2 575.96 84.52 576.46 84.88 576.96 85.23 577.46 85.58 577.96 85.96 578.46 86.29 578.96 86.66 579.46 87.02 579.96 87.37 580.46 87.76 580.96 88.1 581.46 88.47 581.96 88.85 582.46 89.2 582.96 89.59 583.46 89.95 583.96 90.32 584.46 90.72 584.96 91.08 585.46 91.46 585.96 91.85 586.46 92.22 586.96 92.6 587.46 93 587.96 93.37 588.46 93.76 588.96 94.17 589.46 94.54 589.96 94.94 590.46 95.35 590.96 95.72 591.46 96.12 591.96 96.54 592.46 96.93 592.96 97.32 593.46 97.74 593.96 98.14 594.46 98.54 594.96 98.96 595.46 99.38 595.96 99.78 596.46 100.19 596.96 100.62 597.46 101.04 597.96 101.45 598.46 101.87 598.96 102.3 599.46 102.72 599.96 103.14 600.46 103.57 600.96 104.01 601.46 104.44 601.96 104.86 602.46 105.3 602.96 105.74 603.46 106.19 603.96 106.62 604.46 107.06 604.96 107.5 605.46 107.95 605.96 108.41 606.46 108.85 606.96 109.29 607.46 109.75 607.96 110.2 608.46 110.67 608.96 111.12 609.46 111.58 609.96 112.04 610.46 112.5 610.96 112.97 611.46 113.44 611.96 113.91 612.46 114.38 612.96 114.85 613.46 115.32 613.96 115.8 614.46 116.28 614.96 116.76 615.46 117.25 615.96 117.73 616.46 118.21 616.96 118.7 617.46 119.18 617.96 119.67 618.46 120.17 618.96 120.66 619.46 121.16 619.96 121.66 620.46 122.17 620.96 122.67 621.46 123.18 621.96 123.69 622.46 124.2 622.96 124.71 623.46 125.22 623.96 125.73 624.46 126.25 624.96 126.76 625.46 127.28 625.96 127.81 626.46 128.33 626.96 128.86 627.46 129.38 627.96 129.92 628.46 130.45 628.96 130.98 629.46 131.52 629.96 132.06 630.46 132.6 630.96 133.15 631.46 133.69 631.96 134.23 632.46 134.78 632.96 135.33 633.46 135.88 633.96 136.43 634.46 136.99 634.96 137.55 635.46 138.11 635.96 138.67 636.46 139.24 636.96 139.81 637.46 140.38 637.96 140.95 638.46 141.52 638.96 142.09 639.46 142.67 639.96 143.25 640.46 143.84 640.96 144.42 641.46 145 641.96 145.59 642.46 146.18 642.96 146.78 643.46 147.38 643.96 147.97 644.46 148.56 644.96 149.16 645.46 149.77 645.96 150.38 646.46 150.98 646.96 151.59 647.46 152.21 647.96 152.82 648.46 153.43 648.96 154.05 649.46 154.68 649.96 155.3 650.46 155.92 650.96 156.55 651.46 157.18 651.96 157.81 652.46 158.44 652.96 159.09 653.46 159.72 653.96 160.36 654.46 161.01 654.96 161.65 655.46 162.3 655.96 162.95 656.46 163.6 656.96 164.26 657.46 164.91 657.96 165.57 658.46 166.24 658.96 166.89 659.46 167.56 659.96 168.23 660.46 168.9 660.96 169.58 661.46 170.25 661.96 170.93 662.46 171.6 662.96 172.3 663.46 172.97 663.96 173.67 664.46 174.35 664.96 175.05 665.46 175.73 665.96 176.44 666.46 177.13 666.96 177.84 667.46 178.53 667.96 179.24 668.46 179.95 668.96 180.66 669.46 181.37 669.96 182.09 670.46 182.81 670.96 183.52 671.46 184.25 671.96 184.98 672.46 185.7 672.96 186.44 673.46 187.16 673.96 187.9 674.46 188.64 674.96 189.37 675.46 190.11 675.96 190.86 676.46 191.61 676.96 192.35 677.46 193.11 677.96 193.87 678.46 194.62 678.96 195.37 679.46 196.14 679.96 196.91 680.46 197.67 680.96 198.43 681.46 199.21 681.96 199.98 682.46 200.76 682.96 201.53 683.46 202.31 683.96 203.1 684.46 203.88 684.96 204.67 685.46 205.47 685.96 206.26 686.46 207.05 686.96 207.84 687.46 208.64 687.96 209.45 688.46 210.25 688.96 211.06 689.46 211.87 689.96 212.68 690.46 213.5 690.96 214.31 691.46 215.13 691.96 215.96 692.46 216.78 692.96 217.61 693.46 218.44 693.96 219.27 694.46 220.1 694.96 220.94 695.46 221.78 695.96 222.62 696.46 223.46 696.96 224.31 697.46 225.16 697.96 226.01 698.46 226.86 698.96 227.72 699.46 228.58 699.96 229.44 700.46 230.31 700.96 231.17 701.46 232.04 701.96 232.91 702.46 233.79 702.96 234.66 703.46 235.54 703.96 236.42 704.46 237.31 704.96 238.19 705.46 239.08 705.96 239.98 706.46 240.87 706.96 241.76 707.46 242.67 707.96 243.56 708.46 244.47 708.96 245.37 709.46 246.28 709.96 247.2 710.46 248.1 710.96 249.03 711.46 249.94 711.96 250.86 712.46 251.79 712.96 252.71 713.46 253.64 713.96 254.58 714.46 255.51 714.96 256.45 715.46 257.38 715.96 258.33 716.46 259.27 716.96 260.21 717.46 261.17 717.96 262.11 718.46 263.07 718.96 264.03 719.46 264.98 719.96 265.95 720.46 266.91 720.96 267.88 721.46 268.85 721.96 269.82 722.46 270.8 722.96 271.77 723.46 272.75 723.96 273.73 724.46 274.72 724.96 275.7 725.46 276.7 725.96 277.69 726.46 278.68 726.96 279.68 727.46 280.68 727.96 281.68 728.46 282.68 728.96 283.69 729.46 284.7 729.96 285.72 730.46 286.73 730.96 287.75 731.46 288.77 731.96 289.79 732.46 290.82 732.96 291.85 733.46 292.88 733.96 293.91 734.46 294.95 734.96 295.98 735.46 297.03 735.96 298.08 736.46 299.12 736.96 300.16 737.46 301.22 737.96 302.28 738.46 303.33 738.96 304.39 739.46 305.45 739.96 306.51 740.46 307.58 740.96 308.65 741.46 309.72 741.96 310.8 742.46 311.87 742.96 312.96 743.46 314.04 743.96 315.12 744.46 316.21 744.96 317.3 745.46 318.39 745.96 319.49 746.46 320.59 746.96 321.69 747.46 322.79 747.96 323.9 748.46 325.01 748.96 326.12 749.46 327.23 749.96 328.35 750.46 329.47 750.96 330.59 751.46 331.71 751.96 332.84 752.46 333.98 752.96 335.11 753.46 336.24 753.96 337.38 754.46 338.52 754.96 339.66 755.46 340.81 755.96 341.95 756.46 343.11 756.96 344.26 757.46 345.42 757.96 346.57 758.46 347.74 758.96 348.9 759.46 350.07 759.96 351.24 760.46 352.41 760.96 353.58 761.46 354.76 761.96 355.94 762.46 357.13 762.96 358.31 763.46 359.5 763.96 360.69 764.46 361.88 764.96 363.08 765.46 364.28 765.96 365.48 766.46 366.68 766.96 367.89 767.46 369.1 767.96 370.31 768.46 371.53 768.96 372.74 769.46 373.97 769.96 375.19 770.46 376.41 770.96 377.64 771.46 378.87 771.96 380.11 772.46 381.34 772.96 382.58 773.46 383.82 773.96 385.07 774.46 386.31 774.96 387.57 775.46 388.82 775.96 390.07 776.46 391.33 776.96 392.59 777.46 393.86 777.96 395.12 778.46 396.39 778.96 397.66 779.46 398.94 779.96 400.21 780.46 401.49 780.96 402.77 781.46 404.06 781.96 405.35 782.46 406.64 782.96 407.93 783.46 409.23 783.96 410.52 784.46 411.83 784.96 413.13 785.46 414.44 785.96 415.75 786.46 417.06 786.96 418.38 787.46 419.69 787.96 421.01 788.46 422.34 788.96 423.66 789.46 424.99 789.96 426.32 790.46 427.66 790.96 428.99 791.46 430.33 791.96 431.68 792.46 433.02 792.96 434.37 793.46 435.73 793.96 437.09 794.46 438.46 794.96 439.82 795.46 441.17 795.96 442.5 796.46 443.82 796.96 445.13 797.46 446.43 797.96 447.73 798.46 449.01 798.96 450.3 799.46 451.58 799.96 452.85 800.46 454.12 800.96 455.39 801.46 456.66 801.96 457.93 802.46 459.2 802.96 460.48 803.46 461.75 803.96 463.03 804.46 464.32 804.96 465.61 805.46 466.91 805.96 468.22 806.46 469.54 806.96 470.89 807.46 472.25 807.96 473.64 808.46 475.03 808.96 476.44 809.46 477.86 809.96 479.29 810.46 480.72 810.96 482.15 811.46 483.59 811.96 485.02 812.46 486.46 812.96 487.88 813.46 489.3 813.96 490.71 814.46 492.11 814.96 493.49 815.46 494.86 815.96 496.2 816.46 497.53 816.96 498.83 817.46 500.1 817.96 501.34 818.46 502.56 818.96 503.74 819.46 504.88 819.96 505.98 820.46 507.04 820.96 508.06 821.46 509.08 821.96 510.07 822.46 511.06 822.96 512.04 823.46 513 823.96 513.95 824.46 514.89 824.96 515.82 825.46 516.73 825.96 517.63 826.46 518.52 826.96 519.39 827.46 520.25 827.96 521.09 828.46 521.92 828.96 522.73 829.46 523.53 829.96 524.32 830.46 525.09 830.96 525.84 831.46 526.58 831.96 527.3 832.46 528 832.96 528.69 833.46 529.36 833.96 530.01 834.46 530.65 834.96 531.27 835.46 531.87 835.96 532.46 836.46 533.05 836.96 533.62 837.46 534.19 837.96 534.75 838.46 535.29 838.96 535.83 839.46 536.36 839.96 536.88 840.46 537.4 840.96 537.9 841.46 538.4 841.96 538.9 842.46 539.38 842.96 539.86 843.46 540.33 843.96 540.8 844.46 541.26 844.96 541.71 845.46 542.16 845.96 542.6 846.46 543.04 846.96 543.48 847.46 543.91 847.96 544.34 848.46 544.76 848.96 545.18 849.46 545.59 849.96 546 850.46 546.41 850.96 546.82 851.46 547.23 851.96 547.63 852.46 548.03 852.96 548.43 853.46 548.83 853.96 549.22 854.46 549.62 854.96 550.02 855.46 550.43 855.96 550.83 856.46 551.23 856.96 551.63 857.46 552.03 857.96 552.42 858.46 552.8 858.96 553.17 859.46 553.53 859.96 553.88 860.46 554.21 860.96 554.52 861.46 554.81 861.96 555.08 862.46 555.31 862.96 555.52 863.46 555.73 863.96 555.94 864.46 556.16 864.96 556.37 865.46 556.57 865.96 556.78 866.46 556.99 866.96 557.19 867.46 557.4 867.96 557.6 868.46 557.8 868.96 557.99 869.46 558.19 869.96 558.38 870.46 558.57 870.96 558.75 871.46 558.93 871.96 559.11 872.46 559.29 872.96 559.46 873.46 559.63 873.96 559.79 874.46 559.95 874.96 560.1 875.46 560.25 875.96 560.39 876.46 560.53 876.96 560.66 877.46 560.79 877.96 560.91 878.46 561.02 878.96 561.13 879.46 561.23 879.96 561.32 880.46 561.41 880.96 561.49 881.46 561.56 881.96 561.62 882.46 561.67 882.96 561.72 883.46 561.75 883.96 561.78 884.46 561.79 884.96 561.8 885.46 561.79 885.96 561.77 886.46 561.72 886.96 561.66 887.46 561.59 887.96 561.5 888.46 561.4 888.96 561.28 889.46 561.15 889.96 561.01 890.46 560.86 890.96 560.7 891.46 560.53 891.96 560.35 892.46 560.16 892.96 559.97 893.46 559.76 893.96 559.55 894.46 559.34 894.96 559.11 895.46 558.89 895.96 558.65 896.46 558.41 896.96 558.17 897.46 557.93 897.96 557.68 898.46 557.42 898.96 557.17 899.46 556.91 899.96 556.65 900.46 556.39 900.96 556.13 901.46 555.86 901.96 555.6 902.46 555.31 902.96 554.98 903.46 554.6 903.96 554.19 904.46 553.76 904.96 553.3 905.46 552.83 905.96 552.34 906.46 551.85 906.96 551.34 907.46 550.83 907.96 550.32 908.46 549.8 908.96 549.29 909.46 548.78 909.96 548.27 910.46 547.77 910.96 547.28 911.46 546.78 911.96 546.27 912.46 545.76 912.96 545.23 913.46 544.7 913.96 544.17 914.46 543.62 914.96 543.07 915.46 542.52 915.96 541.96 916.46 541.4 916.96 540.83 917.46 540.26 917.96 539.69 918.46 539.11 918.96 538.54 919.46 537.96 919.96 537.38 920.46 536.8 920.96 536.23 921.46 535.65 921.96 535.07 922.46 534.49 922.96 533.92 923.46 533.35 923.96 532.78 924.46 532.21 924.96 531.65 925.46 531.09 925.96 530.53 926.46 529.98 926.96 529.43 927.46 528.89 927.96 528.36 928.46 527.83 928.96 527.3 929.46 526.79 929.96 526.28 930.46 525.78 930.96 525.28 931.46 524.79 931.96 524.31 932.46 523.83 932.96 523.35 933.46 522.88 933.96 522.42 934.46 521.96 934.96 521.5 935.46 521.04 935.96 520.59 936.46 520.14 936.96 519.7 937.46 519.25 937.96 518.81 938.46 518.37 938.96 517.94 939.46 517.5 939.96 517.07 940.46 516.63 940.96 516.2 941.46 515.77 941.96 515.34 942.46 514.9 942.96 514.47 943.46 514.04 943.96 513.6 944.46 513.17 944.96 512.73 945.46 512.3 945.96 511.86 946.46 511.41 946.96 510.97 947.46 510.52 947.96 510.07 948.46 509.62 948.96 509.16 949.46 508.7 949.96 508.24 950.46 507.77 950.96 507.29 951.46 506.76 951.96 506.2 952.46 505.61 952.96 505 953.46 504.37 953.96 503.72 954.46 503.06 954.96 502.39 955.46 501.73 955.96 501.06 956.46 500.4 956.96 499.75 957.46 499.1 957.96 498.47 958.46 497.86 958.96 497.27 959.46 496.69 959.96 496.14 960.46 495.61 960.96 495.11 961.46 494.64 961.96 494.19 962.46 493.77 962.96 493.38 963.46 493.02 963.96 492.68 964.46 492.38 964.96 492.1 965.46 491.85 965.96 491.63 966.46 491.44 966.96 491.27 967.46 491.13 967.96 491.01 968.46 490.92 968.96 490.86 969.46 490.82 969.96 490.8 970.46 490.8 970.96 490.8 971.46 490.8 971.96 490.8 972.46 490.8 972.96 490.8 973.46 490.8 973.96 490.8 974.46 490.8 974.96 490.8 975.46 490.8 975.96 490.8 976.46 490.82 976.96 490.87 977.46 490.96 977.96 491.08 978.46 491.25 978.96 491.46 979.46 491.72 979.96 492.03 980.46 492.39 980.96 492.83 981.46 493.34 981.96 493.94 982.46 494.66 982.96 495.5 983.46 496.48 983.96 497.61 984.46 498.87 984.96 500.26 985.46 501.73 985.96 503.27 986.46 505.3 986.96 508.08 987.46 511.24 987.96 514.17 988.46 516.52 988.96 518.77 989.46 520.91 989.96 522.9 990.46 524.7 990.96 526.25 991.46 527.65 991.96 528.95 992.46 530.16 992.96 531.27 993.46 532.29 993.96 533.21 994.46 534.03 L994.46 548.03 993.96 548.13 993.46 548.18 992.96 548.2 992.46 548.18 991.96 548.11 991.46 548 990.96 547.85 990.46 547.65 989.96 547.4 989.46 547.09 988.96 546.71 988.46 546.29 987.96 545.82 987.46 545.32 986.96 544.77 986.46 544.17 985.96 543.54 985.46 542.86 984.96 542.15 984.46 541.4 983.96 540.63 983.46 539.81 982.96 538.95 982.46 538.01 981.96 537.01 981.46 535.94 980.96 534.8 980.46 533.59 979.96 532.3 979.46 530.93 978.96 529.47 978.46 527.84 977.96 526.02 977.46 524.04 976.96 521.92 976.46 519.69 975.96 517.38 975.46 514.7 974.96 511.57 974.46 508.56 973.96 506.46 973.46 504.95 972.96 503.52 972.46 503.2 971.96 503.2 971.46 503.2 970.96 503.2 970.46 503.25 969.96 503.67 969.46 504.15 968.96 504.67 968.46 505.24 967.96 505.83 967.46 506.45 966.96 507.09 966.46 507.74 965.96 508.4 965.46 509.06 964.96 509.73 964.46 510.39 963.96 511.05 963.46 511.7 962.96 512.35 962.46 512.97 961.96 513.58 961.46 514.18 960.96 514.75 960.46 515.3 959.96 515.82 959.46 516.32 958.96 516.79 958.46 517.26 957.96 517.73 957.46 518.19 956.96 518.65 956.46 519.1 955.96 519.56 955.46 520 954.96 520.45 954.46 520.89 953.96 521.33 953.46 521.77 952.96 522.21 952.46 522.65 951.96 523.08 951.46 523.51 950.96 523.95 950.46 524.38 949.96 524.81 949.46 525.24 948.96 525.68 948.46 526.11 947.96 526.54 947.46 526.98 946.96 527.41 946.46 527.85 945.96 528.29 945.46 528.73 944.96 529.18 944.46 529.63 943.96 530.08 943.46 530.53 942.96 530.99 942.46 531.45 941.96 531.91 941.46 532.38 940.96 532.86 940.46 533.34 939.96 533.82 939.46 534.31 938.96 534.81 938.46 535.32 937.96 535.83 937.46 536.36 936.96 536.89 936.46 537.42 935.96 537.96 935.46 538.51 934.96 539.07 934.46 539.62 933.96 540.19 933.46 540.75 932.96 541.32 932.46 541.89 931.96 542.47 931.46 543.04 930.96 543.62 930.46 544.2 929.96 544.78 929.46 545.35 928.96 545.93 928.46 546.51 927.96 547.09 927.46 547.66 926.96 548.23 926.46 548.81 925.96 549.37 925.46 549.94 924.96 550.5 924.46 551.05 923.96 551.61 923.46 552.15 922.96 552.7 922.46 553.23 921.96 553.76 921.46 554.29 920.96 554.81 920.46 555.32 919.96 555.82 919.46 556.31 918.96 556.81 918.46 557.31 917.96 557.82 917.46 558.33 916.96 558.85 916.46 559.36 915.96 559.87 915.46 560.38 914.96 560.88 914.46 561.38 913.96 561.86 913.46 562.33 912.96 562.79 912.46 563.24 911.96 563.67 911.46 564.08 910.96 564.48 910.46 564.86 909.96 565.22 909.46 565.56 908.96 565.87 908.46 566.17 907.96 566.45 907.46 566.72 906.96 566.98 906.46 567.24 905.96 567.51 905.46 567.77 904.96 568.03 904.46 568.28 903.96 568.54 903.46 568.79 902.96 569.04 902.46 569.29 901.96 569.53 901.46 569.77 900.96 570 900.46 570.23 899.96 570.46 899.46 570.68 898.96 570.9 898.46 571.11 897.96 571.32 897.46 571.52 896.96 571.72 896.46 571.91 895.96 572.09 895.46 572.27 894.96 572.44 894.46 572.6 893.96 572.76 893.46 572.91 892.96 573.05 892.46 573.18 891.96 573.31 891.46 573.43 890.96 573.54 890.46 573.64 889.96 573.74 889.46 573.83 888.96 573.9 888.46 573.97 887.96 574.03 887.46 574.08 886.96 574.13 886.46 574.16 885.96 574.18 885.46 574.2 884.96 574.2 884.46 574.2 883.96 574.19 883.46 574.17 882.96 574.14 882.46 574.11 881.96 574.08 881.46 574.03 880.96 573.98 880.46 573.93 879.96 573.87 879.46 573.8 878.96 573.73 878.46 573.65 877.96 573.56 877.46 573.47 876.96 573.38 876.46 573.27 875.96 573.17 875.46 573.06 874.96 572.94 874.46 572.82 873.96 572.69 873.46 572.56 872.96 572.43 872.46 572.29 871.96 572.14 871.46 572 870.96 571.84 870.46 571.69 869.96 571.53 869.46 571.36 868.96 571.2 868.46 571.03 867.96 570.85 867.46 570.67 866.96 570.49 866.46 570.31 865.96 570.12 865.46 569.93 864.96 569.74 864.46 569.55 863.96 569.35 863.46 569.15 862.96 568.95 862.46 568.75 861.96 568.55 861.46 568.34 860.96 568.13 860.46 567.92 859.96 567.71 859.46 567.5 858.96 567.29 858.46 567.08 857.96 566.87 857.46 566.65 856.96 566.43 856.46 566.19 855.96 565.94 855.46 565.67 854.96 565.38 854.46 565.08 853.96 564.77 853.46 564.45 852.96 564.12 852.46 563.77 851.96 563.41 851.46 563.05 850.96 562.67 850.46 562.29 849.96 561.9 849.46 561.51 848.96 561.11 848.46 560.71 847.96 560.31 847.46 559.91 846.96 559.5 846.46 559.1 845.96 558.71 845.46 558.31 844.96 557.91 844.46 557.51 843.96 557.11 843.46 556.7 842.96 556.3 842.46 555.89 841.96 555.48 841.46 555.07 840.96 554.65 840.46 554.23 839.96 553.81 839.46 553.38 838.96 552.95 838.46 552.52 837.96 552.08 837.46 551.64 836.96 551.19 836.46 550.74 835.96 550.29 835.46 549.83 834.96 549.36 834.46 548.89 833.96 548.41 833.46 547.93 832.96 547.44 832.46 546.94 831.96 546.44 831.46 545.93 830.96 545.41 830.46 544.89 829.96 544.36 829.46 543.82 828.96 543.28 828.46 542.73 827.96 542.17 827.46 541.6 826.96 541.02 826.46 540.43 825.96 539.84 825.46 539.24 824.96 538.62 824.46 537.99 823.96 537.35 823.46 536.69 822.96 536.02 822.46 535.34 821.96 534.63 821.46 533.92 820.96 533.19 820.46 532.45 819.96 531.69 819.46 530.91 818.96 530.13 818.46 529.33 817.96 528.52 817.46 527.69 816.96 526.85 816.46 526 815.96 525.13 815.46 524.26 814.96 523.36 814.46 522.46 813.96 521.55 813.46 520.62 812.96 519.68 812.46 518.73 811.96 517.76 811.46 516.79 810.96 515.8 810.46 514.8 809.96 513.79 809.46 512.77 808.96 511.73 808.46 510.65 807.96 509.53 807.46 508.38 806.96 507.2 806.46 505.98 805.96 504.74 805.46 503.47 804.96 502.17 804.46 500.85 803.96 499.51 803.46 498.15 802.96 496.77 802.46 495.38 801.96 493.97 801.46 492.56 800.96 491.13 800.46 489.7 799.96 488.27 799.46 486.83 798.96 485.4 798.46 483.96 797.96 482.53 797.46 481.11 796.96 479.7 796.46 478.3 795.96 476.91 795.46 475.54 794.96 474.19 794.46 472.86 793.96 471.55 793.46 470.25 792.96 468.96 792.46 467.67 791.96 466.39 791.46 465.11 790.96 463.84 790.46 462.57 789.96 461.3 789.46 460.03 788.96 458.76 788.46 457.49 787.96 456.21 787.46 454.93 786.96 453.65 786.46 452.37 785.96 451.07 785.46 449.77 784.96 448.46 784.46 447.15 783.96 445.82 783.46 444.47 782.96 443.11 782.46 441.75 781.96 440.38 781.46 439.02 780.96 437.67 780.46 436.33 779.96 434.98 779.46 433.64 778.96 432.3 778.46 430.97 777.96 429.64 777.46 428.31 776.96 426.98 776.46 425.66 775.96 424.34 775.46 423.02 774.96 421.7 774.46 420.39 773.96 419.08 773.46 417.77 772.96 416.47 772.46 415.16 771.96 413.87 771.46 412.57 770.96 411.27 770.46 409.99 769.96 408.7 769.46 407.41 768.96 406.13 768.46 404.85 767.96 403.57 767.46 402.3 766.96 401.03 766.46 399.76 765.96 398.49 765.46 397.23 764.96 395.97 764.46 394.71 763.96 393.45 763.46 392.2 762.96 390.95 762.46 389.7 761.96 388.46 761.46 387.22 760.96 385.98 760.46 384.74 759.96 383.51 759.46 382.28 758.96 381.05 758.46 379.82 757.96 378.6 757.46 377.38 756.96 376.16 756.46 374.95 755.96 373.74 755.46 372.52 754.96 371.32 754.46 370.11 753.96 368.92 753.46 367.72 752.96 366.52 752.46 365.33 751.96 364.13 751.46 362.95 750.96 361.77 750.46 360.58 749.96 359.4 749.46 358.23 748.96 357.05 748.46 355.88 747.96 354.71 747.46 353.54 746.96 352.38 746.46 351.22 745.96 350.06 745.46 348.91 744.96 347.75 744.46 346.6 743.96 345.46 743.46 344.31 742.96 343.17 742.46 342.03 741.96 340.89 741.46 339.76 740.96 338.62 740.46 337.49 739.96 336.37 739.46 335.25 738.96 334.13 738.46 333.01 737.96 331.89 737.46 330.78 736.96 329.67 736.46 328.56 735.96 327.45 735.46 326.35 734.96 325.25 734.46 324.16 733.96 323.06 733.46 321.97 732.96 320.88 732.46 319.79 731.96 318.71 731.46 317.62 730.96 316.55 730.46 315.47 729.96 314.4 729.46 313.33 728.96 312.26 728.46 311.2 727.96 310.13 727.46 309.07 726.96 308.01 726.46 306.95 725.96 305.91 725.46 304.86 724.96 303.81 724.46 302.76 723.96 301.72 723.46 300.68 722.96 299.65 722.46 298.61 721.96 297.58 721.46 296.55 720.96 295.52 720.46 294.5 719.96 293.48 719.46 292.46 718.96 291.44 718.46 290.43 717.96 289.42 717.46 288.41 716.96 287.41 716.46 286.4 715.96 285.4 715.46 284.41 714.96 283.41 714.46 282.42 713.96 281.43 713.46 280.44 712.96 279.45 712.46 278.47 711.96 277.49 711.46 276.52 710.96 275.54 710.46 274.57 709.96 273.59 709.46 272.63 708.96 271.67 708.46 270.71 707.96 269.74 707.46 268.79 706.96 267.84 706.46 266.88 705.96 265.93 705.46 264.99 704.96 264.04 704.46 263.1 703.96 262.17 703.46 261.23 702.96 260.3 702.46 259.36 701.96 258.44 701.46 257.51 700.96 256.59 700.46 255.66 699.96 254.75 699.46 253.83 698.96 252.92 698.46 252 697.96 251.1 697.46 250.19 696.96 249.29 696.46 248.39 695.96 247.49 695.46 246.6 694.96 245.7 694.46 244.81 693.96 243.93 693.46 243.04 692.96 242.16 692.46 241.28 691.96 240.4 691.46 239.52 690.96 238.65 690.46 237.78 689.96 236.91 689.46 236.05 688.96 235.19 688.46 234.33 687.96 233.47 687.46 232.61 686.96 231.76 686.46 230.91 685.96 230.07 685.46 229.22 684.96 228.38 684.46 227.53 683.96 226.69 683.46 225.86 682.96 225.03 682.46 224.2 681.96 223.38 681.46 222.55 680.96 221.73 680.46 220.91 679.96 220.09 679.46 219.28 678.96 218.46 678.46 217.65 677.96 216.85 677.46 216.04 676.96 215.24 676.46 214.44 675.96 213.64 675.46 212.84 674.96 212.05 674.46 211.26 673.96 210.47 673.46 209.69 672.96 208.91 672.46 208.13 671.96 207.35 671.46 206.57 670.96 205.8 670.46 205.03 669.96 204.26 669.46 203.5 668.96 202.73 668.46 201.97 667.96 201.21 667.46 200.46 666.96 199.71 666.46 198.95 665.96 198.2 665.46 197.46 664.96 196.72 664.46 195.97 663.96 195.24 663.46 194.51 662.96 193.77 662.46 193.04 661.96 192.31 661.46 191.58 660.96 190.86 660.46 190.14 659.96 189.42 659.46 188.71 658.96 187.99 658.46 187.28 657.96 186.57 657.46 185.86 656.96 185.16 656.46 184.46 655.96 183.76 655.46 183.06 654.96 182.36 654.46 181.68 653.96 180.98 653.46 180.3 652.96 179.61 652.46 178.93 651.96 178.25 651.46 177.58 650.96 176.89 650.46 176.23 649.96 175.55 649.46 174.89 648.96 174.22 648.46 173.56 647.96 172.9 647.46 172.24 646.96 171.59 646.46 170.92 645.96 170.28 645.46 169.63 644.96 168.98 644.46 168.34 643.96 167.69 643.46 167.06 642.96 166.42 642.46 165.78 641.96 165.15 641.46 164.52 640.96 163.88 640.46 163.27 639.96 162.64 639.46 162.01 638.96 161.4 638.46 160.79 637.96 160.16 637.46 159.55 636.96 158.95 636.46 158.34 635.96 157.72 635.46 157.13 634.96 156.53 634.46 155.93 633.96 155.32 633.46 154.74 632.96 154.15 632.46 153.56 631.96 152.96 631.46 152.37 630.96 151.8 630.46 151.22 629.96 150.64 629.46 150.06 628.96 149.48 628.46 148.91 627.96 148.34 627.46 147.78 626.96 147.21 626.46 146.64 625.96 146.08 625.46 145.51 624.96 144.96 624.46 144.41 623.96 143.86 623.46 143.31 622.96 142.76 622.46 142.21 621.96 141.66 621.46 141.12 620.96 140.57 620.46 140.03 619.96 139.49 619.46 138.96 618.96 138.43 618.46 137.9 617.96 137.37 617.46 136.85 616.96 136.33 616.46 135.8 615.96 135.28 615.46 134.77 614.96 134.25 614.46 133.74 613.96 133.22 613.46 132.71 612.96 132.21 612.46 131.7 611.96 131.19 611.46 130.69 610.96 130.19 610.46 129.69 609.96 129.19 609.46 128.7 608.96 128.2 608.46 127.71 607.96 127.23 607.46 126.74 606.96 126.26 606.46 125.78 605.96 125.3 605.46 124.82 604.96 124.35 604.46 123.87 603.96 123.39 603.46 122.92 602.96 122.44 602.46 121.98 601.96 121.52 601.46 121.06 600.96 120.6 600.46 120.14 599.96 119.68 599.46 119.22 598.96 118.77 598.46 118.32 597.96 117.87 597.46 117.42 596.96 116.97 596.46 116.52 595.96 116.08 595.46 115.65 594.96 115.21 594.46 114.77 593.96 114.33 593.46 113.89 592.96 113.47 592.46 113.04 591.96 112.61 591.46 112.17 590.96 111.75 590.46 111.34 589.96 110.92 589.46 110.49 588.96 110.07 588.46 109.66 587.96 109.25 587.46 108.83 586.96 108.41 586.46 108.02 585.96 107.61 585.46 107.2 584.96 106.79 584.46 106.4 583.96 106 583.46 105.58 582.96 105.2 582.46 104.81 581.96 104.41 581.46 104.01 580.96 103.63 580.46 103.24 579.96 102.84 579.46 102.47 578.96 102.09 578.46 101.69 577.96 101.32 577.46 100.95 576.96 100.55 576.46 100.19 575.96 99.82 575.46 99.43 574.96 99.08 574.46 98.71 573.96 98.32 573.46 97.98 572.96 97.61 572.46 97.24 571.96 96.89 571.46 96.52 570.96 96.17 570.46 95.82 569.96 95.44 569.46 95.11 568.96 94.75 568.46 94.39 567.96 94.06 567.46 93.7 566.96 93.36 566.46 93.02 565.96 92.67 565.46 92.34 564.96 91.98 564.46 91.66 563.96 91.32 563.46 90.98 562.96 90.66 562.46 90.31 561.96 90 561.46 89.65 560.96 89.34 560.46 89.01 559.96 88.68 559.46 88.36 558.96 88.03 558.46 87.73 557.96 87.38 557.46 87.09 556.96 86.75 556.46 86.46 555.96 86.13 555.46 85.84 554.96 85.51 554.46 85.22 553.96 84.9 553.46 84.6 552.96 84.29 552.46 83.99 551.96 83.62 551.46 83.16 550.96 82.57 550.46 81.8 549.96 80.58Z" fill="#800080"/>
<path d="M138 15.8L187.72 15.8M202.92 15.85L225.69 16M240.89 16.12L252.63 16.23M267.83 16.34L273.53 16.36M288.73 16.45L290.61 16.46" stroke="#0000ff" stroke-width="3.3" fill="none"/>
<path d="M124.65 15.8a5.75 5.75 0 1 0 11.5 0a5.75 5.75 0 1 0 -11.5 0M189.57 15.8a5.75 5.75 0 1 0 11.5 0a5.75 5.75 0 1 0 -11.5 0M227.54 16.05a5.75 5.75 0 1 0 11.5 0a5.75 5.75 0 1 0 -11.5 0M254.48 16.3a5.75 5.75 0 1 0 11.5 0a5.75 5.75 0 1 0 -11.5 0M275.38 16.4a5.75 5.75 0 1 0 11.5 0a5.75 5.75 0 1 0 -11.5 0M292.46 16.5a5.75 5.75 0 1 0 11.5 0a5.75 5.75 0 1 0 -11.5 0M306.9 16.6a5.75 5.75 0 1 0 11.5 0a5.75 5.75 0 1 0 -11.5 0M319.4 16.7a5.75 5.75 0 1 0 11.5 0a5.75 5.75 0 1 0 -11.5 0M330.43 16.8a5.75 5.75 0 1 0 11.5 0a5.75 5.75 0 1 0 -11.5 0M340.3 16.52a5.75 5.75 0 1 0 11.5 0a5.75 5.75 0 1 0 -11.5 0M349.23 16.54a5.75 5.75 0 1 0 11.5 0a5.75 5.75 0 1 0 -11.5 0M357.38 16.56a5.75 5.75 0 1 0 11.5 0a5.75 5.75 0 1 0 -11.5 0M364.87 16.59a5.75 5.75 0 1 0 11.5 0a5.75 5.75 0 1 0 -11.5 0M371.81 16.62a5.75 5.75 0 1 0 11.5 0a5.75 5.75 0 1 0 -11.5 0M378.27 16.65a5.75 5.75 0 1 0 11.5 0a5.75 5.75 0 1 0 -11.5 0M384.32 16.68a5.75 5.75 0 1 0 11.5 0a5.75 5.75 0 1 0 -11.5 0M390 16.72a5.75 5.75 0 1 0 11.5 0a5.75 5.75 0 1 0 -11.5 0M395.35 16.76a5.75 5.75 0 1 0 11.5 0a5.75 5.75 0 1 0 -11.5 0M400.41 16.8a5.75 5.75 0 1 0 11.5 0a5.75 5.75 0 1 0 -11.5 0M405.22 16.85a5.75 5.75 0 1 0 11.5 0a5.75 5.75 0 1 0 -11.5 0M409.79 16.9a5.75 5.75 0 1 0 11.5 0a5.75 5.75 0 1 0 -11.5 0M414.14 16.95a5.75 5.75 0 1 0 11.5 0a5.75 5.75 0 1 0 -11.5 0M418.31 17a5.75 5.75 0 1 0 11.5 0a5.75 5.75 0 1 0 -11.5 0M422.29 17.06a5.75 5.75 0 1 0 11.5 0a5.75 5.75 0 1 0 -11.5 0M426.12 17.11a5.75 5.75 0 1 0 11.5 0a5.75 5.75 0 1 0 -11.5 0M429.79 17.17a5.75 5.75 0 1 0 11.5 0a5.75 5.75 0 1 0 -11.5 0M433.32 17.23a5.75 5.75 0 1 0 11.5 0a5.75 5.75 0 1 0 -11.5 0M436.73 17.29a5.75 5.75 0 1 0 11.5 0a5.75 5.75 0 1 0 -11.5 0M440.02 17.35a5.75 5.75 0 1 0 11.5 0a5.75 5.75 0 1 0 -11.5 0M443.19 17.41a5.75 5.75 0 1 0 11.5 0a5.75 5.75 0 1 0 -11.5 0M446.26 17.48a5.75 5.75 0 1 0 11.5 0a5.75 5.75 0 1 0 -11.5 0M449.24 17.54a5.75 5.75 0 1 0 11.5 0a5.75 5.75 0 1 0 -11.5 0M452.12 17.61a5.75 5.75 0 1 0 11.5 0a5.75 5.75 0 1 0 -11.5 0M454.91 17.67a5.75 5.75 0 1 0 11.5 0a5.75 5.75 0 1 0 -11.5 0M457.63 17.74a5.75 5.75 0 1 0 11.5 0a5.75 5.75 0 1 0 -11.5 0M460.27 17.81a5.75 5.75 0 1 0 11.5 0a5.75 5.75 0 1 0 -11.5 0M462.83 17.87a5.75 5.75 0 1 0 11.5 0a5.75 5.75 0 1 0 -11.5 0M465.33 17.94a5.75 5.75 0 1 0 11.5 0a5.75 5.75 0 1 0 -11.5 0M467.76 18.01a5.75 5.75 0 1 0 11.5 0a5.75 5.75 0 1 0 -11.5 0M470.13 18.08a5.75 5.75 0 1 0 11.5 0a5.75 5.75 0 1 0 -11.5 0M472.45 18.15a5.75 5.75 0 1 0 11.5 0a5.75 5.75 0 1 0 -11.5 0M474.7 18.22a5.75 5.75 0 1 0 11.5 0a5.75 5.75 0 1 0 -11.5 0M476.91 18.29a5.75 5.75 0 1 0 11.5 0a5.75 5.75 0 1 0 -11.5 0M479.06 18.36a5.75 5.75 0 1 0 11.5 0a5.75 5.75 0 1 0 -11.5 0M481.17 18.44a5.75 5.75 0 1 0 11.5 0a5.75 5.75 0 1 0 -11.5 0M483.22 18.51a5.75 5.75 0 1 0 11.5 0a5.75 5.75 0 1 0 -11.5 0M485.24 18.58a5.75 5.75 0 1 0 11.5 0a5.75 5.75 0 1 0 -11.5 0M487.21 18.65a5.75 5.75 0 1 0 11.5 0a5.75 5.75 0 1 0 -11.5 0M489.14 18.72a5.75 5.75 0 1 0 11.5 0a5.75 5.75 0 1 0 -11.5 0M491.03 18.79a5.75 5.75 0 1 0 11.5 0a5.75 5.75 0 1 0 -11.5 0M492.89 18.87a5.75 5.75 0 1 0 11.5 0a5.75 5.75 0 1 0 -11.5 0M494.71 18.94a5.75 5.75 0 1 0 11.5 0a5.75 5.75 0 1 0 -11.5 0M496.49 19.01a5.75 5.75 0 1 0 11.5 0a5.75 5.75 0 1 0 -11.5 0M498.24 19.08a5.75 5.75 0 1 0 11.5 0a5.75 5.75 0 1 0 -11.5 0M499.96 19.16a5.75 5.75 0 1 0 11.5 0a5.75 5.75 0 1 0 -11.5 0M501.65 19.23a5.75 5.75 0 1 0 11.5 0a5.75 5.75 0 1 0 -11.5 0M503.3 19.3a5.75 5.75 0 1 0 11.5 0a5.75 5.75 0 1 0 -11.5 0M504.93 19.38a5.75 5.75 0 1 0 11.5 0a5.75 5.75 0 1 0 -11.5 0M506.53 19.45a5.75 5.75 0 1 0 11.5 0a5.75 5.75 0 1 0 -11.5 0M508.11 19.52a5.75 5.75 0 1 0 11.5 0a5.75 5.75 0 1 0 -11.5 0M509.66 19.59a5.75 5.75 0 1 0 11.5 0a5.75 5.75 0 1 0 -11.5 0M511.18 19.67a5.75 5.75 0 1 0 11.5 0a5.75 5.75 0 1 0 -11.5 0M512.68 19.74a5.75 5.75 0 1 0 11.5 0a5.75 5.75 0 1 0 -11.5 0M514.15 19.81a5.75 5.75 0 1 0 11.5 0a5.75 5.75 0 1 0 -11.5 0M515.6 19.89a5.75 5.75 0 1 0 11.5 0a5.75 5.75 0 1 0 -11.5 0M517.03 19.96a5.75 5.75 0 1 0 11.5 0a5.75 5.75 0 1 0 -11.5 0M518.44 20.03a5.75 5.75 0 1 0 11.5 0a5.75 5.75 0 1 0 -11.5 0M519.83 20.1a5.75 5.75 0 1 0 11.5 0a5.75 5.75 0 1 0 -11.5 0M521.2 20.18a5.75 5.75 0 1 0 11.5 0a5.75 5.75 0 1 0 -11.5 0M522.55 20.25a5.75 5.75 0 1 0 11.5 0a5.75 5.75 0 1 0 -11.5 0M523.87 20.32a5.75 5.75 0 1 0 11.5 0a5.75 5.75 0 1 0 -11.5 0M525.18 20.39a5.75 5.75 0 1 0 11.5 0a5.75 5.75 0 1 0 -11.5 0M526.48 20.47a5.75 5.75 0 1 0 11.5 0a5.75 5.75 0 1 0 -11.5 0M527.75 20.54a5.75 5.75 0 1 0 11.5 0a5.75 5.75 0 1 0 -11.5 0M529.01 20.61a5.75 5.75 0 1 0 11.5 0a5.75 5.75 0 1 0 -11.5 0M530.25 20.68a5.75 5.75 0 1 0 11.5 0a5.75 5.75 0 1 0 -11.5 0M531.47 20.75a5.75 5.75 0 1 0 11.5 0a5.75 5.75 0 1 0 -11.5 0M532.68 20.82a5.75 5.75 0 1 0 11.5 0a5.75 5.75 0 1 0 -11.5 0M533.87 20.9a5.75 5.75 0 1 0 11.5 0a5.75 5.75 0 1 0 -11.5 0M535.05 20.97a5.75 5.75 0 1 0 11.5 0a5.75 5.75 0 1 0 -11.5 0M536.21 21.04a5.75 5.75 0 1 0 11.5 0a5.75 5.75 0 1 0 -11.5 0M537.36 21.11a5.75 5.75 0 1 0 11.5 0a5.75 5.75 0 1 0 -11.5 0M538.5 21.18a5.75 5.75 0 1 0 11.5 0a5.75 5.75 0 1 0 -11.5 0M539.62 21.25a5.75 5.75 0 1 0 11.5 0a5.75 5.75 0 1 0 -11.5 0M540.73 21.32a5.75 5.75 0 1 0 11.5 0a5.75 5.75 0 1 0 -11.5 0M541.82 21.39a5.75 5.75 0 1 0 11.5 0a5.75 5.75 0 1 0 -11.5 0M542.91 21.47a5.75 5.75 0 1 0 11.5 0a5.75 5.75 0 1 0 -11.5 0M543.98 21.54a5.75 5.75 0 1 0 11.5 0a5.75 5.75 0 1 0 -11.5 0M545.04 21.61a5.75 5.75 0 1 0 11.5 0a5.75 5.75 0 1 0 -11.5 0M546.08 21.68a5.75 5.75 0 1 0 11.5 0a5.75 5.75 0 1 0 -11.5 0M547.12 21.75a5.75 5.75 0 1 0 11.5 0a5.75 5.75 0 1 0 -11.5 0M548.14 21.82a5.75 5.75 0 1 0 11.5 0a5.75 5.75 0 1 0 -11.5 0M549.15 21.89a5.75 5.75 0 1 0 11.5 0a5.75 5.75 0 1 0 -11.5 0M550.16 21.96a5.75 5.75 0 1 0 11.5 0a5.75 5.75 0 1 0 -11.5 0" fill="#0000ff"/>
<path d="M549.96 20.21 550.46 19 550.96 18.22 551.46 17.64 551.96 17.18 552.46 16.81 552.96 16.5 553.46 16.26 553.96 16.07 554.46 15.93 554.96 15.83 555.46 15.77 555.96 15.76 556.46 15.78 556.96 15.83 557.46 15.85 557.96 15.9 558.46 15.92 558.96 15.97 559.46 16 559.96 16.04 560.46 16.07 560.96 16.11 561.46 16.14 561.96 16.18 562.46 16.22 562.96 16.25 563.46 16.3 563.96 16.32 564.46 16.38 564.96 16.4 565.46 16.45 565.96 16.47 566.46 16.52 566.96 16.55 567.46 16.59 567.96 16.64 568.46 16.67 568.96 16.72 569.46 16.74 569.96 16.79 570.46 16.82 570.96 16.86 571.46 16.91 571.96 16.94 572.46 16.99 572.96 17.02 573.46 17.06 573.96 17.11 574.46 17.14 574.96 17.19 575.46 17.23 575.96 17.27 576.46 17.32 576.96 17.35 577.46 17.4 577.96 17.44 578.46 17.47 578.96 17.53 579.46 17.56 579.96 17.6 580.46 17.65 580.96 17.69 581.46 17.73 581.96 17.78 582.46 17.82 582.96 17.86 583.46 17.91 583.96 17.95 584.46 17.99 584.96 18.04 585.46 18.08 585.96 18.13 586.46 18.18 586.96 18.21 587.46 18.26 587.96 18.31 588.46 18.35 588.96 18.39 589.46 18.44 589.96 18.49 590.46 18.53 590.96 18.58 591.46 18.63 591.96 18.67 592.46 18.72 592.96 18.77 593.46 18.82 593.96 18.86 594.46 18.91 594.96 18.96 595.46 19.01 595.96 19.05 596.46 19.1 596.96 19.15 597.46 19.2 597.96 19.25 598.46 19.29 598.96 19.34 599.46 19.4 599.96 19.45 600.46 19.49 600.96 19.54 601.46 19.59 601.96 19.64 602.46 19.7 602.96 19.75 603.46 19.79 603.96 19.84 604.46 19.9 604.96 19.95 605.46 20 605.96 20.05 606.46 20.1 606.96 20.15 607.46 20.21 607.96 20.26 608.46 20.32 608.96 20.37 609.46 20.42 609.96 20.47 610.46 20.52 610.96 20.58 611.46 20.63 611.96 20.69 612.46 20.74 612.96 20.8 613.46 20.85 613.96 20.91 614.46 20.96 614.96 21.01 615.46 21.07 615.96 21.12 616.46 21.18 616.96 21.23 617.46 21.29 617.96 21.35 618.46 21.4 618.96 21.46 619.46 21.52 619.96 21.57 620.46 21.63 620.96 21.69 621.46 21.75 621.96 21.8 622.46 21.86 622.96 21.92 623.46 21.98 623.96 22.04 624.46 22.1 624.96 22.16 625.46 22.21 625.96 22.27 626.46 22.33 626.96 22.39 627.46 22.45 627.96 22.51 628.46 22.58 628.96 22.64 629.46 22.7 629.96 22.76 630.46 22.82 630.96 22.88 631.46 22.94 631.96 23 632.46 23.06 632.96 23.13 633.46 23.19 633.96 23.25 634.46 23.32 634.96 23.38 635.46 23.44 635.96 23.5 636.46 23.57 636.96 23.63 637.46 23.7 637.96 23.76 638.46 23.82 638.96 23.89 639.46 23.96 639.96 24.02 640.46 24.08 640.96 24.15 641.46 24.22 641.96 24.28 642.46 24.35 642.96 24.41 643.46 24.48 643.96 24.55 644.46 24.62 644.96 24.68 645.46 24.75 645.96 24.82 646.46 24.89 646.96 24.95 647.46 25.02 647.96 25.09 648.46 25.16 648.96 25.23 649.46 25.3 649.96 25.37 650.46 25.44 650.96 25.51 651.46 25.58 651.96 25.65 652.46 25.72 652.96 25.8 653.46 25.87 653.96 25.94 654.46 26.01 654.96 26.08 655.46 26.16 655.96 26.23 656.46 26.3 656.96 26.38 657.46 26.45 657.96 26.53 658.46 26.6 658.96 26.68 659.46 26.75 659.96 26.83 660.46 26.91 660.96 26.98 661.46 27.06 661.96 27.14 662.46 27.22 662.96 27.29 663.46 27.37 663.96 27.45 664.46 27.53 664.96 27.61 665.46 27.69 665.96 27.77 666.46 27.85 666.96 27.93 667.46 28.01 667.96 28.1 668.46 28.18 668.96 28.26 669.46 28.35 669.96 28.43 670.46 28.51 670.96 28.6 671.46 28.68 671.96 28.77 672.46 28.86 672.96 28.94 673.46 29.03 673.96 29.12 674.46 29.21 674.96 29.29 675.46 29.38 675.96 29.47 676.46 29.56 676.96 29.65 677.46 29.74 677.96 29.83 678.46 29.93 678.96 30.02 679.46 30.11 679.96 30.2 680.46 30.3 680.96 30.39 681.46 30.49 681.96 30.58 682.46 30.68 682.96 30.77 683.46 30.87 683.96 30.97 684.46 31.07 684.96 31.16 685.46 31.26 685.96 31.36 686.46 31.46 686.96 31.56 687.46 31.66 687.96 31.77 688.46 31.87 688.96 31.97 689.46 32.07 689.96 32.18 690.46 32.28 690.96 32.39 691.46 32.49 691.96 32.6 692.46 32.71 692.96 32.82 693.46 32.92 693.96 33.03 694.46 33.14 694.96 33.25 695.46 33.36 695.96 33.47 696.46 33.59 696.96 33.7 697.46 33.81 697.96 33.92 698.46 34.04 698.96 34.15 699.46 34.27 699.96 34.39 700.46 34.5 700.96 34.62 701.46 34.74 701.96 34.86 702.46 34.98 702.96 35.1 703.46 35.22 703.96 35.34 704.46 35.46 704.96 35.59 705.46 35.71 705.96 35.84 706.46 35.96 706.96 36.09 707.46 36.21 707.96 36.34 708.46 36.47 708.96 36.6 709.46 36.73 709.96 36.86 710.46 36.99 710.96 37.12 711.46 37.25 711.96 37.38 712.46 37.52 712.96 37.65 713.46 37.79 713.96 37.93 714.46 38.06 714.96 38.2 715.46 38.34 715.96 38.48 716.46 38.62 716.96 38.76 717.46 38.9 717.96 39.04 718.46 39.19 718.96 39.33 719.46 39.47 719.96 39.62 720.46 39.77 720.96 39.91 721.46 40.06 721.96 40.21 722.46 40.36 722.96 40.51 723.46 40.66 723.96 40.81 724.46 40.97 724.96 41.12 725.46 41.28 725.96 41.43 726.46 41.59 726.96 41.75 727.46 41.9 727.96 42.06 728.46 42.22 728.96 42.38 729.46 42.54 729.96 42.71 730.46 42.87 730.96 43.03 731.46 43.2 731.96 43.37 732.46 43.53 732.96 43.7 733.46 43.87 733.96 44.04 734.46 44.21 734.96 44.38 735.46 44.55 735.96 44.73 736.46 44.9 736.96 45.08 737.46 45.25 737.96 45.43 738.46 45.61 738.96 45.79 739.46 45.97 739.96 46.15 740.46 46.33 740.96 46.51 741.46 46.69 741.96 46.88 742.46 47.06 742.96 47.25 743.46 47.44 743.96 47.63 744.46 47.82 744.96 48.01 745.46 48.2 745.96 48.39 746.46 48.59 746.96 48.78 747.46 48.98 747.96 49.17 748.46 49.37 748.96 49.57 749.46 49.77 749.96 49.97 750.46 50.17 750.96 50.37 751.46 50.58 751.96 50.78 752.46 50.99 752.96 51.19 753.46 51.4 753.96 51.61 754.46 51.82 754.96 52.03 755.46 52.24 755.96 52.46 756.46 52.67 756.96 52.89 757.46 53.1 757.96 53.32 758.46 53.54 758.96 53.76 759.46 53.98 759.96 54.2 760.46 54.43 760.96 54.65 761.46 54.88 761.96 55.1 762.46 55.33 762.96 55.56 763.46 55.79 763.96 56.02 764.46 56.25 764.96 56.48 765.46 56.72 765.96 56.95 766.46 57.19 766.96 57.43 767.46 57.67 767.96 57.91 768.46 58.15 768.96 58.39 769.46 58.64 769.96 58.88 770.46 59.13 770.96 59.37 771.46 59.62 771.96 59.87 772.46 60.12 772.96 60.37 773.46 60.63 773.96 60.88 774.46 61.14 774.96 61.4 775.46 61.65 775.96 61.91 776.46 62.17 776.96 62.43 777.46 62.7 777.96 62.96 778.46 63.23 778.96 63.49 779.46 63.76 779.96 64.03 780.46 64.3 780.96 64.57 781.46 64.85 781.96 65.12 782.46 65.4 782.96 65.67 783.46 65.95 783.96 66.23 784.46 66.51 784.96 66.79 785.46 67.08 785.96 67.36 786.46 67.65 786.96 67.93 787.46 68.22 787.96 68.51 788.46 68.8 788.96 69.1 789.46 69.39 789.96 69.68 790.46 69.98 790.96 70.28 791.46 70.58 791.96 70.88 792.46 71.18 792.96 71.48 793.46 71.79 793.96 72.09 794.46 72.4 794.96 72.71 795.46 73.02 795.96 73.33 796.46 73.64 796.96 73.96 797.46 74.27 797.96 74.59 798.46 74.91 798.96 75.23 799.46 75.55 799.96 75.87 800.46 76.19 800.96 76.52 801.46 76.85 801.96 77.17 802.46 77.5 802.96 77.84 803.46 78.17 803.96 78.5 804.46 78.84 804.96 79.17 805.46 79.51 805.96 79.85 806.46 80.19 806.96 80.53 807.46 80.88 807.96 81.22 808.46 81.57 808.96 81.92 809.46 82.27 809.96 82.62 810.46 82.97 810.96 83.33 811.46 83.68 811.96 84.04 812.46 84.4 812.96 84.76 813.46 85.12 813.96 85.49 814.46 85.85 814.96 86.22 815.46 86.58 815.96 86.95 816.46 87.32 816.96 87.7 817.46 88.07 817.96 88.45 818.46 88.82 818.96 89.2 819.46 89.58 819.96 89.96 820.46 90.35 820.96 90.73 821.46 91.12 821.96 91.51 822.46 91.9 822.96 92.29 823.46 92.68 823.96 93.08 824.46 93.47 824.96 93.87 825.46 94.27 825.96 94.67 826.46 95.07 826.96 95.48 827.46 95.88 827.96 96.29 828.46 96.7 828.96 97.11 829.46 97.52 829.96 97.93 830.46 98.35 830.96 98.77 831.46 99.19 831.96 99.61 832.46 100.03 832.96 100.45 833.46 100.88 833.96 101.3 834.46 101.73 834.96 102.16 835.46 102.6 835.96 103.03 836.46 103.47 836.96 103.9 837.46 104.34 837.96 104.78 838.46 105.23 838.96 105.67 839.46 106.12 839.96 106.56 840.46 107.01 840.96 107.47 841.46 107.92 841.96 108.37 842.46 108.83 842.96 109.29 843.46 109.75 843.96 110.21 844.46 110.68 844.96 111.14 845.46 111.61 845.96 112.08 846.46 112.55 846.96 113.02 847.46 113.5 847.96 113.97 848.46 114.45 848.96 114.93 849.46 115.41 849.96 115.9 850.46 116.38 850.96 116.87 851.46 117.36 851.96 117.85 852.46 118.34 852.96 118.84 853.46 119.34 853.96 119.83 854.46 120.34 854.96 120.84 855.46 121.34 855.96 121.85 856.46 122.36 856.96 122.87 857.46 123.38 857.96 123.89 858.46 124.41 858.96 124.93 859.46 125.45 859.96 125.97 860.46 126.49 860.96 127.02 861.46 127.55 861.96 128.08 862.46 128.61 862.96 129.14 863.46 129.68 863.96 130.21 864.46 130.75 864.96 131.29 865.46 131.84 865.96 132.38 866.46 132.93 866.96 133.48 867.46 134.03 867.96 134.59 868.46 135.14 868.96 135.7 869.46 136.26 869.96 136.82 870.46 137.38 870.96 137.95 871.46 138.52 871.96 139.09 872.46 139.66 872.96 140.23 873.46 140.81 873.96 141.39 874.46 141.97 874.96 142.55 875.46 143.14 875.96 143.72 876.46 144.31 876.96 144.9 877.46 145.5 877.96 146.09 878.46 146.69 878.96 147.29 879.46 147.89 879.96 148.49 880.46 149.1 880.96 149.71 881.46 150.32 881.96 150.93 882.46 151.54 882.96 152.16 883.46 152.78 883.96 153.4 884.46 154.02 884.96 154.65 885.46 155.28 885.96 155.91 886.46 156.54 886.96 157.17 887.46 157.81 887.96 158.45 888.46 159.09 888.96 159.73 889.46 160.38 889.96 161.02 890.46 161.67 890.96 162.33 891.46 162.98 891.96 163.64 892.46 164.3 892.96 164.96 893.46 165.62 893.96 166.29 894.46 166.95 894.96 167.62 895.46 168.3 895.96 168.97 896.46 169.65 896.96 170.33 897.46 171.01 897.96 171.69 898.46 172.38 898.96 173.07 899.46 173.76 899.96 174.45 900.46 175.15 900.96 175.85 901.46 176.55 901.96 177.25 902.46 177.96 902.96 178.66 903.46 179.37 903.96 180.09 904.46 180.8 904.96 181.52 905.46 182.24 905.96 182.96 906.46 183.69 906.96 184.41 907.46 185.14 907.96 185.87 908.46 186.61 908.96 187.34 909.46 188.08 909.96 188.82 910.46 189.57 910.96 190.32 911.46 191.06 911.96 191.82 912.46 192.57 912.96 193.33 913.46 194.08 913.96 194.85 914.46 195.61 914.96 196.38 915.46 197.14 915.96 197.92 916.46 198.69 916.96 199.47 917.46 200.24 917.96 201.03 918.46 201.81 918.96 202.6 919.46 203.38 919.96 204.18 920.46 204.97 920.96 205.77 921.46 206.57 921.96 207.37 922.46 208.17 922.96 208.98 923.46 209.79 923.96 210.6 924.46 211.41 924.96 212.23 925.46 213.05 925.96 213.87 926.46 214.7 926.96 215.52 927.46 216.35 927.96 217.19 928.46 218.02 928.96 218.86 929.46 219.7 929.96 220.54 930.46 221.38 930.96 222.23 931.46 223.08 931.96 223.93 932.46 224.79 932.96 225.64 933.46 226.5 933.96 227.36 934.46 228.22 934.96 229.09 935.46 229.96 935.96 230.83 936.46 231.7 936.96 232.58 937.46 233.45 937.96 234.33 938.46 235.21 938.96 236.1 939.46 236.98 939.96 237.87 940.46 238.76 940.96 239.65 941.46 240.55 941.96 241.44 942.46 242.34 942.96 243.24 943.46 244.15 943.96 245.05 944.46 245.96 944.96 246.87 945.46 247.78 945.96 248.69 946.46 249.61 946.96 250.53 947.46 251.45 947.96 252.37 948.46 253.29 948.96 254.22 949.46 255.14 949.96 256.07 950.46 257.01 950.96 257.94 951.46 258.87 951.96 259.81 952.46 260.75 952.96 261.69 953.46 262.63 953.96 263.58 954.46 264.53 954.96 265.47 955.46 266.42 955.96 267.38 956.46 268.33 956.96 269.29 957.46 270.24 957.96 271.2 958.46 272.16 958.96 273.12 959.46 274.09 959.96 275.06 960.46 276.02 960.96 276.99 961.46 277.96 961.96 278.94 962.46 279.91 962.96 280.89 963.46 281.86 963.96 282.84 964.46 283.82 964.96 284.81 965.46 285.79 965.96 286.78 966.46 287.76 966.96 288.75 967.46 289.74 967.96 290.73 968.46 291.73 968.96 292.72 969.46 293.72 969.96 294.72 970.46 295.72 970.96 296.72 971.46 297.72 971.96 298.72 972.46 299.73 972.96 300.73 973.46 301.74 973.96 302.75 974.46 303.76 974.96 304.77 975.46 305.79 975.96 306.8 976.46 307.82 976.96 308.83 977.46 309.85 977.96 310.87 978.46 311.89 978.96 312.91 979.46 313.94 979.96 314.96 980.46 315.99 980.96 317.02 981.46 318.04 981.96 319.07 982.46 320.1 982.96 321.14 983.46 322.17 983.96 323.2 984.46 324.24 984.96 325.27 985.46 326.31 985.96 327.35 986.46 328.39 986.96 329.43 987.46 330.47 987.96 331.51 988.46 332.56 988.96 333.6 989.46 334.65 989.96 335.69 990.46 336.74 990.96 337.79 991.46 338.84 991.96 339.89 992.46 340.94 992.96 341.99 993.46 343.05 993.96 344.1 994.46 345.16 L994.46 362.62 993.96 362.72 993.46 362.78 992.96 362.8 992.46 362.77 991.96 362.71 991.46 362.6 990.96 362.45 990.46 362.25 989.96 362 989.46 361.68 988.96 361.29 988.46 360.81 987.96 360.2 987.46 359.37 986.96 358.31 986.46 357.25 985.96 356.19 985.46 355.13 984.96 354.07 984.46 353.01 983.96 351.96 983.46 350.9 982.96 349.85 982.46 348.79 981.96 347.74 981.46 346.68 980.96 345.63 980.46 344.58 979.96 343.53 979.46 342.48 978.96 341.44 978.46 340.39 977.96 339.34 977.46 338.3 976.96 337.25 976.46 336.21 975.96 335.17 975.46 334.13 974.96 333.09 974.46 332.05 973.96 331.01 973.46 329.97 972.96 328.94 972.46 327.9 971.96 326.87 971.46 325.84 970.96 324.81 970.46 323.78 969.96 322.75 969.46 321.72 968.96 320.7 968.46 319.67 967.96 318.65 967.46 317.62 966.96 316.6 966.46 315.58 965.96 314.56 965.46 313.55 964.96 312.53 964.46 311.52 963.96 310.5 963.46 309.49 962.96 308.48 962.46 307.47 961.96 306.46 961.46 305.46 960.96 304.45 960.46 303.45 959.96 302.44 959.46 301.44 958.96 300.44 958.46 299.45 957.96 298.45 957.46 297.45 956.96 296.46 956.46 295.47 955.96 294.48 955.46 293.49 954.96 292.5 954.46 291.52 953.96 290.53 953.46 289.55 952.96 288.57 952.46 287.59 951.96 286.61 951.46 285.63 950.96 284.66 950.46 283.69 949.96 282.72 949.46 281.75 948.96 280.78 948.46 279.81 947.96 278.85 947.46 277.89 946.96 276.93 946.46 275.97 945.96 275.01 945.46 274.05 944.96 273.1 944.46 272.15 943.96 271.2 943.46 270.25 942.96 269.3 942.46 268.36 941.96 267.42 941.46 266.48 940.96 265.54 940.46 264.6 939.96 263.66 939.46 262.73 938.96 261.8 938.46 260.87 937.96 259.94 937.46 259.02 936.96 258.1 936.46 257.17 935.96 256.26 935.46 255.34 934.96 254.42 934.46 253.51 933.96 252.6 933.46 251.69 932.96 250.78 932.46 249.88 931.96 248.98 931.46 248.08 930.96 247.18 930.46 246.28 929.96 245.39 929.46 244.5 928.96 243.61 928.46 242.72 927.96 241.84 927.46 240.95 926.96 240.07 926.46 239.19 925.96 238.32 925.46 237.44 924.96 236.57 924.46 235.7 923.96 234.84 923.46 233.97 922.96 233.11 922.46 232.25 921.96 231.39 921.46 230.54 920.96 229.69 920.46 228.84 919.96 227.99 919.46 227.14 918.96 226.3 918.46 225.46 917.96 224.62 917.46 223.79 916.96 222.95 916.46 222.12 915.96 221.3 915.46 220.47 914.96 219.65 914.46 218.83 913.96 218.01 913.46 217.2 912.96 216.38 912.46 215.57 911.96 214.77 911.46 213.96 910.96 213.16 910.46 212.36 909.96 211.57 909.46 210.77 908.96 209.98 908.46 209.19 907.96 208.41 907.46 207.62 906.96 206.84 906.46 206.06 905.96 205.29 905.46 204.51 904.96 203.74 904.46 202.97 903.96 202.21 903.46 201.45 902.96 200.69 902.46 199.93 901.96 199.17 901.46 198.42 900.96 197.67 900.46 196.92 899.96 196.18 899.46 195.43 898.96 194.69 898.46 193.95 897.96 193.22 897.46 192.49 896.96 191.76 896.46 191.03 895.96 190.3 895.46 189.58 894.96 188.86 894.46 188.14 893.96 187.42 893.46 186.71 892.96 186 892.46 185.29 891.96 184.59 891.46 183.88 890.96 183.18 890.46 182.48 889.96 181.79 889.46 181.09 888.96 180.4 888.46 179.71 887.96 179.03 887.46 178.34 886.96 177.66 886.46 176.98 885.96 176.3 885.46 175.63 884.96 174.96 884.46 174.29 883.96 173.62 883.46 172.95 882.96 172.29 882.46 171.63 881.96 170.97 881.46 170.32 880.96 169.66 880.46 169.01 879.96 168.36 879.46 167.71 878.96 167.07 878.46 166.43 877.96 165.79 877.46 165.15 876.96 164.52 876.46 163.88 875.96 163.25 875.46 162.62 874.96 162 874.46 161.37 873.96 160.75 873.46 160.13 872.96 159.51 872.46 158.9 871.96 158.29 871.46 157.68 870.96 157.07 870.46 156.46 869.96 155.86 869.46 155.26 868.96 154.66 868.46 154.06 867.96 153.46 867.46 152.87 866.96 152.28 866.46 151.69 865.96 151.11 865.46 150.52 864.96 149.94 864.46 149.36 863.96 148.78 863.46 148.21 862.96 147.63 862.46 147.06 861.96 146.49 861.46 145.93 860.96 145.36 860.46 144.8 859.96 144.24 859.46 143.68 858.96 143.12 858.46 142.57 857.96 142.01 857.46 141.46 856.96 140.92 856.46 140.37 855.96 139.83 855.46 139.28 854.96 138.74 854.46 138.21 853.96 137.67 853.46 137.14 852.96 136.61 852.46 136.08 851.96 135.55 851.46 135.02 850.96 134.5 850.46 133.98 849.96 133.46 849.46 132.94 848.96 132.42 848.46 131.91 847.96 131.4 847.46 130.89 846.96 130.38 846.46 129.88 845.96 129.37 845.46 128.87 844.96 128.37 844.46 127.87 843.96 127.38 843.46 126.88 842.96 126.39 842.46 125.9 841.96 125.41 841.46 124.93 840.96 124.44 840.46 123.96 839.96 123.48 839.46 123 838.96 122.52 838.46 122.05 837.96 121.58 837.46 121.11 836.96 120.64 836.46 120.17 835.96 119.7 835.46 119.24 834.96 118.78 834.46 118.32 833.96 117.86 833.46 117.4 832.96 116.95 832.46 116.5 831.96 116.05 831.46 115.6 830.96 115.15 830.46 114.71 829.96 114.26 829.46 113.82 828.96 113.38 828.46 112.94 827.96 112.51 827.46 112.07 826.96 111.64 826.46 111.21 825.96 110.78 825.46 110.35 824.96 109.93 824.46 109.5 823.96 109.08 823.46 108.66 822.96 108.24 822.46 107.82 821.96 107.41 821.46 107 820.96 106.58 820.46 106.17 819.96 105.76 819.46 105.36 818.96 104.95 818.46 104.55 817.96 104.15 817.46 103.75 816.96 103.35 816.46 102.95 815.96 102.56 815.46 102.16 814.96 101.77 814.46 101.38 813.96 100.99 813.46 100.61 812.96 100.22 812.46 99.84 811.96 99.46 811.46 99.08 810.96 98.7 810.46 98.32 809.96 97.95 809.46 97.57 808.96 97.2 808.46 96.83 807.96 96.46 807.46 96.09 806.96 95.73 806.46 95.36 805.96 95 805.46 94.64 804.96 94.28 804.46 93.92 803.96 93.57 803.46 93.21 802.96 92.86 802.46 92.51 801.96 92.16 801.46 91.81 800.96 91.46 800.46 91.11 799.96 90.77 799.46 90.43 798.96 90.09 798.46 89.75 797.96 89.41 797.46 89.07 796.96 88.74 796.46 88.4 795.96 88.07 795.46 87.74 794.96 87.41 794.46 87.08 793.96 86.76 793.46 86.43 792.96 86.11 792.46 85.79 791.96 85.47 791.46 85.15 790.96 84.83 790.46 84.52 789.96 84.2 789.46 83.89 788.96 83.58 788.46 83.27 787.96 82.96 787.46 82.65 786.96 82.35 786.46 82.04 785.96 81.74 785.46 81.44 784.96 81.14 784.46 80.84 783.96 80.54 783.46 80.25 782.96 79.95 782.46 79.66 781.96 79.37 781.46 79.08 780.96 78.79 780.46 78.5 779.96 78.21 779.46 77.93 778.96 77.65 778.46 77.36 777.96 77.08 777.46 76.8 776.96 76.52 776.46 76.25 775.96 75.97 775.46 75.7 774.96 75.43 774.46 75.15 773.96 74.88 773.46 74.61 772.96 74.35 772.46 74.08 771.96 73.82 771.46 73.55 770.96 73.29 770.46 73.03 769.96 72.77 769.46 72.51 768.96 72.25 768.46 72 767.96 71.74 767.46 71.49 766.96 71.24 766.46 70.99 765.96 70.74 765.46 70.49 764.96 70.24 764.46 69.99 763.96 69.75 763.46 69.51 762.96 69.26 762.46 69.02 761.96 68.78 761.46 68.54 760.96 68.31 760.46 68.07 759.96 67.84 759.46 67.6 758.96 67.37 758.46 67.14 757.96 66.91 757.46 66.68 756.96 66.45 756.46 66.22 755.96 66 755.46 65.77 754.96 65.55 754.46 65.33 753.96 65.11 753.46 64.89 752.96 64.67 752.46 64.45 751.96 64.24 751.46 64.02 750.96 63.81 750.46 63.59 749.96 63.38 749.46 63.17 748.96 62.96 748.46 62.75 747.96 62.54 747.46 62.34 746.96 62.13 746.46 61.93 745.96 61.73 745.46 61.52 744.96 61.32 744.46 61.12 743.96 60.92 743.46 60.73 742.96 60.53 742.46 60.33 741.96 60.14 741.46 59.95 740.96 59.75 740.46 59.56 739.96 59.37 739.46 59.18 738.96 58.99 738.46 58.81 737.96 58.62 737.46 58.44 736.96 58.25 736.46 58.07 735.96 57.89 735.46 57.7 734.96 57.52 734.46 57.34 733.96 57.17 733.46 56.99 732.96 56.81 732.46 56.64 731.96 56.46 731.46 56.29 730.96 56.12 730.46 55.95 729.96 55.78 729.46 55.61 728.96 55.44 728.46 55.27 727.96 55.1 727.46 54.94 726.96 54.77 726.46 54.61 725.96 54.44 725.46 54.28 724.96 54.12 724.46 53.96 723.96 53.8 723.46 53.64 722.96 53.49 722.46 53.33 721.96 53.17 721.46 53.02 720.96 52.86 720.46 52.71 719.96 52.56 719.46 52.41 718.96 52.26 718.46 52.11 717.96 51.96 717.46 51.81 716.96 51.66 716.46 51.52 715.96 51.37 715.46 51.23 714.96 51.08 714.46 50.94 713.96 50.8 713.46 50.65 712.96 50.51 712.46 50.37 711.96 50.24 711.46 50.1 710.96 49.96 710.46 49.82 709.96 49.69 709.46 49.55 708.96 49.42 708.46 49.28 707.96 49.15 707.46 49.02 706.96 48.89 706.46 48.76 705.96 48.63 705.46 48.5 704.96 48.37 704.46 48.24 703.96 48.12 703.46 47.99 702.96 47.87 702.46 47.74 701.96 47.62 701.46 47.49 700.96 47.37 700.46 47.25 699.96 47.13 699.46 47.01 698.96 46.89 698.46 46.77 697.96 46.65 697.46 46.54 696.96 46.42 696.46 46.3 695.96 46.19 695.46 46.07 694.96 45.96 694.46 45.84 693.96 45.73 693.46 45.62 692.96 45.51 692.46 45.4 691.96 45.29 691.46 45.18 690.96 45.07 690.46 44.96 689.96 44.85 689.46 44.75 688.96 44.64 688.46 44.53 687.96 44.43 687.46 44.32 686.96 44.22 686.46 44.12 685.96 44.01 685.46 43.91 684.96 43.81 684.46 43.71 683.96 43.61 683.46 43.51 682.96 43.41 682.46 43.31 681.96 43.21 681.46 43.11 680.96 43.02 680.46 42.92 679.96 42.82 679.46 42.73 678.96 42.63 678.46 42.54 677.96 42.44 677.46 42.35 676.96 42.26 676.46 42.16 675.96 42.07 675.46 41.98 674.96 41.89 674.46 41.8 673.96 41.71 673.46 41.62 672.96 41.53 672.46 41.44 671.96 41.35 671.46 41.27 670.96 41.18 670.46 41.09 669.96 41.01 669.46 40.92 668.96 40.84 668.46 40.75 667.96 40.67 667.46 40.58 666.96 40.5 666.46 40.42 665.96 40.33 665.46 40.25 664.96 40.17 664.46 40.09 663.96 40.01 663.46 39.93 662.96 39.85 662.46 39.77 661.96 39.69 661.46 39.61 660.96 39.53 660.46 39.45 659.96 39.37 659.46 39.3 658.96 39.22 658.46 39.14 657.96 39.07 657.46 38.99 656.96 38.91 656.46 38.84 655.96 38.76 655.46 38.69 654.96 38.62 654.46 38.54 653.96 38.47 653.46 38.4 652.96 38.32 652.46 38.25 651.96 38.18 651.46 38.11 650.96 38.03 650.46 37.96 649.96 37.89 649.46 37.82 648.96 37.75 648.46 37.68 647.96 37.61 647.46 37.54 646.96 37.47 646.46 37.4 645.96 37.33 645.46 37.26 644.96 37.19 644.46 37.13 643.96 37.06 643.46 36.99 642.96 36.92 642.46 36.86 641.96 36.79 641.46 36.72 640.96 36.66 640.46 36.59 639.96 36.52 639.46 36.46 638.96 36.39 638.46 36.33 637.96 36.26 637.46 36.2 636.96 36.13 636.46 36.07 635.96 36 635.46 35.94 634.96 35.87 634.46 35.81 633.96 35.75 633.46 35.69 632.96 35.62 632.46 35.56 631.96 35.49 631.46 35.43 630.96 35.37 630.46 35.31 629.96 35.25 629.46 35.19 628.96 35.12 628.46 35.06 627.96 35 627.46 34.94 626.96 34.88 626.46 34.82 625.96 34.76 625.46 34.7 624.96 34.64 624.46 34.58 623.96 34.52 623.46 34.46 622.96 34.4 622.46 34.35 621.96 34.29 621.46 34.23 620.96 34.17 620.46 34.11 619.96 34.05 619.46 34 618.96 33.94 618.46 33.88 617.96 33.82 617.46 33.77 616.96 33.71 616.46 33.66 615.96 33.6 615.46 33.54 614.96 33.49 614.46 33.43 613.96 33.38 613.46 33.32 612.96 33.27 612.46 33.21 611.96 33.16 611.46 33.1 610.96 33.04 610.46 32.99 609.96 32.94 609.46 32.88 608.96 32.83 608.46 32.78 607.96 32.73 607.46 32.67 606.96 32.62 606.46 32.57 605.96 32.51 605.46 32.46 604.96 32.41 604.46 32.36 603.96 32.31 603.46 32.26 602.96 32.2 602.46 32.15 601.96 32.1 601.46 32.05 600.96 32 600.46 31.95 599.96 31.9 599.46 31.85 598.96 31.8 598.46 31.75 597.96 31.7 597.46 31.65 596.96 31.6 596.46 31.56 595.96 31.51 595.46 31.46 594.96 31.4 594.46 31.36 593.96 31.32 593.46 31.27 592.96 31.21 592.46 31.17 591.96 31.13 591.46 31.08 590.96 31.02 590.46 30.98 589.96 30.94 589.46 30.89 588.96 30.84 588.46 30.8 587.96 30.75 587.46 30.7 586.96 30.66 586.46 30.62 585.96 30.57 585.46 30.52 584.96 30.48 584.46 30.44 583.96 30.39 583.46 30.35 582.96 30.3 582.46 30.25 581.96 30.22 581.46 30.17 580.96 30.12 580.46 30.09 579.96 30.04 579.46 29.99 578.96 29.96 578.46 29.91 577.96 29.87 577.46 29.83 576.96 29.79 576.46 29.75 575.96 29.71 575.46 29.66 574.96 29.62 574.46 29.58 573.96 29.53 573.46 29.5 572.96 29.45 572.46 29.42 571.96 29.38 571.46 29.33 570.96 29.3 570.46 29.25 569.96 29.22 569.46 29.18 568.96 29.13 568.46 29.1 567.96 29.05 567.46 29.02 566.96 28.98 566.46 28.94 565.96 28.91 565.46 28.86 564.96 28.83 564.46 28.78 563.96 28.76 563.46 28.71 562.96 28.68 562.46 28.64 561.96 28.6 561.46 28.57 560.96 28.53 560.46 28.5 559.96 28.45 559.46 28.42 558.96 28.38 558.46 28.35 557.96 28.3 557.46 28.28 556.96 28.23 556.46 28.21 555.96 28.16 555.46 28.14 554.96 28.08 554.46 27.98 553.96 27.84 553.46 27.65 552.96 27.41 552.46 27.11 551.96 26.74 551.46 26.27 550.96 25.69 550.46 24.91 549.96 23.7Z" fill="#0000ff"/>
</g>
<rect x="770" y="232.5" width="214.8" height="332.7" fill="#fff"/>
<path d="M786.9 295.5H806.5M820.3 295.5H840.5" stroke="#000000" stroke-width="4.4"/>
<circle cx="813.4" cy="295.5" r="5.75" fill="#000000"/>
<text x="851" y="304.1" font-size="34">fo=1x10<tspan font-size="21" dy="-19.2">5</tspan></text>
<path d="M786.9 346.05H806.5M820.3 346.05H840.5" stroke="#808000" stroke-width="4.2"/>
<circle cx="813.4" cy="346.05" r="5.75" fill="#808000"/>
<text x="851" y="354.65" font-size="34">fo=1x10<tspan font-size="21" dy="-19.2">4</tspan></text>
<path d="M786.9 396.6H806.5M820.3 396.6H840.5" stroke="#ff0000" stroke-width="3.3"/>
<circle cx="813.4" cy="396.6" r="5.75" fill="#ff0000"/>
<text x="851" y="405.2" font-size="34">fo=1x10<tspan font-size="21" dy="-19.2">3</tspan></text>
<path d="M786.9 447.15H806.5M820.3 447.15H840.5" stroke="#008000" stroke-width="3.3"/>
<circle cx="813.4" cy="447.15" r="5.75" fill="#008000"/>
<text x="851" y="455.75" font-size="34">fo=1x10<tspan font-size="21" dy="-19.2">2</tspan></text>
<path d="M786.9 497.7H806.5M820.3 497.7H840.5" stroke="#800080" stroke-width="3.3"/>
<circle cx="813.4" cy="497.7" r="5.75" fill="#800080"/>
<text x="851" y="506.3" font-size="34">fo=1x10<tspan font-size="21" dy="-19.2">1</tspan></text>
<path d="M786.9 548.25H806.5M820.3 548.25H840.5" stroke="#0000ff" stroke-width="3.3"/>
<circle cx="813.4" cy="548.25" r="5.75" fill="#0000ff"/>
<text x="851" y="556.85" font-size="34">fo=1x10<tspan font-size="21" dy="-19.2">0</tspan></text>
<text x="112.8" y="528.8" font-size="41.5" text-anchor="end">0.0</text>
<text x="112.8" y="428.6" font-size="41.5" text-anchor="end">0.2</text>
<text x="112.8" y="328.4" font-size="41.5" text-anchor="end">0.4</text>
<text x="112.8" y="228.2" font-size="41.5" text-anchor="end">0.6</text>
<text x="112.8" y="128" font-size="41.5" text-anchor="end">0.8</text>
<text x="112.8" y="27.8" font-size="41.5" text-anchor="end">1.0</text>
<text x="98.9" y="623.2" font-size="41.5">10<tspan font-size="24" dy="-22.8">-5</tspan></text>
<text x="314.55" y="623.2" font-size="41.5">10<tspan font-size="24" dy="-22.8">-4</tspan></text>
<text x="530.2" y="623.2" font-size="41.5">10<tspan font-size="24" dy="-22.8">-3</tspan></text>
<text x="745.85" y="623.2" font-size="41.5">10<tspan font-size="24" dy="-22.8">-2</tspan></text>
<text x="961.5" y="623.2" font-size="41.5">10<tspan font-size="24" dy="-22.8">-1</tspan></text>
<text x="474.6" y="682.3" font-size="52.7">Delay (s)</text>
<text transform="translate(37.2 489.6) rotate(-90)" font-size="53">Autocorrelation</text>
</svg></body></html>
